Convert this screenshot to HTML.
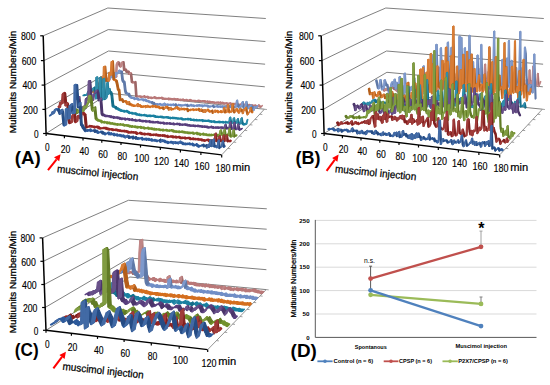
<!DOCTYPE html>
<html><head><meta charset="utf-8"><style>
html,body{margin:0;padding:0;background:#fff;width:550px;height:385px;overflow:hidden}
svg{display:block}
text{font-family:"Liberation Sans",sans-serif}
</style></head><body>
<svg width="550" height="385" viewBox="0 0 550 385">
<rect width="550" height="385" fill="#fff"/>
<line x1="46.1" y1="133.5" x2="109.2" y2="93.3" stroke="#727272" stroke-width="0.9"/>
<line x1="109.2" y1="93.3" x2="264.4" y2="109.2" stroke="#727272" stroke-width="0.9"/>
<line x1="45.4" y1="109.4" x2="108.9" y2="72.3" stroke="#727272" stroke-width="0.9"/>
<line x1="108.9" y1="72.3" x2="264.8" y2="86.8" stroke="#727272" stroke-width="0.9"/>
<line x1="44.6" y1="85.1" x2="108.5" y2="51" stroke="#727272" stroke-width="0.9"/>
<line x1="108.5" y1="51" x2="265.1" y2="64.2" stroke="#727272" stroke-width="0.9"/>
<line x1="43.9" y1="60.6" x2="108.2" y2="29.6" stroke="#727272" stroke-width="0.9"/>
<line x1="108.2" y1="29.6" x2="265.4" y2="41.5" stroke="#727272" stroke-width="0.9"/>
<line x1="43.2" y1="35.8" x2="107.8" y2="8" stroke="#727272" stroke-width="0.9"/>
<line x1="107.8" y1="8" x2="265.8" y2="18.5" stroke="#727272" stroke-width="0.9"/>
<line x1="46.1" y1="133.5" x2="43.2" y2="35.8" stroke="#000" stroke-width="1.5"/>
<line x1="43.1" y1="133.5" x2="46.1" y2="133.5" stroke="#000" stroke-width="1.2"/>
<line x1="42.4" y1="109.4" x2="45.4" y2="109.4" stroke="#000" stroke-width="1.2"/>
<line x1="41.6" y1="85.1" x2="44.6" y2="85.1" stroke="#000" stroke-width="1.2"/>
<line x1="40.9" y1="60.6" x2="43.9" y2="60.6" stroke="#000" stroke-width="1.2"/>
<line x1="40.2" y1="35.8" x2="43.2" y2="35.8" stroke="#000" stroke-width="1.2"/>
<line x1="46.1" y1="133.5" x2="221.7" y2="154.9" stroke="#000" stroke-width="1.4"/>
<line x1="46.1" y1="133.5" x2="46.1" y2="136" stroke="#000" stroke-width="1.2"/>
<line x1="64.4" y1="135.7" x2="64.4" y2="138.2" stroke="#000" stroke-width="1.2"/>
<line x1="83" y1="138" x2="83" y2="140.5" stroke="#000" stroke-width="1.2"/>
<line x1="101.8" y1="140.3" x2="101.8" y2="142.8" stroke="#000" stroke-width="1.2"/>
<line x1="121" y1="142.6" x2="121" y2="145.1" stroke="#000" stroke-width="1.2"/>
<line x1="140.5" y1="145" x2="140.5" y2="147.5" stroke="#000" stroke-width="1.2"/>
<line x1="160.3" y1="147.4" x2="160.3" y2="149.9" stroke="#000" stroke-width="1.2"/>
<line x1="180.4" y1="149.9" x2="180.4" y2="152.4" stroke="#000" stroke-width="1.2"/>
<line x1="200.9" y1="152.4" x2="200.9" y2="154.9" stroke="#000" stroke-width="1.2"/>
<line x1="221.7" y1="154.9" x2="221.7" y2="157.4" stroke="#000" stroke-width="1.2"/>
<line x1="221.7" y1="154.9" x2="264.4" y2="109.2" stroke="#888" stroke-width="0.9"/>
<line x1="227.8" y1="148.4" x2="230.3" y2="148.7" stroke="#888" stroke-width="0.8"/>
<line x1="233.7" y1="142.1" x2="236.2" y2="142.4" stroke="#888" stroke-width="0.8"/>
<line x1="239.3" y1="136.1" x2="241.8" y2="136.4" stroke="#888" stroke-width="0.8"/>
<line x1="244.7" y1="130.3" x2="247.2" y2="130.6" stroke="#888" stroke-width="0.8"/>
<line x1="249.9" y1="124.7" x2="252.4" y2="125" stroke="#888" stroke-width="0.8"/>
<line x1="254.9" y1="119.4" x2="257.4" y2="119.7" stroke="#888" stroke-width="0.8"/>
<line x1="259.8" y1="114.2" x2="262.3" y2="114.5" stroke="#888" stroke-width="0.8"/>
<line x1="264.4" y1="109.2" x2="266.9" y2="109.5" stroke="#888" stroke-width="0.8"/>
<text x="38.5" y="137.7" font-size="10" text-anchor="end" textLength="4.6" lengthAdjust="spacingAndGlyphs" fill="#000" stroke="#000" stroke-width="0.15">0</text>
<text x="37.8" y="113.6" font-size="10" text-anchor="end" textLength="14.6" lengthAdjust="spacingAndGlyphs" fill="#000" stroke="#000" stroke-width="0.15">200</text>
<text x="37" y="89.3" font-size="10" text-anchor="end" textLength="14.6" lengthAdjust="spacingAndGlyphs" fill="#000" stroke="#000" stroke-width="0.15">400</text>
<text x="36.3" y="64.8" font-size="10" text-anchor="end" textLength="14.6" lengthAdjust="spacingAndGlyphs" fill="#000" stroke="#000" stroke-width="0.15">600</text>
<text x="35.6" y="40" font-size="10" text-anchor="end" textLength="14.6" lengthAdjust="spacingAndGlyphs" fill="#000" stroke="#000" stroke-width="0.15">800</text>
<text x="47.3" y="150.8" font-size="10" text-anchor="middle" textLength="4.6" lengthAdjust="spacingAndGlyphs" fill="#000" stroke="#000" stroke-width="0.15">0</text>
<text x="65.6" y="153" font-size="10" text-anchor="middle" textLength="9.6" lengthAdjust="spacingAndGlyphs" fill="#000" stroke="#000" stroke-width="0.15">20</text>
<text x="84.2" y="155.3" font-size="10" text-anchor="middle" textLength="9.6" lengthAdjust="spacingAndGlyphs" fill="#000" stroke="#000" stroke-width="0.15">40</text>
<text x="103" y="157.6" font-size="10" text-anchor="middle" textLength="9.6" lengthAdjust="spacingAndGlyphs" fill="#000" stroke="#000" stroke-width="0.15">60</text>
<text x="122.2" y="159.9" font-size="10" text-anchor="middle" textLength="9.6" lengthAdjust="spacingAndGlyphs" fill="#000" stroke="#000" stroke-width="0.15">80</text>
<text x="141.7" y="162.3" font-size="10" text-anchor="middle" textLength="15" lengthAdjust="spacingAndGlyphs" fill="#000" stroke="#000" stroke-width="0.15">100</text>
<text x="161.5" y="164.7" font-size="10" text-anchor="middle" textLength="15" lengthAdjust="spacingAndGlyphs" fill="#000" stroke="#000" stroke-width="0.15">120</text>
<text x="181.6" y="167.2" font-size="10" text-anchor="middle" textLength="15" lengthAdjust="spacingAndGlyphs" fill="#000" stroke="#000" stroke-width="0.15">140</text>
<text x="202.1" y="169.7" font-size="10" text-anchor="middle" textLength="15" lengthAdjust="spacingAndGlyphs" fill="#000" stroke="#000" stroke-width="0.15">160</text>
<text x="222.9" y="172.2" font-size="10" text-anchor="middle" textLength="15" lengthAdjust="spacingAndGlyphs" fill="#000" stroke="#000" stroke-width="0.15">180</text>
<text x="232.2" y="170.6" font-size="10.5" textLength="18" lengthAdjust="spacingAndGlyphs" fill="#000" stroke="#000" stroke-width="0.2">min</text>
<line x1="324.1" y1="133.5" x2="387.2" y2="93.3" stroke="#727272" stroke-width="0.9"/>
<line x1="387.2" y1="93.3" x2="542.4" y2="109.2" stroke="#727272" stroke-width="0.9"/>
<line x1="323.4" y1="109.4" x2="386.9" y2="72.3" stroke="#727272" stroke-width="0.9"/>
<line x1="386.9" y1="72.3" x2="542.8" y2="86.8" stroke="#727272" stroke-width="0.9"/>
<line x1="322.6" y1="85.1" x2="386.5" y2="51" stroke="#727272" stroke-width="0.9"/>
<line x1="386.5" y1="51" x2="543.1" y2="64.2" stroke="#727272" stroke-width="0.9"/>
<line x1="321.9" y1="60.6" x2="386.2" y2="29.6" stroke="#727272" stroke-width="0.9"/>
<line x1="386.2" y1="29.6" x2="543.4" y2="41.5" stroke="#727272" stroke-width="0.9"/>
<line x1="321.2" y1="35.8" x2="385.8" y2="8" stroke="#727272" stroke-width="0.9"/>
<line x1="385.8" y1="8" x2="543.8" y2="18.5" stroke="#727272" stroke-width="0.9"/>
<line x1="324.1" y1="133.5" x2="321.2" y2="35.8" stroke="#000" stroke-width="1.5"/>
<line x1="321.1" y1="133.5" x2="324.1" y2="133.5" stroke="#000" stroke-width="1.2"/>
<line x1="320.4" y1="109.4" x2="323.4" y2="109.4" stroke="#000" stroke-width="1.2"/>
<line x1="319.6" y1="85.1" x2="322.6" y2="85.1" stroke="#000" stroke-width="1.2"/>
<line x1="318.9" y1="60.6" x2="321.9" y2="60.6" stroke="#000" stroke-width="1.2"/>
<line x1="318.2" y1="35.8" x2="321.2" y2="35.8" stroke="#000" stroke-width="1.2"/>
<line x1="324.1" y1="133.5" x2="499.7" y2="154.9" stroke="#000" stroke-width="1.4"/>
<line x1="324.1" y1="133.5" x2="324.1" y2="136" stroke="#000" stroke-width="1.2"/>
<line x1="342.4" y1="135.7" x2="342.4" y2="138.2" stroke="#000" stroke-width="1.2"/>
<line x1="361" y1="138" x2="361" y2="140.5" stroke="#000" stroke-width="1.2"/>
<line x1="379.8" y1="140.3" x2="379.8" y2="142.8" stroke="#000" stroke-width="1.2"/>
<line x1="399" y1="142.6" x2="399" y2="145.1" stroke="#000" stroke-width="1.2"/>
<line x1="418.5" y1="145" x2="418.5" y2="147.5" stroke="#000" stroke-width="1.2"/>
<line x1="438.3" y1="147.4" x2="438.3" y2="149.9" stroke="#000" stroke-width="1.2"/>
<line x1="458.4" y1="149.9" x2="458.4" y2="152.4" stroke="#000" stroke-width="1.2"/>
<line x1="478.9" y1="152.4" x2="478.9" y2="154.9" stroke="#000" stroke-width="1.2"/>
<line x1="499.7" y1="154.9" x2="499.7" y2="157.4" stroke="#000" stroke-width="1.2"/>
<line x1="499.7" y1="154.9" x2="542.4" y2="109.2" stroke="#888" stroke-width="0.9"/>
<line x1="505.8" y1="148.4" x2="508.3" y2="148.7" stroke="#888" stroke-width="0.8"/>
<line x1="511.7" y1="142.1" x2="514.2" y2="142.4" stroke="#888" stroke-width="0.8"/>
<line x1="517.3" y1="136.1" x2="519.8" y2="136.4" stroke="#888" stroke-width="0.8"/>
<line x1="522.7" y1="130.3" x2="525.2" y2="130.6" stroke="#888" stroke-width="0.8"/>
<line x1="527.9" y1="124.7" x2="530.4" y2="125" stroke="#888" stroke-width="0.8"/>
<line x1="532.9" y1="119.4" x2="535.4" y2="119.7" stroke="#888" stroke-width="0.8"/>
<line x1="537.8" y1="114.2" x2="540.3" y2="114.5" stroke="#888" stroke-width="0.8"/>
<line x1="542.4" y1="109.2" x2="544.9" y2="109.5" stroke="#888" stroke-width="0.8"/>
<text x="316.5" y="137.7" font-size="10" text-anchor="end" textLength="4.6" lengthAdjust="spacingAndGlyphs" fill="#000" stroke="#000" stroke-width="0.15">0</text>
<text x="315.8" y="113.6" font-size="10" text-anchor="end" textLength="14.6" lengthAdjust="spacingAndGlyphs" fill="#000" stroke="#000" stroke-width="0.15">200</text>
<text x="315" y="89.3" font-size="10" text-anchor="end" textLength="14.6" lengthAdjust="spacingAndGlyphs" fill="#000" stroke="#000" stroke-width="0.15">400</text>
<text x="314.3" y="64.8" font-size="10" text-anchor="end" textLength="14.6" lengthAdjust="spacingAndGlyphs" fill="#000" stroke="#000" stroke-width="0.15">600</text>
<text x="313.6" y="40" font-size="10" text-anchor="end" textLength="14.6" lengthAdjust="spacingAndGlyphs" fill="#000" stroke="#000" stroke-width="0.15">800</text>
<text x="325.3" y="150.8" font-size="10" text-anchor="middle" textLength="4.6" lengthAdjust="spacingAndGlyphs" fill="#000" stroke="#000" stroke-width="0.15">0</text>
<text x="343.6" y="153" font-size="10" text-anchor="middle" textLength="9.6" lengthAdjust="spacingAndGlyphs" fill="#000" stroke="#000" stroke-width="0.15">20</text>
<text x="362.2" y="155.3" font-size="10" text-anchor="middle" textLength="9.6" lengthAdjust="spacingAndGlyphs" fill="#000" stroke="#000" stroke-width="0.15">40</text>
<text x="381" y="157.6" font-size="10" text-anchor="middle" textLength="9.6" lengthAdjust="spacingAndGlyphs" fill="#000" stroke="#000" stroke-width="0.15">60</text>
<text x="400.2" y="159.9" font-size="10" text-anchor="middle" textLength="9.6" lengthAdjust="spacingAndGlyphs" fill="#000" stroke="#000" stroke-width="0.15">80</text>
<text x="419.7" y="162.3" font-size="10" text-anchor="middle" textLength="15" lengthAdjust="spacingAndGlyphs" fill="#000" stroke="#000" stroke-width="0.15">100</text>
<text x="439.5" y="164.7" font-size="10" text-anchor="middle" textLength="15" lengthAdjust="spacingAndGlyphs" fill="#000" stroke="#000" stroke-width="0.15">120</text>
<text x="459.6" y="167.2" font-size="10" text-anchor="middle" textLength="15" lengthAdjust="spacingAndGlyphs" fill="#000" stroke="#000" stroke-width="0.15">140</text>
<text x="480.1" y="169.7" font-size="10" text-anchor="middle" textLength="15" lengthAdjust="spacingAndGlyphs" fill="#000" stroke="#000" stroke-width="0.15">160</text>
<text x="500.9" y="172.2" font-size="10" text-anchor="middle" textLength="15" lengthAdjust="spacingAndGlyphs" fill="#000" stroke="#000" stroke-width="0.15">180</text>
<text x="510.2" y="170.6" font-size="10.5" textLength="18" lengthAdjust="spacingAndGlyphs" fill="#000" stroke="#000" stroke-width="0.2">min</text>
<line x1="46" y1="330.3" x2="129.9" y2="277" stroke="#727272" stroke-width="0.9"/>
<line x1="129.9" y1="277" x2="266.2" y2="289.6" stroke="#727272" stroke-width="0.9"/>
<line x1="45.1" y1="307.5" x2="129.5" y2="258" stroke="#727272" stroke-width="0.9"/>
<line x1="129.5" y1="258" x2="266.4" y2="269.7" stroke="#727272" stroke-width="0.9"/>
<line x1="44.3" y1="284.5" x2="129.2" y2="238.9" stroke="#727272" stroke-width="0.9"/>
<line x1="129.2" y1="238.9" x2="266.5" y2="249.5" stroke="#727272" stroke-width="0.9"/>
<line x1="43.4" y1="261.3" x2="128.8" y2="219.7" stroke="#727272" stroke-width="0.9"/>
<line x1="128.8" y1="219.7" x2="266.7" y2="229.2" stroke="#727272" stroke-width="0.9"/>
<line x1="42.6" y1="237.9" x2="128.4" y2="200.3" stroke="#727272" stroke-width="0.9"/>
<line x1="128.4" y1="200.3" x2="266.8" y2="208.8" stroke="#727272" stroke-width="0.9"/>
<line x1="46" y1="330.3" x2="42.6" y2="237.9" stroke="#000" stroke-width="1.5"/>
<line x1="43" y1="330.3" x2="46" y2="330.3" stroke="#000" stroke-width="1.2"/>
<line x1="42.1" y1="307.5" x2="45.1" y2="307.5" stroke="#000" stroke-width="1.2"/>
<line x1="41.3" y1="284.5" x2="44.3" y2="284.5" stroke="#000" stroke-width="1.2"/>
<line x1="40.4" y1="261.3" x2="43.4" y2="261.3" stroke="#000" stroke-width="1.2"/>
<line x1="39.6" y1="237.9" x2="42.6" y2="237.9" stroke="#000" stroke-width="1.2"/>
<line x1="46" y1="330.3" x2="207.7" y2="349.6" stroke="#000" stroke-width="1.4"/>
<line x1="46" y1="330.3" x2="46" y2="332.8" stroke="#000" stroke-width="1.2"/>
<line x1="71.4" y1="333.3" x2="71.4" y2="335.8" stroke="#000" stroke-width="1.2"/>
<line x1="97.5" y1="336.4" x2="97.5" y2="338.9" stroke="#000" stroke-width="1.2"/>
<line x1="124.1" y1="339.6" x2="124.1" y2="342.1" stroke="#000" stroke-width="1.2"/>
<line x1="151.3" y1="342.9" x2="151.3" y2="345.4" stroke="#000" stroke-width="1.2"/>
<line x1="179.2" y1="346.2" x2="179.2" y2="348.7" stroke="#000" stroke-width="1.2"/>
<line x1="207.7" y1="349.6" x2="207.7" y2="352.1" stroke="#000" stroke-width="1.2"/>
<line x1="207.7" y1="349.6" x2="266.2" y2="289.6" stroke="#888" stroke-width="0.9"/>
<line x1="216.4" y1="340.6" x2="218.9" y2="340.9" stroke="#888" stroke-width="0.8"/>
<line x1="224.7" y1="332.2" x2="227.2" y2="332.5" stroke="#888" stroke-width="0.8"/>
<line x1="232.5" y1="324.1" x2="235" y2="324.4" stroke="#888" stroke-width="0.8"/>
<line x1="240" y1="316.5" x2="242.5" y2="316.8" stroke="#888" stroke-width="0.8"/>
<line x1="247" y1="309.3" x2="249.5" y2="309.6" stroke="#888" stroke-width="0.8"/>
<line x1="253.7" y1="302.4" x2="256.2" y2="302.7" stroke="#888" stroke-width="0.8"/>
<line x1="260.1" y1="295.9" x2="262.6" y2="296.2" stroke="#888" stroke-width="0.8"/>
<line x1="266.2" y1="289.6" x2="268.7" y2="289.9" stroke="#888" stroke-width="0.8"/>
<text x="38.4" y="334.5" font-size="10" text-anchor="end" textLength="4.6" lengthAdjust="spacingAndGlyphs" fill="#000" stroke="#000" stroke-width="0.15">0</text>
<text x="37.5" y="311.7" font-size="10" text-anchor="end" textLength="14.6" lengthAdjust="spacingAndGlyphs" fill="#000" stroke="#000" stroke-width="0.15">200</text>
<text x="36.7" y="288.7" font-size="10" text-anchor="end" textLength="14.6" lengthAdjust="spacingAndGlyphs" fill="#000" stroke="#000" stroke-width="0.15">400</text>
<text x="35.8" y="265.5" font-size="10" text-anchor="end" textLength="14.6" lengthAdjust="spacingAndGlyphs" fill="#000" stroke="#000" stroke-width="0.15">600</text>
<text x="35" y="242.1" font-size="10" text-anchor="end" textLength="14.6" lengthAdjust="spacingAndGlyphs" fill="#000" stroke="#000" stroke-width="0.15">800</text>
<text x="47.2" y="347.6" font-size="10" text-anchor="middle" textLength="4.6" lengthAdjust="spacingAndGlyphs" fill="#000" stroke="#000" stroke-width="0.15">0</text>
<text x="72.6" y="350.6" font-size="10" text-anchor="middle" textLength="9.6" lengthAdjust="spacingAndGlyphs" fill="#000" stroke="#000" stroke-width="0.15">20</text>
<text x="98.7" y="353.7" font-size="10" text-anchor="middle" textLength="9.6" lengthAdjust="spacingAndGlyphs" fill="#000" stroke="#000" stroke-width="0.15">40</text>
<text x="125.3" y="356.9" font-size="10" text-anchor="middle" textLength="9.6" lengthAdjust="spacingAndGlyphs" fill="#000" stroke="#000" stroke-width="0.15">60</text>
<text x="152.5" y="360.2" font-size="10" text-anchor="middle" textLength="9.6" lengthAdjust="spacingAndGlyphs" fill="#000" stroke="#000" stroke-width="0.15">80</text>
<text x="180.4" y="363.5" font-size="10" text-anchor="middle" textLength="15" lengthAdjust="spacingAndGlyphs" fill="#000" stroke="#000" stroke-width="0.15">100</text>
<text x="208.9" y="366.9" font-size="10" text-anchor="middle" textLength="15" lengthAdjust="spacingAndGlyphs" fill="#000" stroke="#000" stroke-width="0.15">120</text>
<text x="218.2" y="365.3" font-size="10.5" textLength="18" lengthAdjust="spacingAndGlyphs" fill="#000" stroke="#000" stroke-width="0.2">min</text>
<text x="14.8" y="164.2" font-size="18.5" font-weight="bold" textLength="26" lengthAdjust="spacingAndGlyphs" fill="#000">(A)</text>
<text x="295.6" y="164.4" font-size="18.5" font-weight="bold" textLength="25" lengthAdjust="spacingAndGlyphs" fill="#000">(B)</text>
<text x="14.8" y="355.6" font-size="18.5" font-weight="bold" textLength="23.8" lengthAdjust="spacingAndGlyphs" fill="#000">(C)</text>
<text x="290.6" y="356.9" font-size="18.5" font-weight="bold" textLength="26.2" lengthAdjust="spacingAndGlyphs" fill="#000">(D)</text>
<text x="16.3" y="82" font-size="8.9" text-anchor="middle" textLength="102.5" lengthAdjust="spacingAndGlyphs" transform="rotate(-90 16.3 82)" fill="#000" stroke="#000" stroke-width="0.3">Multiunits Numbers/Min</text>
<text x="291.7" y="82" font-size="8.9" text-anchor="middle" textLength="102.5" lengthAdjust="spacingAndGlyphs" transform="rotate(-90 291.7 82)" fill="#000" stroke="#000" stroke-width="0.3">Multiunits Numbers/Min</text>
<text x="16.3" y="282" font-size="8.9" text-anchor="middle" textLength="102.5" lengthAdjust="spacingAndGlyphs" transform="rotate(-90 16.3 282)" fill="#000" stroke="#000" stroke-width="0.3">Multiunits Numbers/Min</text>
<line x1="48" y1="170.2" x2="56.6" y2="159.3" stroke="#ff0000" stroke-width="2"/>
<polygon points="60.6,154.2 59.2,161.3 54,157.3" fill="#ff0000"/>
<text x="56.8" y="172.3" font-size="10.5" textLength="81.5" lengthAdjust="spacingAndGlyphs" transform="rotate(5.6 56.8 172.3)" fill="#000" stroke="#000" stroke-width="0.25">muscimol injection</text>
<line x1="326.6" y1="170.8" x2="334.7" y2="159.8" stroke="#ff0000" stroke-width="2"/>
<polygon points="338.6,154.6 337.4,161.8 332.1,157.9" fill="#ff0000"/>
<text x="334.8" y="172.3" font-size="10.5" textLength="81.5" lengthAdjust="spacingAndGlyphs" transform="rotate(5.6 334.8 172.3)" fill="#000" stroke="#000" stroke-width="0.25">muscimol injection</text>
<line x1="53.4" y1="368.4" x2="62" y2="356.9" stroke="#ff0000" stroke-width="2"/>
<polygon points="65.9,351.7 64.6,358.9 59.4,354.9" fill="#ff0000"/>
<text x="62.2" y="369.7" font-size="10.5" textLength="81.5" lengthAdjust="spacingAndGlyphs" transform="rotate(6.2 62.2 369.7)" fill="#000" stroke="#000" stroke-width="0.25">muscimol injection</text>
<path d="M111.3,75.7 112.1,75.9 113.5,75.1 112.7,74.9ZM112.9,74 113.7,74.5 115.1,73.6 114.3,73.2ZM116.9,62.7 117.7,62.7 119.1,61.9 118.2,61.9ZM119.4,66.4 120.3,67.1 121.6,66.3 120.8,65.6ZM121,62.8 121.9,62.6 123.2,61.8 122.4,62ZM121.9,62.6 122.7,62.3 124,61.6 123.2,61.8ZM123.6,70.6 124.5,69.5 125.8,68.7 125,69.7ZM124.5,69.5 125.3,70.3 126.6,69.5 125.8,68.7ZM126.2,72.6 127,71.7 128.3,70.9 127.5,71.7ZM127,71.7 127.8,72.2 129.2,71.4 128.3,70.9ZM129.5,73.3 130.4,74.3 131.7,73.5 130.8,72.5ZM131.3,82.5 132.1,82.4 133.5,81.6 132.6,81.6ZM132.1,82.4 133,83.2 134.3,82.4 133.5,81.6ZM133,83.2 133.8,82.5 135.1,81.7 134.3,82.4ZM133.8,82.5 134.7,82.3 136,81.5 135.1,81.7ZM135.7,96.7 136.5,97.2 137.8,96.3 137,95.8ZM136.5,97.2 137.3,97 138.6,96.1 137.8,96.3ZM137.3,97 138.2,96.9 139.5,96 138.6,96.1ZM138.2,96.9 139,96.9 140.3,96 139.5,96ZM139,96.9 139.8,96.9 141.1,96 140.3,96ZM139.8,96.9 140.7,97.4 142,96.5 141.1,96ZM140.7,97.4 141.5,97.4 142.8,96.5 142,96.5ZM141.5,97.4 142.4,97.1 143.7,96.2 142.8,96.5ZM142.4,97.1 143.2,96.4 144.5,95.5 143.7,96.2ZM143.2,96.4 144.1,97.3 145.3,96.4 144.5,95.5ZM144.1,97.3 144.9,97.5 146.2,96.6 145.3,96.4ZM144.9,97.5 145.7,97.4 147,96.4 146.2,96.6ZM145.7,97.4 146.6,97.1 147.9,96.2 147,96.4ZM146.6,97.1 147.4,97.7 148.7,96.7 147.9,96.2ZM147.4,97.7 148.3,98.6 149.6,97.7 148.7,96.7ZM148.3,98.6 149.1,98 150.4,97.1 149.6,97.7ZM149.1,98 150,98.1 151.2,97.2 150.4,97.1ZM150,98.1 150.8,98.3 152.1,97.4 151.2,97.2ZM150.8,98.3 151.7,98.5 152.9,97.6 152.1,97.4ZM151.7,98.5 152.5,98.4 153.8,97.5 152.9,97.6ZM152.5,98.4 153.4,97.3 154.6,96.4 153.8,97.5ZM153.4,97.3 154.2,98 155.5,97.1 154.6,96.4ZM154.2,98 155.1,98.2 156.3,97.3 155.5,97.1ZM155.1,98.2 155.9,98.8 157.2,97.8 156.3,97.3ZM155.9,98.8 156.8,98.5 158,97.6 157.2,97.8ZM156.8,98.5 157.6,98.3 158.9,97.4 158,97.6ZM157.6,98.3 158.5,98.6 159.7,97.7 158.9,97.4ZM158.5,98.6 159.3,98.7 160.6,97.7 159.7,97.7ZM159.3,98.7 160.2,98.1 161.4,97.2 160.6,97.7ZM160.2,98.1 161,98.3 162.3,97.3 161.4,97.2ZM161,98.3 161.9,98.6 163.1,97.7 162.3,97.3ZM161.9,98.6 162.8,99.4 164,98.5 163.1,97.7ZM162.8,99.4 163.6,98.9 164.8,98 164,98.5ZM163.6,98.9 164.5,99.4 165.7,98.4 164.8,98ZM164.5,99.4 165.3,99.3 166.6,98.4 165.7,98.4ZM165.3,99.3 166.2,99.2 167.4,98.3 166.6,98.4ZM166.2,99.2 167,99.1 168.3,98.2 167.4,98.3ZM167,99.1 167.9,98.9 169.1,98 168.3,98.2ZM167.9,98.9 168.8,100.1 170,99.2 169.1,98ZM168.8,100.1 169.6,99.1 170.8,98.2 170,99.2ZM169.6,99.1 170.5,99.6 171.7,98.7 170.8,98.2ZM170.5,99.6 171.4,99.5 172.6,98.6 171.7,98.7ZM171.4,99.5 172.2,99.9 173.4,99 172.6,98.6ZM172.2,99.9 173.1,99.1 174.3,98.2 173.4,99ZM173.1,99.1 173.9,99.7 175.1,98.8 174.3,98.2ZM173.9,99.7 174.8,99.5 176,98.6 175.1,98.8ZM174.8,99.5 175.7,100.1 176.9,99.2 176,98.6ZM175.7,100.1 176.5,99.6 177.7,98.6 176.9,99.2ZM176.5,99.6 177.4,99.9 178.6,99 177.7,98.6ZM177.4,99.9 178.3,100.3 179.5,99.4 178.6,99ZM178.3,100.3 179.1,100.2 180.3,99.2 179.5,99.4ZM179.1,100.2 180,100.4 181.2,99.4 180.3,99.2ZM180,100.4 180.9,100.5 182.1,99.6 181.2,99.4ZM180.9,100.5 181.7,99.8 182.9,98.9 182.1,99.6ZM181.7,99.8 182.6,100.3 183.8,99.3 182.9,98.9ZM182.6,100.3 183.5,100.6 184.7,99.6 183.8,99.3ZM183.5,100.6 184.4,101 185.5,100.1 184.7,99.6ZM184.4,101 185.2,100.2 186.4,99.3 185.5,100.1ZM185.2,100.2 186.1,100.7 187.3,99.7 186.4,99.3ZM186.1,100.7 187,100.8 188.1,99.9 187.3,99.7ZM187,100.8 187.9,101 189,100.1 188.1,99.9ZM187.9,101 188.7,100.3 189.9,99.4 189,100.1ZM188.7,100.3 189.6,100.5 190.8,99.6 189.9,99.4ZM189.6,100.5 190.5,101.1 191.6,100.1 190.8,99.6ZM190.5,101.1 191.4,101.2 192.5,100.3 191.6,100.1ZM191.4,101.2 192.2,101.2 193.4,100.3 192.5,100.3ZM192.2,101.2 193.1,101.2 194.3,100.3 193.4,100.3ZM193.1,101.2 194,101.2 195.1,100.3 194.3,100.3ZM194,101.2 194.9,101.8 196,100.8 195.1,100.3ZM194.9,101.8 195.8,101.6 196.9,100.7 196,100.8ZM195.8,101.6 196.6,101.4 197.8,100.5 196.9,100.7ZM196.6,101.4 197.5,101.1 198.6,100.2 197.8,100.5ZM197.5,101.1 198.4,101.4 199.5,100.4 198.6,100.2ZM198.4,101.4 199.3,101.6 200.4,100.6 199.5,100.4ZM199.3,101.6 200.2,102 201.3,101 200.4,100.6ZM200.2,102 201,101.6 202.2,100.7 201.3,101ZM201,101.6 201.9,101.5 203,100.6 202.2,100.7ZM201.9,101.5 202.8,101.6 203.9,100.6 203,100.6ZM202.8,101.6 203.7,101.5 204.8,100.6 203.9,100.6ZM203.7,101.5 204.6,102.1 205.7,101.2 204.8,100.6ZM204.6,102.1 205.5,102.3 206.6,101.3 205.7,101.2ZM205.5,102.3 206.4,101.8 207.5,100.8 206.6,101.3ZM206.4,101.8 207.2,102.4 208.3,101.4 207.5,100.8ZM207.2,102.4 208.1,102.1 209.2,101.1 208.3,101.4ZM208.1,102.1 209,102.3 210.1,101.4 209.2,101.1ZM209,102.3 209.9,102.9 211,102 210.1,101.4ZM209.9,102.9 210.8,102.5 211.9,101.6 211,102ZM210.8,102.5 211.7,102.7 212.8,101.7 211.9,101.6ZM211.7,102.7 212.6,102.8 213.7,101.8 212.8,101.7ZM212.6,102.8 213.5,102.9 214.6,102 213.7,101.8ZM213.5,102.9 214.4,103.3 215.5,102.3 214.6,102ZM214.4,103.3 215.3,103.1 216.3,102.2 215.5,102.3ZM215.3,103.1 216.2,103.2 217.2,102.2 216.3,102.2ZM216.2,103.2 217.1,102.8 218.1,101.8 217.2,102.2ZM217.1,102.8 218,103.3 219,102.3 218.1,101.8ZM218,103.3 218.8,103.2 219.9,102.2 219,102.3ZM218.8,103.2 219.7,102.8 220.8,101.8 219.9,102.2ZM219.7,102.8 220.6,104.1 221.7,103.1 220.8,101.8ZM220.6,104.1 221.5,103.1 222.6,102.2 221.7,103.1ZM221.5,103.1 222.4,103.5 223.5,102.5 222.6,102.2ZM222.4,103.5 223.3,103.8 224.4,102.8 223.5,102.5ZM223.3,103.8 224.2,104.2 225.3,103.2 224.4,102.8ZM224.2,104.2 225.1,103.5 226.2,102.5 225.3,103.2ZM225.1,103.5 226,103.8 227.1,102.8 226.2,102.5ZM226,103.8 226.9,104.1 228,103.1 227.1,102.8ZM226.9,104.1 227.8,104.4 228.9,103.5 228,103.1ZM227.8,104.4 228.8,103.8 229.8,102.8 228.9,103.5ZM228.8,103.8 229.7,103.7 230.7,102.7 229.8,102.8ZM229.7,103.7 230.6,104.6 231.6,103.6 230.7,102.7ZM230.6,104.6 231.5,104.4 232.5,103.4 231.6,103.6ZM231.5,104.4 232.4,104.3 233.4,103.4 232.5,103.4ZM232.4,104.3 233.3,104.2 234.3,103.3 233.4,103.4ZM233.3,104.2 234.2,104.7 235.2,103.8 234.3,103.3ZM234.2,104.7 235.1,104 236.1,103 235.2,103.8ZM235.1,104 236,104.8 237,103.8 236.1,103ZM236,104.8 236.9,105 237.9,104 237,103.8ZM236.9,105 237.8,105.2 238.8,104.2 237.9,104ZM237.8,105.2 238.7,105.4 239.7,104.4 238.8,104.2ZM238.7,105.4 239.6,104.8 240.7,103.9 239.7,104.4ZM239.6,104.8 240.6,105.1 241.6,104.2 240.7,103.9ZM240.6,105.1 241.5,105.5 242.5,104.5 241.6,104.2ZM241.5,105.5 242.4,105.7 243.4,104.7 242.5,104.5ZM242.4,105.7 243.3,105.1 244.3,104.1 243.4,104.7ZM243.3,105.1 244.2,105.1 245.2,104.1 244.3,104.1ZM244.2,105.1 245.1,105.4 246.1,104.4 245.2,104.1ZM245.1,105.4 246,105.6 247,104.6 246.1,104.4ZM246,105.6 247,105.9 247.9,105 247,104.6ZM247,105.9 247.9,105.5 248.9,104.5 247.9,105ZM247.9,105.5 248.8,105.5 249.8,104.5 248.9,104.5ZM248.8,105.5 249.7,105.9 250.7,104.9 249.8,104.5ZM249.7,105.9 250.6,106.1 251.6,105.2 250.7,104.9ZM250.6,106.1 251.6,105.6 252.5,104.6 251.6,105.2ZM251.6,105.6 252.5,106.5 253.4,105.5 252.5,104.6ZM252.5,106.5 253.4,106.2 254.4,105.2 253.4,105.5ZM253.4,106.2 254.3,105.7 255.3,104.7 254.4,105.2ZM254.3,105.7 255.2,106.4 256.2,105.5 255.3,104.7ZM255.2,106.4 256.2,106.6 257.1,105.6 256.2,105.5ZM256.2,106.6 257.1,107.4 258,106.4 257.1,105.6ZM258,105.7 258.9,106.9 259.9,105.9 259,104.7ZM258.9,106.9 259.9,107.1 260.8,106.1 259.9,105.9ZM259.9,107.1 260.8,107.4 261.7,106.4 260.8,106.1ZM260.8,107.4 261.7,106.3 262.7,105.3 261.7,106.4Z" fill="#b97878" stroke="#b97878" stroke-width="1.3" stroke-linejoin="bevel"/>
<path d="M104.8,79.7 105.7,81.7 107.1,80.9 106.2,78.9ZM107.2,78.8 108.1,81.7 109.5,80.8 108.6,77.9ZM110.4,73.9 111.3,75.7 112.7,74.9 111.8,73.1ZM113.7,74.5 114.6,75.9 116,75.1 115.1,73.6ZM114.6,75.9 115.4,77.4 116.8,76.6 116,75.1ZM117.7,62.7 118.6,64.5 119.9,63.7 119.1,61.9ZM118.6,64.5 119.4,66.4 120.8,65.6 119.9,63.7ZM122.7,62.3 123.6,70.6 125,69.7 124,61.6ZM125.3,70.3 126.2,72.6 127.5,71.7 126.6,69.5ZM127.8,72.2 128.7,74.5 130,73.7 129.2,71.4ZM130.4,74.3 131.3,82.5 132.6,81.6 131.7,73.5ZM134.7,82.3 135.7,96.7 137,95.8 136,81.5Z" fill="#9d6666" stroke="#9d6666" stroke-width="1.3" stroke-linejoin="bevel"/>
<path d="M105.7,81.7 106.4,80.3 107.8,79.4 107.1,80.9ZM106.4,80.3 107.2,78.8 108.6,77.9 107.8,79.4ZM108.1,81.7 108.9,79.9 110.3,79.1 109.5,80.8ZM108.9,79.9 109.7,75.7 111,74.9 110.3,79.1ZM109.7,75.7 110.4,73.9 111.8,73.1 111,74.9ZM112.1,75.9 112.9,74 114.3,73.2 113.5,75.1ZM115.4,77.4 116.1,64.5 117.4,63.7 116.8,76.6ZM116.1,64.5 116.9,62.7 118.2,61.9 117.4,63.7ZM120.3,67.1 121,62.8 122.4,62 121.6,66.3ZM128.7,74.5 129.5,73.3 130.8,72.5 130,73.7ZM257.1,107.4 258,105.7 259,104.7 258,106.4Z" fill="#c08686" stroke="#c08686" stroke-width="1.3" stroke-linejoin="bevel"/>
<path d="M97.7,83.6 98.5,84.1 99.9,83.3 99.1,82.7ZM98.5,84.1 99.3,84.1 100.8,83.2 99.9,83.3ZM99.3,84.1 100.2,84.7 101.6,83.9 100.8,83.2ZM100.2,84.7 101,83.8 102.4,83 101.6,83.9ZM103.4,79.7 104.2,79.7 105.7,78.9 104.8,78.9ZM104.2,79.7 105.1,80.6 106.5,79.7 105.7,78.9ZM105.1,80.6 105.9,81.1 107.4,80.3 106.5,79.7ZM105.9,81.1 106.7,80.2 108.2,79.3 107.4,80.3ZM106.7,80.2 107.6,79.3 109,78.4 108.2,79.3ZM107.6,79.3 108.4,79.7 109.8,78.8 109,78.4ZM108.4,79.7 109.2,79.3 110.7,78.4 109.8,78.8ZM110,77 110.9,76.7 112.3,75.9 111.5,76.2ZM110.9,76.7 111.7,77.1 113.1,76.3 112.3,75.9ZM111.7,77.1 112.6,78 114,77.2 113.1,76.3ZM112.6,78 113.4,77.3 114.8,76.4 114,77.2ZM113.4,77.3 114.3,77.6 115.7,76.8 114.8,76.4ZM115,73.2 115.9,74.2 117.3,73.4 116.4,72.4ZM115.9,74.2 116.7,74.1 118.1,73.3 117.3,73.4ZM116.7,74.1 117.6,73.7 119,72.9 118.1,73.3ZM118.4,70.9 119.2,71.9 120.6,71.1 119.8,70.1ZM119.2,71.9 120.1,72 121.5,71.2 120.6,71.1ZM120.1,72 120.9,71.8 122.3,71 121.5,71.2ZM122.8,82.2 123.6,82.4 125,81.5 124.2,81.3ZM125.5,93.7 126.3,93.7 127.7,92.8 126.8,92.8ZM126.3,93.7 127.2,94.7 128.5,93.8 127.7,92.8ZM127.2,94.7 128,94.1 129.4,93.2 128.5,93.8ZM128.9,96.5 129.8,97.4 131.1,96.5 130.3,95.6ZM129.8,97.4 130.6,98.1 132,97.1 131.1,96.5ZM130.6,98.1 131.5,98.4 132.8,97.5 132,97.1ZM131.5,98.4 132.3,98.3 133.7,97.4 132.8,97.5ZM132.3,98.3 133.2,98.2 134.5,97.3 133.7,97.4ZM133.2,98.2 134,99.3 135.4,98.4 134.5,97.3ZM134,99.3 134.9,99.5 136.2,98.6 135.4,98.4ZM134.9,99.5 135.7,98.9 137.1,97.9 136.2,98.6ZM135.7,98.9 136.6,99.2 137.9,98.3 137.1,97.9ZM136.6,99.2 137.5,99.8 138.8,98.9 137.9,98.3ZM137.5,99.8 138.3,100.2 139.7,99.3 138.8,98.9ZM138.3,100.2 139.2,100.1 140.5,99.2 139.7,99.3ZM139.2,100.1 140,99.9 141.4,99 140.5,99.2ZM140,99.9 140.9,99.8 142.2,98.9 141.4,99ZM140.9,99.8 141.8,99.8 143.1,98.9 142.2,98.9ZM141.8,99.8 142.6,100.1 143.9,99.1 143.1,98.9ZM142.6,100.1 143.5,101 144.8,100 143.9,99.1ZM143.5,101 144.3,99.9 145.6,99 144.8,100ZM144.3,99.9 145.2,100.7 146.5,99.8 145.6,99ZM145.2,100.7 146.1,101.4 147.4,100.4 146.5,99.8ZM146.1,101.4 146.9,101.7 148.2,100.7 147.4,100.4ZM146.9,101.7 147.8,101.5 149.1,100.6 148.2,100.7ZM147.8,101.5 148.7,102.4 150,101.5 149.1,100.6ZM148.7,102.4 149.5,102.7 150.8,101.7 150,101.5ZM149.5,102.7 150.4,102.8 151.7,101.8 150.8,101.7ZM150.4,102.8 151.3,102.5 152.5,101.5 151.7,101.8ZM152.1,104 153,103.3 154.3,102.3 153.4,103.1ZM153.9,104.9 154.7,104.7 156,103.8 155.2,104ZM154.7,104.7 155.6,104.6 156.9,103.6 156,103.8ZM155.6,104.6 156.5,104.5 157.7,103.6 156.9,103.6ZM156.5,104.5 157.3,105.5 158.6,104.6 157.7,103.6ZM157.3,105.5 158.2,104.6 159.5,103.6 158.6,104.6ZM158.2,104.6 159.1,104.5 160.3,103.5 159.5,103.6ZM159.1,104.5 160,105.2 161.2,104.3 160.3,103.5ZM160,105.2 160.8,105.2 162.1,104.2 161.2,104.3ZM160.8,105.2 161.7,105.2 163,104.2 162.1,104.2ZM161.7,105.2 162.6,106 163.8,105 163,104.2ZM163.4,104.1 164.3,105 165.6,104 164.7,103.1ZM164.3,105 165.2,105.8 166.4,104.8 165.6,104ZM165.2,105.8 166.1,105 167.3,104 166.4,104.8ZM166.1,105 166.9,105.1 168.2,104.1 167.3,104ZM166.9,105.1 167.8,105.4 169.1,104.4 168.2,104.1ZM167.8,105.4 168.7,105.3 169.9,104.3 169.1,104.4ZM168.7,105.3 169.6,104.9 170.8,104 169.9,104.3ZM169.6,104.9 170.5,105.6 171.7,104.6 170.8,104ZM170.5,105.6 171.3,105.8 172.6,104.9 171.7,104.6ZM171.3,105.8 172.2,104.7 173.4,103.7 172.6,104.9ZM172.2,104.7 173.1,105.3 174.3,104.3 173.4,103.7ZM173.1,105.3 174,105.7 175.2,104.7 174.3,104.3ZM174,105.7 174.9,104.8 176.1,103.8 175.2,104.7ZM175.7,106.5 176.6,106.1 177.8,105.1 177,105.6ZM176.6,106.1 177.5,105.3 178.7,104.3 177.8,105.1ZM177.5,105.3 178.4,105.5 179.6,104.6 178.7,104.3ZM178.4,105.5 179.3,105.5 180.5,104.6 179.6,104.6ZM179.3,105.5 180.2,105.9 181.4,105 180.5,104.6ZM180.2,105.9 181,106 182.2,105 181.4,105ZM181,106 181.9,106 183.1,105 182.2,105ZM181.9,106 182.8,105.9 184,105 183.1,105ZM182.8,105.9 183.7,105.5 184.9,104.5 184,105ZM183.7,105.5 184.6,105.4 185.8,104.4 184.9,104.5ZM184.6,105.4 185.5,105.6 186.7,104.6 185.8,104.4ZM185.5,105.6 186.4,105.3 187.6,104.3 186.7,104.6ZM187.3,106.7 188.2,106 189.3,105 188.5,105.7ZM188.2,106 189.1,106.4 190.2,105.5 189.3,105ZM189.1,106.4 189.9,105.2 191.1,104.2 190.2,105.5ZM189.9,105.2 190.8,106.1 192,105.2 191.1,104.2ZM190.8,106.1 191.7,105.8 192.9,104.8 192,105.2ZM191.7,105.8 192.6,106 193.8,105 192.9,104.8ZM192.6,106 193.5,106.4 194.7,105.5 193.8,105ZM193.5,106.4 194.4,106.5 195.6,105.6 194.7,105.5ZM194.4,106.5 195.3,105.9 196.5,105 195.6,105.6ZM195.3,105.9 196.2,105.9 197.4,104.9 196.5,105ZM196.2,105.9 197.1,106.4 198.3,105.5 197.4,104.9ZM197.1,106.4 198,105.5 199.2,104.5 198.3,105.5ZM198,105.5 198.9,106.2 200.1,105.3 199.2,104.5ZM198.9,106.2 199.8,105.9 201,104.9 200.1,105.3ZM199.8,105.9 200.7,106.2 201.9,105.2 201,104.9ZM200.7,106.2 201.6,105.9 202.8,105 201.9,105.2ZM201.6,105.9 202.5,107.1 203.7,106.1 202.8,105ZM202.5,107.1 203.4,105.8 204.6,104.8 203.7,106.1ZM203.4,105.8 204.3,106.1 205.5,105.1 204.6,104.8ZM204.3,106.1 205.2,106.1 206.4,105.1 205.5,105.1ZM205.2,106.1 206.1,105.9 207.3,105 206.4,105.1ZM206.1,105.9 207,106.2 208.2,105.3 207.3,105ZM207,106.2 207.9,107.2 209.1,106.2 208.2,105.3ZM207.9,107.2 208.9,106.8 210,105.9 209.1,106.2ZM208.9,106.8 209.8,107.2 210.9,106.2 210,105.9ZM209.8,107.2 210.7,106.9 211.8,105.9 210.9,106.2ZM210.7,106.9 211.6,106.5 212.7,105.5 211.8,105.9ZM211.6,106.5 212.5,106.1 213.6,105.1 212.7,105.5ZM213.4,107.5 214.3,107.4 215.4,106.4 214.5,106.5ZM214.3,107.4 215.2,106.9 216.3,105.9 215.4,106.4ZM215.2,106.9 216.1,106.7 217.2,105.7 216.3,105.9ZM216.1,106.7 217.1,106.9 218.1,105.9 217.2,105.7ZM217.1,106.9 218,107.3 219.1,106.3 218.1,105.9ZM218,107.3 218.9,106.9 220,105.9 219.1,106.3ZM218.9,106.9 219.8,107 220.9,106 220,105.9ZM219.8,107 220.7,107.5 221.8,106.5 220.9,106ZM220.7,107.5 221.6,106.7 222.7,105.7 221.8,106.5ZM221.6,106.7 222.5,107.9 223.6,106.9 222.7,105.7ZM222.5,107.9 223.5,107.3 224.5,106.3 223.6,106.9ZM223.5,107.3 224.4,107.4 225.5,106.4 224.5,106.3ZM224.4,107.4 225.3,107.2 226.4,106.2 225.5,106.4ZM225.3,107.2 226.2,107 227.3,106 226.4,106.2ZM226.2,107 227.1,107.7 228.2,106.7 227.3,106ZM227.1,107.7 228.1,107.6 229.1,106.6 228.2,106.7ZM228.1,107.6 229,107.3 230,106.3 229.1,106.6ZM229,107.3 229.9,106.8 231,105.8 230,106.3ZM229.9,106.8 230.8,107.7 231.9,106.7 231,105.8ZM230.8,107.7 231.8,107.1 232.8,106.1 231.9,106.7ZM231.8,107.1 232.7,107.2 233.7,106.2 232.8,106.1ZM232.7,107.2 233.6,107.7 234.7,106.7 233.7,106.2ZM233.6,107.7 234.5,107 235.6,106 234.7,106.7ZM234.5,107 235.5,107.6 236.5,106.6 235.6,106ZM237.3,107 238.3,106 239.3,105 238.4,106ZM240.1,106.5 241.1,106.7 242.1,105.7 241.1,105.5ZM248.5,106.9 249.5,108 250.5,107 249.5,105.9ZM251.3,107.6 252.3,107.6 253.3,106.6 252.3,106.6ZM254.2,107.6 255.1,107.5 256.1,106.5 255.1,106.6ZM255.1,107.5 256.1,108 257,107 256.1,106.5Z" fill="#708ec6" stroke="#708ec6" stroke-width="1.3" stroke-linejoin="bevel"/>
<path d="M101,83.8 101.9,86.1 103.3,85.2 102.4,83ZM102.5,78.4 103.4,79.7 104.8,78.9 104,77.6ZM120.9,71.8 121.9,80.4 123.3,79.5 122.3,71ZM121.9,80.4 122.8,82.2 124.2,81.3 123.3,79.5ZM123.6,82.4 124.6,91 126,90.1 125,81.5ZM124.6,91 125.5,93.7 126.8,92.8 126,90.1ZM128,94.1 128.9,96.5 130.3,95.6 129.4,93.2ZM151.3,102.5 152.1,104 153.4,103.1 152.5,101.5ZM153,103.3 153.9,104.9 155.2,104 154.3,102.3ZM174.9,104.8 175.7,106.5 177,105.6 176.1,103.8ZM186.4,105.3 187.3,106.7 188.5,105.7 187.6,104.3ZM212.5,106.1 213.4,107.5 214.5,106.5 213.6,105.1ZM236.5,100.9 237.3,107 238.4,106 237.5,100ZM238.3,106 239.2,108.4 240.2,107.4 239.3,105ZM242,102.4 242.9,106.8 243.9,105.8 243.1,101.4ZM242.9,106.8 243.8,109.8 244.8,108.8 243.9,105.8ZM245.8,102.3 246.7,107.1 247.7,106.1 246.8,101.3ZM246.7,107.1 247.6,109 248.6,108 247.7,106.1ZM250.4,105.8 251.3,107.6 252.3,106.6 251.4,104.8ZM252.3,107.6 253.2,110.7 254.2,109.7 253.3,106.6Z" fill="#5f79a8" stroke="#5f79a8" stroke-width="1.3" stroke-linejoin="bevel"/>
<path d="M101.9,86.1 102.5,78.4 104,77.6 103.3,85.2ZM109.2,79.3 110,77 111.5,76.2 110.7,78.4ZM114.3,77.6 115,73.2 116.4,72.4 115.7,76.8ZM117.6,73.7 118.4,70.9 119.8,70.1 119,72.9ZM162.6,106 163.4,104.1 164.7,103.1 163.8,105ZM235.5,107.6 236.5,100.9 237.5,100 236.5,106.6ZM239.2,108.4 240.1,106.5 241.1,105.5 240.2,107.4ZM241.1,106.7 242,102.4 243.1,101.4 242.1,105.7ZM243.8,109.8 244.8,107.1 245.8,106.1 244.8,108.8ZM244.8,107.1 245.8,102.3 246.8,101.3 245.8,106.1ZM247.6,109 248.5,106.9 249.5,105.9 248.6,108ZM249.5,108 250.4,105.8 251.4,104.8 250.5,107ZM253.2,110.7 254.2,107.6 255.1,106.6 254.2,109.7ZM256.1,108 257,106.2 258,105.2 257,107Z" fill="#7e99cc" stroke="#7e99cc" stroke-width="1.3" stroke-linejoin="bevel"/>
<path d="M90.4,92.1 91.2,91 92.7,90.1 91.8,91.2ZM91.2,91 92,90.5 93.5,89.6 92.7,90.1ZM92.9,92.3 93.7,92.6 95.2,91.7 94.4,91.4ZM94.5,88.2 95.3,89.2 96.8,88.3 96,87.3ZM95.3,89.2 96.2,88.6 97.7,87.7 96.8,88.3ZM96.2,88.6 97,88 98.5,87.1 97.7,87.7ZM97,88 97.9,89 99.4,88.1 98.5,87.1ZM97.9,89 98.7,88.6 100.2,87.7 99.4,88.1ZM100.2,77.8 101.1,78.9 102.5,78 101.7,76.9ZM102.1,87.4 102.9,86.8 104.4,85.9 103.5,86.5ZM103.4,67 104.3,67.1 105.7,66.3 104.9,66.2ZM105.4,81 106.2,79.8 107.7,79 106.8,80.1ZM107.1,81.6 107.9,81.1 109.4,80.3 108.5,80.7ZM108.7,73.2 109.5,74 111,73.1 110.1,72.4ZM109.5,74 110.4,75.2 111.8,74.4 111,73.1ZM111,62.1 111.9,61.7 113.3,60.9 112.5,61.3ZM113.1,79.9 113.9,80 115.3,79.1 114.5,79ZM113.9,80 114.8,80.5 116.2,79.7 115.3,79.1ZM114.8,80.5 115.7,81.4 117.1,80.5 116.2,79.7ZM117.5,90 118.4,90.5 119.8,89.6 118.9,89.1ZM119.4,100.5 120.2,100.6 121.7,99.7 120.8,99.5ZM120.2,100.6 121.1,99.6 122.5,98.7 121.7,99.7ZM122.9,102.4 123.7,101.6 125.1,100.7 124.3,101.4ZM123.7,101.6 124.6,101.5 126,100.6 125.1,100.7ZM124.6,101.5 125.4,102.1 126.8,101.2 126,100.6ZM125.4,102.1 126.3,103.3 127.7,102.3 126.8,101.2ZM126.3,103.3 127.2,104.5 128.6,103.6 127.7,102.3ZM128.9,105 129.8,104.6 131.2,103.7 130.3,104ZM129.8,104.6 130.7,105.3 132.1,104.3 131.2,103.7ZM130.7,105.3 131.6,105.9 132.9,104.9 132.1,104.3ZM131.6,105.9 132.4,105.8 133.8,104.8 132.9,104.9ZM132.4,105.8 133.3,106.4 134.7,105.4 133.8,104.8ZM133.3,106.4 134.2,106.3 135.5,105.4 134.7,105.4ZM134.2,106.3 135,106.2 136.4,105.2 135.5,105.4ZM135,106.2 135.9,106 137.3,105.1 136.4,105.2ZM138.5,105.5 139.4,106.3 140.7,105.3 139.9,104.5ZM139.4,106.3 140.3,106.7 141.6,105.7 140.7,105.3ZM140.3,106.7 141.2,107.5 142.5,106.5 141.6,105.7ZM141.2,107.5 142,106.7 143.4,105.7 142.5,106.5ZM142,106.7 142.9,107.5 144.2,106.5 143.4,105.7ZM142.9,107.5 143.8,106.7 145.1,105.7 144.2,106.5ZM143.8,106.7 144.7,106.7 146,105.7 145.1,105.7ZM144.7,106.7 145.5,107.8 146.9,106.8 146,105.7ZM146.4,106.3 147.3,107.2 148.6,106.3 147.7,105.3ZM147.3,107.2 148.2,107.2 149.5,106.2 148.6,106.3ZM148.2,107.2 149.1,107 150.4,106.1 149.5,106.2ZM149.1,107 149.9,107.6 151.3,106.6 150.4,106.1ZM149.9,107.6 150.8,106.7 152.1,105.7 151.3,106.6ZM150.8,106.7 151.7,106.3 153,105.3 152.1,105.7ZM151.7,106.3 152.6,107.3 153.9,106.4 153,105.3ZM152.6,107.3 153.5,106.9 154.8,105.9 153.9,106.4ZM153.5,106.9 154.3,106.3 155.7,105.3 154.8,105.9ZM154.3,106.3 155.2,107.2 156.5,106.2 155.7,105.3ZM155.2,107.2 156.1,107.8 157.4,106.9 156.5,106.2ZM156.1,107.8 157,106.9 158.3,105.9 157.4,106.9ZM157,106.9 157.9,107.7 159.2,106.7 158.3,105.9ZM157.9,107.7 158.8,108 160.1,107 159.2,106.7ZM158.8,108 159.7,108.9 161,107.9 160.1,107ZM159.7,108.9 160.6,107.9 161.9,106.9 161,107.9ZM160.6,107.9 161.5,108.6 162.7,107.7 161.9,106.9ZM161.5,108.6 162.3,108 163.6,107 162.7,107.7ZM163.2,109.6 164.1,109.1 165.4,108.1 164.5,108.7ZM165,107.3 165.9,107.2 167.2,106.2 166.3,106.4ZM165.9,107.2 166.8,108.2 168.1,107.2 167.2,106.2ZM166.8,108.2 167.7,108.4 169,107.4 168.1,107.2ZM169.5,108.4 170.4,109.2 171.7,108.2 170.8,107.4ZM170.4,109.2 171.3,110.3 172.6,109.3 171.7,108.2ZM171.3,110.3 172.2,109.6 173.4,108.6 172.6,109.3ZM172.2,109.6 173.1,109.7 174.3,108.7 173.4,108.6ZM173.1,109.7 174,108.6 175.2,107.6 174.3,108.7ZM174,108.6 174.9,109 176.1,108 175.2,107.6ZM175.8,107.5 176.7,108.2 177.9,107.2 177,106.6ZM176.7,108.2 177.6,109.3 178.8,108.3 177.9,107.2ZM177.6,109.3 178.5,109 179.7,108 178.8,108.3ZM178.5,109 179.4,110.3 180.6,109.3 179.7,108ZM180.3,108.9 181.2,109.8 182.4,108.8 181.5,107.9ZM181.2,109.8 182.1,109.5 183.3,108.5 182.4,108.8ZM182.1,109.5 183,109.4 184.2,108.4 183.3,108.5ZM183,109.4 183.9,109.7 185.1,108.7 184.2,108.4ZM183.9,109.7 184.8,110.1 186.1,109.1 185.1,108.7ZM184.8,110.1 185.7,109.3 187,108.3 186.1,109.1ZM185.7,109.3 186.7,109.4 187.9,108.4 187,108.3ZM187.6,111.7 188.5,110.5 189.7,109.5 188.8,110.7ZM188.5,110.5 189.4,110.2 190.6,109.2 189.7,109.5ZM189.4,110.2 190.3,110.6 191.5,109.6 190.6,109.2ZM190.3,110.6 191.2,110.1 192.4,109.1 191.5,109.6ZM191.2,110.1 192.1,109.7 193.3,108.7 192.4,109.1ZM192.1,109.7 193,110.3 194.2,109.3 193.3,108.7ZM193,110.3 194,110.6 195.1,109.5 194.2,109.3ZM194,110.6 194.9,109.8 196.1,108.8 195.1,109.5ZM194.9,109.8 195.8,110.3 197,109.3 196.1,108.8ZM195.8,110.3 196.7,110.4 197.9,109.4 197,109.3ZM196.7,110.4 197.6,109.2 198.8,108.2 197.9,109.4ZM197.6,109.2 198.5,110 199.7,109 198.8,108.2ZM201.3,111.4 202.2,110.8 203.4,109.8 202.5,110.4ZM205.9,111 206.8,109.9 208,108.9 207.1,110ZM206.8,109.9 207.8,111 208.9,110 208,108.9ZM207.8,111 208.7,111.5 209.8,110.5 208.9,110ZM208.7,111.5 209.6,112.3 210.7,111.3 209.8,110.5ZM209.6,112.3 210.5,111.9 211.7,110.9 210.7,111.3ZM210.5,111.9 211.5,111.1 212.6,110.1 211.7,110.9ZM212.4,113.5 213.3,112.7 214.4,111.6 213.5,112.4ZM214.2,111.1 215.2,112.4 216.3,111.4 215.4,110.1ZM215.2,112.4 216.1,111.3 217.2,110.3 216.3,111.4ZM216.1,111.3 217,111.8 218.2,110.7 217.2,110.3ZM217,111.8 218,112.9 219.1,111.9 218.2,110.7ZM218,112.9 218.9,112.4 220,111.4 219.1,111.9ZM218.9,112.4 219.8,111.4 221,110.4 220,111.4ZM219.8,111.4 220.8,112.7 221.9,111.7 221,110.4ZM220.8,112.7 221.7,112.6 222.8,111.5 221.9,111.7ZM221.7,112.6 222.6,112.2 223.7,111.2 222.8,111.5ZM224.5,112.8 225.5,112.8 226.5,111.8 225.6,111.7ZM225.5,112.8 226.4,112.5 227.5,111.5 226.5,111.8ZM228.3,111.7 229.2,112.9 230.3,111.9 229.4,110.7ZM229.2,112.9 230.2,112 231.2,110.9 230.3,111.9ZM230.2,112 231.1,112.2 232.2,111.2 231.2,110.9ZM233.9,113 234.9,111.7 236,110.7 235,112ZM235.9,109.3 236.8,110.6 237.9,109.6 236.9,108.3ZM236.8,110.6 237.7,111.9 238.8,110.8 237.9,109.6ZM237.7,111.9 238.7,113.3 239.7,112.2 238.8,110.8ZM240.6,111.2 241.6,110.6 242.6,109.6 241.6,110.1ZM243.5,110 244.4,110.3 245.4,109.2 244.5,109ZM248.2,113.4 249.2,112.4 250.2,111.4 249.2,112.3ZM251.1,111.7 252,113 253,112 252.1,110.7Z" fill="#d46e1e" stroke="#d46e1e" stroke-width="1.3" stroke-linejoin="bevel"/>
<path d="M92,90.5 92.9,92.3 94.4,91.4 93.5,89.6ZM101.1,78.9 102.1,87.4 103.5,86.5 102.5,78ZM104.3,67.1 105.4,81 106.8,80.1 105.7,66.3ZM106.2,79.8 107.1,81.6 108.5,80.7 107.7,79ZM111.9,61.7 113.1,79.9 114.5,79 113.3,60.9ZM115.7,81.4 116.6,84.9 118,84 117.1,80.5ZM116.6,84.9 117.5,90 118.9,89.1 118,84ZM118.4,90.5 119.4,100.5 120.8,99.5 119.8,89.6ZM121.1,99.6 122,101 123.4,100.1 122.5,98.7ZM122,101 122.9,102.4 124.3,101.4 123.4,100.1ZM128,102.5 128.9,105 130.3,104 129.4,101.5ZM136.8,104.4 137.7,106.8 139,105.8 138.1,103.4ZM162.3,108 163.2,109.6 164.5,108.7 163.6,107ZM167.7,108.4 168.6,110.2 169.9,109.2 169,107.4ZM186.7,109.4 187.6,111.7 188.8,110.7 187.9,108.4ZM198.5,110 199.5,111.5 200.6,110.5 199.7,109ZM200.4,109.9 201.3,111.4 202.5,110.4 201.5,108.9ZM202.2,110.8 203.1,112.4 204.3,111.3 203.4,109.8ZM204.1,110.4 205,112.4 206.1,111.4 205.2,109.4ZM211.5,111.1 212.4,113.5 213.5,112.4 212.6,110.1ZM223.6,108.3 224.5,112.8 225.6,111.7 224.7,107.3ZM227.4,105.5 228.3,111.7 229.4,110.7 228.5,104.5ZM232.1,104.5 233,110.9 234.1,109.8 233.2,103.5ZM233,110.9 233.9,113 235,112 234.1,109.8ZM239.7,109.3 240.6,111.2 241.6,110.1 240.7,108.2ZM241.6,110.6 242.5,113.8 243.5,112.7 242.6,109.6ZM245.4,108.1 246.3,112 247.3,111 246.4,107.1ZM246.3,112 247.2,115.1 248.2,114 247.3,111ZM250.2,108.5 251.1,111.7 252.1,110.7 251.2,107.5Z" fill="#b45e1a" stroke="#b45e1a" stroke-width="1.3" stroke-linejoin="bevel"/>
<path d="M93.7,92.6 94.5,88.2 96,87.3 95.2,91.7ZM98.7,88.6 99.4,80.7 100.9,79.8 100.2,87.7ZM99.4,80.7 100.2,77.8 101.7,76.9 100.9,79.8ZM102.9,86.8 103.4,67 104.9,66.2 104.4,85.9ZM107.9,81.1 108.7,73.2 110.1,72.4 109.4,80.3ZM110.4,75.2 111,62.1 112.5,61.3 111.8,74.4ZM127.2,104.5 128,102.5 129.4,101.5 128.6,103.6ZM135.9,106 136.8,104.4 138.1,103.4 137.3,105.1ZM137.7,106.8 138.5,105.5 139.9,104.5 139,105.8ZM145.5,107.8 146.4,106.3 147.7,105.3 146.9,106.8ZM164.1,109.1 165,107.3 166.3,106.4 165.4,108.1ZM168.6,110.2 169.5,108.4 170.8,107.4 169.9,109.2ZM174.9,109 175.8,107.5 177,106.6 176.1,108ZM179.4,110.3 180.3,108.9 181.5,107.9 180.6,109.3ZM199.5,111.5 200.4,109.9 201.5,108.9 200.6,110.5ZM203.1,112.4 204.1,110.4 205.2,109.4 204.3,111.3ZM205,112.4 205.9,111 207.1,110 206.1,111.4ZM213.3,112.7 214.2,111.1 215.4,110.1 214.4,111.6ZM222.6,112.2 223.6,108.3 224.7,107.3 223.7,111.2ZM226.4,112.5 227.4,105.5 228.5,104.5 227.5,111.5ZM231.1,112.2 232.1,104.5 233.2,103.5 232.2,111.2ZM234.9,111.7 235.9,109.3 236.9,108.3 236,110.7ZM238.7,113.3 239.7,109.3 240.7,108.2 239.7,112.2ZM242.5,113.8 243.5,110 244.5,109 243.5,112.7ZM244.4,110.3 245.4,108.1 246.4,107.1 245.4,109.2ZM247.2,115.1 248.2,113.4 249.2,112.3 248.2,114ZM249.2,112.4 250.2,108.5 251.2,107.5 250.2,111.4Z" fill="#d87c34" stroke="#d87c34" stroke-width="1.3" stroke-linejoin="bevel"/>
<path d="M82.7,95.6 83.5,95.7 85.1,94.8 84.2,94.7ZM83.5,95.7 84.4,95.7 85.9,94.8 85.1,94.8ZM84.4,95.7 85.2,95.3 86.8,94.3 85.9,94.8ZM85.2,95.3 86.1,95.3 87.6,94.4 86.8,94.3ZM89.4,92 90.3,92.3 91.8,91.3 91,91.1ZM92,89 92.8,88.8 94.3,87.9 93.5,88.1ZM92.8,88.8 93.7,88 95.2,87.1 94.3,87.9ZM97.3,98.5 98.2,98.5 99.7,97.6 98.8,97.5ZM98.2,98.5 99,98.6 100.5,97.7 99.7,97.6ZM100.8,99.4 101.7,100.3 103.2,99.4 102.3,98.5ZM104.2,99.5 105.1,99.3 106.6,98.3 105.7,98.5ZM109.4,93.1 110.2,92.8 111.7,91.9 110.8,92.2ZM112.2,106.3 113.1,107.2 114.5,106.2 113.7,105.3ZM113.1,107.2 114,107.3 115.4,106.3 114.5,106.2ZM114,107.3 114.8,107.6 116.3,106.6 115.4,106.3ZM115.7,109 116.6,108.9 118,107.9 117.2,108ZM116.6,108.9 117.5,109.5 118.9,108.5 118,107.9ZM117.5,109.5 118.4,110.2 119.8,109.2 118.9,108.5ZM118.4,110.2 119.2,110.4 120.7,109.4 119.8,109.2ZM119.2,110.4 120.1,110.8 121.6,109.8 120.7,109.4ZM120.1,110.8 121,111.4 122.5,110.4 121.6,109.8ZM121,111.4 121.9,111.4 123.3,110.4 122.5,110.4ZM121.9,111.4 122.8,111.4 124.2,110.4 123.3,110.4ZM122.8,111.4 123.7,111.9 125.1,110.8 124.2,110.4ZM123.7,111.9 124.5,112.2 126,111.2 125.1,110.8ZM124.5,112.2 125.4,111.4 126.8,110.4 126,111.2ZM125.4,111.4 126.3,111.9 127.7,110.9 126.8,110.4ZM126.3,111.9 127.2,112.2 128.6,111.2 127.7,110.9ZM127.2,112.2 128.1,112.7 129.5,111.7 128.6,111.2ZM128.1,112.7 129,113.6 130.4,112.6 129.5,111.7ZM129,113.6 129.9,113.3 131.3,112.3 130.4,112.6ZM129.9,113.3 130.7,113.3 132.1,112.3 131.3,112.3ZM130.7,113.3 131.6,113.8 133,112.8 132.1,112.3ZM131.6,113.8 132.5,114.1 133.9,113 133,112.8ZM132.5,114.1 133.4,114 134.8,113 133.9,113ZM133.4,114 134.3,113.7 135.7,112.7 134.8,113ZM134.3,113.7 135.2,114.5 136.6,113.5 135.7,112.7ZM135.2,114.5 136.1,114.8 137.5,113.7 136.6,113.5ZM136.1,114.8 137,115.2 138.4,114.2 137.5,113.7ZM137,115.2 137.9,114.8 139.2,113.8 138.4,114.2ZM137.9,114.8 138.7,115.4 140.1,114.3 139.2,113.8ZM138.7,115.4 139.6,115.5 141,114.5 140.1,114.3ZM139.6,115.5 140.5,115.7 141.9,114.7 141,114.5ZM140.5,115.7 141.4,115.9 142.8,114.8 141.9,114.7ZM141.4,115.9 142.3,115.7 143.7,114.7 142.8,114.8ZM142.3,115.7 143.2,115.3 144.6,114.2 143.7,114.7ZM143.2,115.3 144.1,115.9 145.5,114.9 144.6,114.2ZM144.1,115.9 145,115.8 146.4,114.8 145.5,114.9ZM145,115.8 145.9,116.3 147.3,115.3 146.4,114.8ZM145.9,116.3 146.8,116.1 148.2,115 147.3,115.3ZM146.8,116.1 147.7,116.6 149.1,115.6 148.2,115ZM147.7,116.6 148.6,115.9 149.9,114.9 149.1,115.6ZM148.6,115.9 149.5,116.5 150.8,115.5 149.9,114.9ZM149.5,116.5 150.4,116.3 151.7,115.3 150.8,115.5ZM150.4,116.3 151.3,116.5 152.6,115.5 151.7,115.3ZM151.3,116.5 152.2,116.2 153.5,115.2 152.6,115.5ZM152.2,116.2 153.1,116.5 154.4,115.5 153.5,115.2ZM153.1,116.5 154,116.6 155.3,115.6 154.4,115.5ZM154,116.6 154.9,117.3 156.2,116.3 155.3,115.6ZM154.9,117.3 155.8,117.3 157.1,116.2 156.2,116.3ZM155.8,117.3 156.7,117.4 158,116.3 157.1,116.2ZM156.7,117.4 157.6,117.4 158.9,116.4 158,116.3ZM157.6,117.4 158.5,117.5 159.8,116.4 158.9,116.4ZM158.5,117.5 159.4,117.1 160.8,116 159.8,116.4ZM159.4,117.1 160.3,117.4 161.7,116.4 160.8,116ZM160.3,117.4 161.2,117.5 162.6,116.4 161.7,116.4ZM161.2,117.5 162.2,117.8 163.5,116.8 162.6,116.4ZM162.2,117.8 163.1,117.9 164.4,116.9 163.5,116.8ZM163.1,117.9 164,118.1 165.3,117.1 164.4,116.9ZM164,118.1 164.9,117.5 166.2,116.5 165.3,117.1ZM164.9,117.5 165.8,117.9 167.1,116.8 166.2,116.5ZM165.8,117.9 166.7,117.8 168,116.7 167.1,116.8ZM166.7,117.8 167.6,118 168.9,117 168,116.7ZM167.6,118 168.5,118.4 169.8,117.4 168.9,117ZM168.5,118.4 169.5,118.3 170.7,117.2 169.8,117.4ZM169.5,118.3 170.4,118.9 171.7,117.9 170.7,117.2ZM170.4,118.9 171.3,118.2 172.6,117.2 171.7,117.9ZM171.3,118.2 172.2,118.5 173.5,117.4 172.6,117.2ZM172.2,118.5 173.1,118.5 174.4,117.5 173.5,117.4ZM173.1,118.5 174,118.6 175.3,117.6 174.4,117.5ZM174,118.6 174.9,118.6 176.2,117.5 175.3,117.6ZM174.9,118.6 175.9,118.9 177.1,117.8 176.2,117.5ZM175.9,118.9 176.8,118.9 178.1,117.8 177.1,117.8ZM176.8,118.9 177.7,119.2 179,118.1 178.1,117.8ZM177.7,119.2 178.6,119.1 179.9,118.1 179,118.1ZM178.6,119.1 179.6,119.1 180.8,118 179.9,118.1ZM179.6,119.1 180.5,119 181.7,117.9 180.8,118ZM180.5,119 181.4,119.4 182.6,118.4 181.7,117.9ZM181.4,119.4 182.3,119.8 183.6,118.8 182.6,118.4ZM182.3,119.8 183.2,120 184.5,119 183.6,118.8ZM183.2,120 184.2,119.6 185.4,118.6 184.5,119ZM184.2,119.6 185.1,119.9 186.3,118.8 185.4,118.6ZM185.1,119.9 186,119.6 187.3,118.5 186.3,118.8ZM186,119.6 186.9,119.3 188.2,118.3 187.3,118.5ZM186.9,119.3 187.9,120.1 189.1,119.1 188.2,118.3ZM187.9,120.1 188.8,119.6 190,118.5 189.1,119.1ZM188.8,119.6 189.7,119.7 191,118.7 190,118.5ZM189.7,119.7 190.7,120.4 191.9,119.4 191,118.7ZM190.7,120.4 191.6,120.4 192.8,119.3 191.9,119.4ZM191.6,120.4 192.5,120.1 193.7,119 192.8,119.3ZM192.5,120.1 193.5,120.6 194.7,119.6 193.7,119ZM193.5,120.6 194.4,120.8 195.6,119.7 194.7,119.6ZM194.4,120.8 195.3,120.3 196.5,119.3 195.6,119.7ZM195.3,120.3 196.3,120.8 197.5,119.8 196.5,119.3ZM196.3,120.8 197.2,120.9 198.4,119.9 197.5,119.8ZM197.2,120.9 198.1,120.6 199.3,119.6 198.4,119.9ZM198.1,120.6 199.1,120.9 200.3,119.8 199.3,119.6ZM199.1,120.9 200,120.9 201.2,119.8 200.3,119.8ZM200,120.9 200.9,120.6 202.1,119.6 201.2,119.8ZM200.9,120.6 201.9,120.8 203.1,119.7 202.1,119.6ZM201.9,120.8 202.8,121.7 204,120.7 203.1,119.7ZM202.8,121.7 203.8,121 204.9,120 204,120.7ZM203.8,121 204.7,121.4 205.9,120.3 204.9,120ZM204.7,121.4 205.6,121.4 206.8,120.3 205.9,120.3ZM205.6,121.4 206.6,121.3 207.8,120.2 206.8,120.3ZM206.6,121.3 207.5,121.1 208.7,120 207.8,120.2ZM207.5,121.1 208.5,121.5 209.6,120.4 208.7,120ZM208.5,121.5 209.4,121.8 210.6,120.8 209.6,120.4ZM209.4,121.8 210.4,121.7 211.5,120.7 210.6,120.8ZM210.4,121.7 211.3,122.4 212.5,121.3 211.5,120.7ZM211.3,122.4 212.3,121.9 213.4,120.8 212.5,121.3ZM212.3,121.9 213.2,122 214.4,120.9 213.4,120.8ZM213.2,122 214.1,122.5 215.3,121.4 214.4,120.9ZM214.1,122.5 215.1,122.6 216.2,121.6 215.3,121.4ZM215.1,122.6 216,122.7 217.2,121.6 216.2,121.6ZM216,122.7 217,122.6 218.1,121.5 217.2,121.6ZM217,122.6 218,122.3 219.1,121.2 218.1,121.5ZM218,122.3 218.9,122.6 220,121.5 219.1,121.2ZM218.9,122.6 219.9,122.8 221,121.7 220,121.5ZM219.9,122.8 220.8,122.7 221.9,121.6 221,121.7ZM220.8,122.7 221.8,122.3 222.9,121.3 221.9,121.6ZM221.8,122.3 222.7,122.9 223.8,121.8 222.9,121.3ZM222.7,122.9 223.7,123.1 224.8,122 223.8,121.8ZM223.7,123.1 224.6,122.3 225.7,121.2 224.8,122ZM224.6,122.3 225.6,123.2 226.7,122.1 225.7,121.2ZM225.6,123.2 226.5,122.9 227.7,121.8 226.7,122.1ZM226.5,122.9 227.5,122.9 228.6,121.8 227.7,121.8ZM227.5,122.9 228.5,123.1 229.6,122.1 228.6,121.8ZM230.4,123 231.3,122.9 232.4,121.9 231.5,121.9ZM231.3,122.9 232.3,123.3 233.4,122.2 232.4,121.9ZM234.2,123.1 235.2,123.9 236.3,122.8 235.3,122ZM235.2,123.9 236.2,123.1 237.2,122 236.3,122.8ZM238.1,123.9 239.1,124.5 240.1,123.4 239.2,122.8ZM239.1,124.5 240,124 241.1,122.9 240.1,123.4ZM242,124 242.9,124.6 244,123.5 243,122.9ZM242.9,124.6 243.9,125.2 245,124.1 244,123.5ZM243.9,125.2 244.9,124.4 245.9,123.3 245,124.1ZM244.9,124.4 245.9,124.6 246.9,123.5 245.9,123.3Z" fill="#1980a0" stroke="#1980a0" stroke-width="1.3" stroke-linejoin="bevel"/>
<path d="M87.7,91.9 88.6,94.2 90.2,93.2 89.3,91ZM93.7,88 94.6,93.9 96.2,92.9 95.2,87.1ZM94.6,93.9 95.6,98.9 97.1,97.9 96.2,92.9ZM96,77.7 97.3,98.5 98.8,97.5 97.6,76.9ZM99.5,77.9 100.8,99.4 102.3,98.5 101,77.1ZM103,79.2 104.2,99.5 105.7,98.5 104.5,78.4ZM106.6,83.3 107.6,94.6 109.1,93.7 108.1,82.4ZM108.4,89.4 109.4,93.1 110.8,92.2 109.9,88.5ZM110.2,92.8 111.1,95.6 112.6,94.7 111.7,91.9ZM111.1,95.6 112.2,106.3 113.7,105.3 112.6,94.7ZM114.8,107.6 115.7,109 117.2,108 116.3,106.6ZM229.5,118.1 230.4,123 231.5,121.9 230.6,117ZM233.3,118.7 234.2,123.1 235.3,122 234.4,117.6ZM237.2,119.6 238.1,123.9 239.2,122.8 238.2,118.5ZM241.1,118.7 242,124 243,122.9 242.1,117.6Z" fill="#156d88" stroke="#156d88" stroke-width="1.3" stroke-linejoin="bevel"/>
<path d="M86.1,95.3 86.9,93.7 88.5,92.8 87.6,94.4ZM86.9,93.7 87.7,91.9 89.3,91 88.5,92.8ZM88.6,94.2 89.4,92 91,91.1 90.2,93.2ZM90.3,92.3 91.1,91 92.7,90.1 91.8,91.3ZM91.1,91 92,89 93.5,88.1 92.7,90.1ZM95.6,98.9 96,77.7 97.6,76.9 97.1,97.9ZM99,98.6 99.5,77.9 101,77.1 100.5,97.7ZM101.7,100.3 102.5,98.9 104,98 103.2,99.4ZM102.5,98.9 103,79.2 104.5,78.4 104,98ZM105.1,99.3 106,97.7 107.4,96.7 106.6,98.3ZM106,97.7 106.6,83.3 108.1,82.4 107.4,96.7ZM107.6,94.6 108.4,89.4 109.9,88.5 109.1,93.7ZM228.5,123.1 229.5,118.1 230.6,117 229.6,122.1ZM232.3,123.3 233.3,118.7 234.4,117.6 233.4,122.2ZM236.2,123.1 237.2,119.6 238.2,118.5 237.2,122ZM240,124 241.1,118.7 242.1,117.6 241.1,122.9ZM245.9,124.6 246.9,120.3 247.9,119.2 246.9,123.5Z" fill="#308daa" stroke="#308daa" stroke-width="1.3" stroke-linejoin="bevel"/>
<path d="M79.3,108.9 80.1,108.2 81.7,107.2 80.9,107.9ZM80.1,108.2 81,108.2 82.6,107.2 81.7,107.2ZM83.6,109.4 84.5,109.2 86.1,108.2 85.2,108.4ZM85.2,99.7 86,98.5 87.6,97.6 86.7,98.7ZM88.3,81.4 89.2,81.7 90.7,80.8 89.9,80.5ZM90.4,99.3 91.3,99.9 92.9,98.9 92,98.3ZM91.3,99.9 92.2,100.8 93.7,99.9 92.9,98.9ZM92.9,94.7 93.8,94.2 95.4,93.2 94.5,93.8ZM93.8,94.2 94.7,93 96.2,92 95.4,93.2ZM95.5,91.2 96.4,91.1 97.9,90.1 97.1,90.2ZM98.3,100.8 99.2,100.6 100.8,99.7 99.9,99.8ZM102.2,115.7 103,115.4 104.5,114.4 103.7,114.7ZM103,115.4 103.9,116 105.4,115 104.5,114.4ZM103.9,116 104.8,116.5 106.3,115.5 105.4,115ZM104.8,116.5 105.7,116.4 107.2,115.4 106.3,115.5ZM105.7,116.4 106.6,116.7 108.1,115.7 107.2,115.4ZM106.6,116.7 107.5,116.7 109,115.6 108.1,115.7ZM107.5,116.7 108.4,116.7 109.9,115.7 109,115.6ZM108.4,116.7 109.3,117.1 110.8,116.1 109.9,115.7ZM109.3,117.1 110.1,116.9 111.6,115.9 110.8,116.1ZM110.1,116.9 111,117.7 112.5,116.7 111.6,115.9ZM111,117.7 111.9,117.6 113.4,116.5 112.5,116.7ZM111.9,117.6 112.8,117.7 114.3,116.6 113.4,116.5ZM112.8,117.7 113.7,118.4 115.2,117.4 114.3,116.6ZM113.7,118.4 114.6,117.9 116.1,116.8 115.2,117.4ZM114.6,117.9 115.5,118 117,116.9 116.1,116.8ZM115.5,118 116.4,117.9 117.9,116.8 117,116.9ZM116.4,117.9 117.3,118.5 118.8,117.5 117.9,116.8ZM117.3,118.5 118.2,118.5 119.7,117.5 118.8,117.5ZM118.2,118.5 119.1,118.6 120.5,117.6 119.7,117.5ZM119.1,118.6 120,119.4 121.4,118.4 120.5,117.6ZM120,119.4 120.9,119 122.3,117.9 121.4,118.4ZM120.9,119 121.8,119.6 123.2,118.5 122.3,117.9ZM121.8,119.6 122.7,119.2 124.1,118.1 123.2,118.5ZM122.7,119.2 123.6,119.2 125,118.1 124.1,118.1ZM123.6,119.2 124.5,119.4 125.9,118.4 125,118.1ZM124.5,119.4 125.4,120.2 126.8,119.1 125.9,118.4ZM125.4,120.2 126.3,119.3 127.7,118.2 126.8,119.1ZM126.3,119.3 127.2,119.7 128.6,118.7 127.7,118.2ZM127.2,119.7 128.1,119.7 129.5,118.6 128.6,118.7ZM128.1,119.7 129,120.3 130.4,119.2 129.5,118.6ZM129,120.3 129.9,120.3 131.3,119.2 130.4,119.2ZM129.9,120.3 130.8,119.7 132.2,118.6 131.3,119.2ZM130.8,119.7 131.7,120.5 133.1,119.4 132.2,118.6ZM131.7,120.5 132.6,120.6 134,119.6 133.1,119.4ZM132.6,120.6 133.5,120.7 134.9,119.7 134,119.6ZM133.5,120.7 134.4,120.4 135.8,119.4 134.9,119.7ZM134.4,120.4 135.3,121.3 136.7,120.2 135.8,119.4ZM135.3,121.3 136.2,121 137.6,120 136.7,120.2ZM136.2,121 137.1,121.3 138.6,120.3 137.6,120ZM137.1,121.3 138,120.5 139.4,119.4 138.6,120.3ZM138,120.5 138.9,121 140.4,119.9 139.4,119.4ZM138.9,121 139.9,121.3 141.3,120.3 140.4,119.9ZM139.9,121.3 140.8,121.4 142.2,120.3 141.3,120.3ZM140.8,121.4 141.7,121.6 143.1,120.5 142.2,120.3ZM141.7,121.6 142.6,121.8 144,120.7 143.1,120.5ZM142.6,121.8 143.5,121.8 144.9,120.7 144,120.7ZM143.5,121.8 144.4,121.3 145.8,120.2 144.9,120.7ZM144.4,121.3 145.3,122 146.7,120.9 145.8,120.2ZM145.3,122 146.3,122 147.6,121 146.7,120.9ZM146.3,122 147.2,122 148.6,120.9 147.6,121ZM147.2,122 148.1,121.7 149.5,120.6 148.6,120.9ZM148.1,121.7 149,122.1 150.4,121 149.5,120.6ZM149,122.1 149.9,122.6 151.3,121.5 150.4,121ZM149.9,122.6 150.8,122.4 152.2,121.3 151.3,121.5ZM150.8,122.4 151.8,122.5 153.1,121.4 152.2,121.3ZM151.8,122.5 152.7,122.9 154.1,121.9 153.1,121.4ZM152.7,122.9 153.6,122.9 155,121.8 154.1,121.9ZM153.6,122.9 154.5,122.6 155.9,121.5 155,121.8ZM154.5,122.6 155.5,122.9 156.8,121.9 155.9,121.5ZM155.5,122.9 156.4,122.4 157.7,121.3 156.8,121.9ZM156.4,122.4 157.3,122.9 158.7,121.8 157.7,121.3ZM157.3,122.9 158.2,123.2 159.6,122.1 158.7,121.8ZM158.2,123.2 159.2,123.2 160.5,122.1 159.6,122.1ZM159.2,123.2 160.1,123.5 161.4,122.4 160.5,122.1ZM160.1,123.5 161,123.5 162.3,122.4 161.4,122.4ZM161,123.5 161.9,123.2 163.3,122.1 162.3,122.4ZM161.9,123.2 162.9,123.5 164.2,122.4 163.3,122.1ZM162.9,123.5 163.8,124.1 165.1,123.1 164.2,122.4ZM163.8,124.1 164.7,124.1 166.1,123 165.1,123.1ZM164.7,124.1 165.7,123.6 167,122.5 166.1,123ZM165.7,123.6 166.6,124.2 167.9,123.1 167,122.5ZM166.6,124.2 167.5,124 168.8,122.9 167.9,123.1ZM167.5,124 168.4,123.7 169.8,122.6 168.8,122.9ZM168.4,123.7 169.4,124.2 170.7,123.1 169.8,122.6ZM169.4,124.2 170.3,124.3 171.6,123.2 170.7,123.1ZM170.3,124.3 171.3,124.4 172.6,123.3 171.6,123.2ZM171.3,124.4 172.2,124 173.5,122.9 172.6,123.3ZM172.2,124 173.1,124.6 174.4,123.5 173.5,122.9ZM173.1,124.6 174.1,124.9 175.4,123.8 174.4,123.5ZM174.1,124.9 175,124.6 176.3,123.5 175.4,123.8ZM175,124.6 175.9,124.2 177.2,123.1 176.3,123.5ZM175.9,124.2 176.9,124.7 178.2,123.6 177.2,123.1ZM176.9,124.7 177.8,124.4 179.1,123.3 178.2,123.6ZM177.8,124.4 178.8,124.6 180,123.5 179.1,123.3ZM178.8,124.6 179.7,125.4 181,124.3 180,123.5ZM179.7,125.4 180.6,125.1 181.9,124 181,124.3ZM180.6,125.1 181.6,125.2 182.9,124.1 181.9,124ZM181.6,125.2 182.5,125.3 183.8,124.2 182.9,124.1ZM182.5,125.3 183.5,125 184.7,123.9 183.8,124.2ZM183.5,125 184.4,125 185.7,123.9 184.7,123.9ZM184.4,125 185.4,125.3 186.6,124.2 185.7,123.9ZM185.4,125.3 186.3,125.3 187.6,124.2 186.6,124.2ZM186.3,125.3 187.3,125.9 188.5,124.8 187.6,124.2ZM187.3,125.9 188.2,125.6 189.5,124.5 188.5,124.8ZM188.2,125.6 189.1,126.2 190.4,125.1 189.5,124.5ZM189.1,126.2 190.1,126.1 191.4,125 190.4,125.1ZM190.1,126.1 191,126.4 192.3,125.3 191.4,125ZM191,126.4 192,125.8 193.2,124.7 192.3,125.3ZM192,125.8 193,126.4 194.2,125.3 193.2,124.7ZM193,126.4 193.9,126.1 195.1,125 194.2,125.3ZM193.9,126.1 194.9,126.8 196.1,125.7 195.1,125ZM194.9,126.8 195.8,126.4 197,125.3 196.1,125.7ZM195.8,126.4 196.8,126.3 198,125.2 197,125.3ZM196.8,126.3 197.7,126.6 198.9,125.5 198,125.2ZM197.7,126.6 198.7,126.7 199.9,125.6 198.9,125.5ZM198.7,126.7 199.6,126.8 200.9,125.7 199.9,125.6ZM199.6,126.8 200.6,126.9 201.8,125.8 200.9,125.7ZM200.6,126.9 201.5,127.1 202.8,126 201.8,125.8ZM201.5,127.1 202.5,127.4 203.7,126.2 202.8,126ZM202.5,127.4 203.5,126.9 204.7,125.8 203.7,126.2ZM203.5,126.9 204.4,127.3 205.6,126.2 204.7,125.8ZM204.4,127.3 205.4,127.3 206.6,126.2 205.6,126.2ZM205.4,127.3 206.4,127.4 207.6,126.2 206.6,126.2ZM206.4,127.4 207.3,127.9 208.5,126.8 207.6,126.2ZM207.3,127.9 208.3,128 209.5,126.9 208.5,126.8ZM208.3,128 209.2,128.1 210.4,127 209.5,126.9ZM209.2,128.1 210.2,127.2 211.4,126.1 210.4,127ZM210.2,127.2 211.2,127.9 212.4,126.8 211.4,126.1ZM211.2,127.9 212.1,127.7 213.3,126.6 212.4,126.8ZM212.1,127.7 213.1,128.5 214.3,127.4 213.3,126.6ZM213.1,128.5 214.1,128.1 215.2,127 214.3,127.4ZM214.1,128.1 215,128 216.2,126.9 215.2,127ZM215,128 216,128.3 217.2,127.1 216.2,126.9ZM216,128.3 217,127.8 218.2,126.7 217.2,127.1ZM217,127.8 218,128.3 219.1,127.2 218.2,126.7ZM218,128.3 218.9,128.3 220.1,127.2 219.1,127.2ZM218.9,128.3 219.9,128 221.1,126.9 220.1,127.2ZM219.9,128 220.9,127.9 222,126.8 221.1,126.9ZM220.9,127.9 221.9,128.3 223,127.2 222,126.8ZM221.9,128.3 222.8,128.6 224,127.5 223,127.2ZM222.8,128.6 223.8,128.6 224.9,127.5 224,127.5ZM225.8,129 226.7,128.6 227.9,127.4 226.9,127.8ZM226.7,128.6 227.7,129 228.8,127.9 227.9,127.4ZM227.7,129 228.7,128.5 229.8,127.4 228.8,127.9ZM230.7,129.2 231.6,129.5 232.7,128.4 231.8,128.1ZM231.6,129.5 232.6,129 233.7,127.9 232.7,128.4ZM234.6,129.5 235.6,129.5 236.7,128.3 235.7,128.3ZM235.6,129.5 236.6,129.6 237.7,128.4 236.7,128.3ZM238.5,129.4 239.5,130.5 240.6,129.4 239.6,128.2ZM239.5,130.5 240.5,129.7 241.6,128.6 240.6,129.4ZM240.5,129.7 241.5,129.4 242.6,128.3 241.6,128.6Z" fill="#583e7d" stroke="#583e7d" stroke-width="1.3" stroke-linejoin="bevel"/>
<path d="M74.7,97 75.6,99.3 77.2,98.3 76.3,96.1ZM76.4,97.6 77.3,99.4 78.9,98.4 78,96.7ZM78.2,97.4 79.3,108.9 80.9,107.9 79.8,96.5ZM81,108.2 81.9,109.7 83.5,108.7 82.6,107.2ZM82.7,107.1 83.6,109.4 85.2,108.4 84.3,106.1ZM86,98.5 86.9,100.1 88.5,99.1 87.6,97.6ZM89.2,81.7 90.4,99.3 92,98.3 90.7,80.8ZM96.4,91.1 97.3,93.6 98.9,92.7 97.9,90.1ZM97.3,93.6 98.3,100.8 99.9,99.8 98.9,92.7ZM100.1,99.1 101.2,114.2 102.8,113.2 101.6,98.1ZM101.2,114.2 102.2,115.7 103.7,114.7 102.8,113.2ZM224.8,125.2 225.8,129 226.9,127.8 225.9,124.1ZM229.7,122.9 230.7,129.2 231.8,128.1 230.8,121.8ZM233.7,123.2 234.6,129.5 235.7,128.3 234.8,122.1ZM237.6,124.9 238.5,129.4 239.6,128.2 238.7,123.8Z" fill="#4b356a" stroke="#4b356a" stroke-width="1.3" stroke-linejoin="bevel"/>
<path d="M75.6,99.3 76.4,97.6 78,96.7 77.2,98.3ZM77.3,99.4 78.2,97.4 79.8,96.5 78.9,98.4ZM81.9,109.7 82.7,107.1 84.3,106.1 83.5,108.7ZM84.5,109.2 85.2,99.7 86.7,98.7 86.1,108.2ZM86.9,100.1 87.7,97.6 89.3,96.6 88.5,99.1ZM87.7,97.6 88.3,81.4 89.9,80.5 89.3,96.6ZM92.2,100.8 92.9,94.7 94.5,93.8 93.7,99.9ZM94.7,93 95.5,91.2 97.1,90.2 96.2,92ZM99.2,100.6 100.1,99.1 101.6,98.1 100.8,99.7ZM223.8,128.6 224.8,125.2 225.9,124.1 224.9,127.5ZM228.7,128.5 229.7,122.9 230.8,121.8 229.8,127.4ZM232.6,129 233.7,123.2 234.8,122.1 233.7,127.9ZM236.6,129.6 237.6,124.9 238.7,123.8 237.7,128.4Z" fill="#69518a" stroke="#69518a" stroke-width="1.3" stroke-linejoin="bevel"/>
<path d="M67.5,108 68.4,109.2 70.1,108.2 69.2,107ZM70.2,108.5 71,107.2 72.7,106.2 71.8,107.5ZM71,107.2 71.9,108.2 73.6,107.2 72.7,106.2ZM71.9,108.2 72.8,107.1 74.4,106.1 73.6,107.2ZM73.7,110.1 74.6,109.9 76.2,108.9 75.4,109.1ZM74.6,109.9 75.5,110.3 77.1,109.2 76.2,108.9ZM76.4,113.4 77.3,112.5 78.9,111.4 78.1,112.4ZM78.1,110.5 79,110.4 80.6,109.4 79.8,109.5ZM79,110.4 79.9,109.2 81.5,108.2 80.6,109.4ZM80.8,112.8 81.7,113.3 83.4,112.2 82.5,111.8ZM84.3,108.7 85.2,108.1 86.8,107.1 85.9,107.7ZM86.9,104.1 87.7,103 89.4,102 88.5,103.1ZM88.5,96.3 89.4,97 91,96 90.1,95.3ZM93.2,108.7 94.1,107.9 95.7,106.8 94.8,107.7ZM95.2,118.8 96.2,120.2 97.7,119.1 96.8,117.8ZM96.2,120.2 97.1,120.5 98.6,119.4 97.7,119.1ZM97.1,120.5 98,121.2 99.5,120.1 98.6,119.4ZM98,121.2 98.9,121.2 100.4,120.1 99.5,120.1ZM98.9,121.2 99.8,121.5 101.3,120.4 100.4,120.1ZM99.8,121.5 100.7,121.9 102.2,120.8 101.3,120.4ZM100.7,121.9 101.6,123 103.2,122 102.2,120.8ZM101.6,123 102.5,122.5 104,121.4 103.2,122ZM102.5,122.5 103.4,122.6 104.9,121.5 104,121.4ZM103.4,122.6 104.3,123.1 105.8,122 104.9,121.5ZM104.3,123.1 105.2,122.8 106.7,121.8 105.8,122ZM105.2,122.8 106.1,122.9 107.6,121.8 106.7,121.8ZM106.1,122.9 107,123.9 108.6,122.8 107.6,121.8ZM107,123.9 107.9,123.1 109.5,122 108.6,122.8ZM107.9,123.1 108.8,123.7 110.4,122.6 109.5,122ZM108.8,123.7 109.7,124 111.3,122.9 110.4,122.6ZM109.7,124 110.6,123.8 112.2,122.7 111.3,122.9ZM110.6,123.8 111.6,124.2 113.1,123.1 112.2,122.7ZM111.6,124.2 112.5,124.2 114,123.1 113.1,123.1ZM112.5,124.2 113.4,124.5 114.9,123.4 114,123.1ZM113.4,124.5 114.3,124.6 115.8,123.5 114.9,123.4ZM114.3,124.6 115.2,124.9 116.7,123.8 115.8,123.5ZM115.2,124.9 116.1,124.8 117.6,123.7 116.7,123.8ZM116.1,124.8 117,125.1 118.5,124 117.6,123.7ZM117,125.1 118,125.3 119.5,124.2 118.5,124ZM118,125.3 118.9,124.7 120.4,123.6 119.5,124.2ZM118.9,124.7 119.8,125.2 121.3,124.1 120.4,123.6ZM119.8,125.2 120.7,125.2 122.2,124.1 121.3,124.1ZM120.7,125.2 121.6,124.9 123.1,123.8 122.2,124.1ZM121.6,124.9 122.5,125.4 124,124.3 123.1,123.8ZM122.5,125.4 123.4,125.7 124.9,124.6 124,124.3ZM123.4,125.7 124.4,126.2 125.9,125.1 124.9,124.6ZM124.4,126.2 125.3,125.7 126.8,124.6 125.9,125.1ZM125.3,125.7 126.2,126 127.7,124.9 126.8,124.6ZM126.2,126 127.1,125.9 128.6,124.8 127.7,124.9ZM127.1,125.9 128,126.4 129.5,125.3 128.6,124.8ZM128,126.4 129,126.6 130.4,125.5 129.5,125.3ZM129,126.6 129.9,127.3 131.4,126.2 130.4,125.5ZM129.9,127.3 130.8,126.6 132.3,125.5 131.4,126.2ZM130.8,126.6 131.7,127.4 133.2,126.3 132.3,125.5ZM131.7,127.4 132.7,127.2 134.1,126.1 133.2,126.3ZM132.7,127.2 133.6,127 135.1,125.9 134.1,126.1ZM133.6,127 134.5,127.3 136,126.2 135.1,125.9ZM134.5,127.3 135.5,127.5 136.9,126.4 136,126.2ZM135.5,127.5 136.4,127.4 137.8,126.3 136.9,126.4ZM136.4,127.4 137.3,128.2 138.8,127.1 137.8,126.3ZM137.3,128.2 138.2,127.8 139.7,126.7 138.8,127.1ZM138.2,127.8 139.2,127.6 140.6,126.5 139.7,126.7ZM139.2,127.6 140.1,127.7 141.5,126.6 140.6,126.5ZM140.1,127.7 141,128.6 142.5,127.5 141.5,126.6ZM141,128.6 142,128 143.4,126.9 142.5,127.5ZM142,128 142.9,128.2 144.3,127.1 143.4,126.9ZM142.9,128.2 143.8,128.8 145.3,127.7 144.3,127.1ZM143.8,128.8 144.8,129 146.2,127.9 145.3,127.7ZM144.8,129 145.7,128.7 147.1,127.6 146.2,127.9ZM145.7,128.7 146.6,128.4 148,127.2 147.1,127.6ZM146.6,128.4 147.6,128.7 149,127.6 148,127.2ZM147.6,128.7 148.5,129.3 149.9,128.2 149,127.6ZM148.5,129.3 149.4,129.1 150.9,127.9 149.9,128.2ZM149.4,129.1 150.4,128.9 151.8,127.8 150.9,127.9ZM150.4,128.9 151.3,129.3 152.7,128.2 151.8,127.8ZM151.3,129.3 152.3,129.5 153.7,128.4 152.7,128.2ZM152.3,129.5 153.2,129.4 154.6,128.2 153.7,128.4ZM153.2,129.4 154.2,130.3 155.5,129.1 154.6,128.2ZM154.2,130.3 155.1,129.6 156.5,128.5 155.5,129.1ZM155.1,129.6 156,130.2 157.4,129.1 156.5,128.5ZM156,130.2 157,129.9 158.4,128.8 157.4,129.1ZM157,129.9 157.9,129.9 159.3,128.8 158.4,128.8ZM157.9,129.9 158.9,130.2 160.2,129 159.3,128.8ZM158.9,130.2 159.8,130.5 161.2,129.3 160.2,129ZM159.8,130.5 160.8,130.5 162.1,129.3 161.2,129.3ZM160.8,130.5 161.7,130.2 163.1,129.1 162.1,129.3ZM161.7,130.2 162.7,131 164,129.8 163.1,129.1ZM162.7,131 163.6,130.9 165,129.8 164,129.8ZM163.6,130.9 164.6,130.7 165.9,129.5 165,129.8ZM164.6,130.7 165.5,130.6 166.9,129.5 165.9,129.5ZM165.5,130.6 166.5,131 167.8,129.8 166.9,129.5ZM166.5,131 167.4,131.2 168.8,130.1 167.8,129.8ZM167.4,131.2 168.4,131 169.7,129.8 168.8,130.1ZM168.4,131 169.3,131.4 170.7,130.3 169.7,129.8ZM169.3,131.4 170.3,130.7 171.6,129.6 170.7,130.3ZM170.3,130.7 171.2,131.1 172.6,129.9 171.6,129.6ZM171.2,131.1 172.2,131 173.5,129.9 172.6,129.9ZM172.2,131 173.1,132 174.5,130.8 173.5,129.9ZM173.1,132 174.1,131.9 175.4,130.8 174.5,130.8ZM174.1,131.9 175.1,132 176.4,130.8 175.4,130.8ZM175.1,132 176,132.4 177.3,131.2 176.4,130.8ZM176,132.4 177,132.3 178.3,131.1 177.3,131.2ZM177,132.3 177.9,131.9 179.2,130.8 178.3,131.1ZM177.9,131.9 178.9,132.6 180.2,131.5 179.2,130.8ZM178.9,132.6 179.9,132.5 181.2,131.4 180.2,131.5ZM179.9,132.5 180.8,132.1 182.1,130.9 181.2,131.4ZM180.8,132.1 181.8,132.5 183.1,131.4 182.1,130.9ZM181.8,132.5 182.7,132.6 184,131.4 183.1,131.4ZM182.7,132.6 183.7,132.8 185,131.7 184,131.4ZM183.7,132.8 184.7,133.1 186,132 185,131.7ZM184.7,133.1 185.6,133.2 186.9,132 186,132ZM185.6,133.2 186.6,133.1 187.9,131.9 186.9,132ZM186.6,133.1 187.6,133.5 188.9,132.3 187.9,131.9ZM187.6,133.5 188.5,133.4 189.8,132.2 188.9,132.3ZM188.5,133.4 189.5,133.6 190.8,132.5 189.8,132.2ZM189.5,133.6 190.5,133.6 191.8,132.5 190.8,132.5ZM190.5,133.6 191.4,133.2 192.7,132 191.8,132.5ZM191.4,133.2 192.4,133.6 193.7,132.4 192.7,132ZM192.4,133.6 193.4,134.3 194.7,133.2 193.7,132.4ZM193.4,134.3 194.4,134.1 195.6,132.9 194.7,133.2ZM194.4,134.1 195.3,133.5 196.6,132.4 195.6,132.9ZM195.3,133.5 196.3,133.7 197.6,132.5 196.6,132.4ZM196.3,133.7 197.3,134.7 198.5,133.5 197.6,132.5ZM197.3,134.7 198.3,134.3 199.5,133.1 198.5,133.5ZM198.3,134.3 199.2,134.5 200.5,133.4 199.5,133.1ZM199.2,134.5 200.2,135.4 201.5,134.3 200.5,133.4ZM200.2,135.4 201.2,134.7 202.4,133.5 201.5,134.3ZM201.2,134.7 202.2,134.2 203.4,133.1 202.4,133.5ZM202.2,134.2 203.2,135.2 204.4,134 203.4,133.1ZM203.2,135.2 204.1,135.2 205.4,134 204.4,134ZM204.1,135.2 205.1,134.9 206.3,133.7 205.4,134ZM205.1,134.9 206.1,135.4 207.3,134.3 206.3,133.7ZM206.1,135.4 207.1,135.5 208.3,134.3 207.3,134.3ZM207.1,135.5 208.1,135.3 209.3,134.1 208.3,134.3ZM208.1,135.3 209.1,135.9 210.3,134.7 209.3,134.1ZM209.1,135.9 210,135.3 211.3,134.1 210.3,134.7ZM210,135.3 211,135.9 212.2,134.8 211.3,134.1ZM211,135.9 212,135.5 213.2,134.4 212.2,134.8ZM212,135.5 213,135.3 214.2,134.2 213.2,134.4ZM213,135.3 214,135.1 215.2,134 214.2,134.2ZM214,135.1 215,135.9 216.2,134.8 215.2,134ZM215,135.9 216,135.7 217.2,134.5 216.2,134.8ZM216,135.7 217,135.7 218.2,134.5 217.2,134.5ZM217,135.7 218,136.4 219.1,135.2 218.2,134.5ZM218,136.4 218.9,135.9 220.1,134.7 219.1,135.2ZM220.9,134.1 221.9,135.4 223.1,134.2 222.1,133ZM221.9,135.4 222.9,136 224.1,134.8 223.1,134.2ZM224.9,136.2 225.9,136.2 227.1,135 226.1,135ZM225.9,136.2 226.9,134.9 228.1,133.7 227.1,135ZM226.9,134.9 227.9,135.8 229.1,134.6 228.1,133.7ZM229.9,136.4 230.9,137.2 232.1,136 231.1,135.2ZM230.9,137.2 231.9,136.6 233.1,135.4 232.1,136ZM233.9,137.2 235,136.1 236.1,134.9 235.1,136ZM235,136.1 236,136.2 237.1,135 236.1,134.9Z" fill="#72912d" stroke="#72912d" stroke-width="1.3" stroke-linejoin="bevel"/>
<path d="M68.4,109.2 69.4,111.2 71,110.1 70.1,108.2ZM72.8,107.1 73.7,110.1 75.4,109.1 74.4,106.1ZM75.5,110.3 76.4,113.4 78.1,112.4 77.1,109.2ZM79.9,109.2 80.8,112.8 82.5,111.8 81.5,108.2ZM83.4,106.9 84.3,108.7 85.9,107.7 85,105.9ZM89.4,97 90.3,99 91.9,98 91,96ZM90.3,99 91.5,109.6 93.1,108.6 91.9,98ZM91.5,109.6 92.4,111.3 94,110.3 93.1,108.6ZM94.1,107.9 95.2,118.8 96.8,117.8 95.7,106.8ZM220,130.9 220.9,134.1 222.1,133 221.2,129.7ZM224,130.2 224.9,136.2 226.1,135 225.1,129ZM229,129.3 229.9,136.4 231.1,135.2 230.1,128.2ZM233,130.6 233.9,137.2 235.1,136 234.1,129.5Z" fill="#617b26" stroke="#617b26" stroke-width="1.3" stroke-linejoin="bevel"/>
<path d="M66.7,109.3 67.5,108 69.2,107 68.3,108.3ZM69.4,111.2 70.2,108.5 71.8,107.5 71,110.1ZM77.3,112.5 78.1,110.5 79.8,109.5 78.9,111.4ZM81.7,113.3 82.6,111.9 84.2,110.8 83.4,112.2ZM82.6,111.9 83.4,106.9 85,105.9 84.2,110.8ZM85.2,108.1 86,106.3 87.6,105.3 86.8,107.1ZM86,106.3 86.9,104.1 88.5,103.1 87.6,105.3ZM87.7,103 88.5,96.3 90.1,95.3 89.4,102ZM92.4,111.3 93.2,108.7 94.8,107.7 94,110.3ZM218.9,135.9 220,130.9 221.2,129.7 220.1,134.7ZM222.9,136 224,130.2 225.1,129 224.1,134.8ZM227.9,135.8 229,129.3 230.1,128.2 229.1,134.6ZM231.9,136.6 233,130.6 234.1,129.5 233.1,135.4Z" fill="#809c42" stroke="#809c42" stroke-width="1.3" stroke-linejoin="bevel"/>
<path d="M58,106.6 58.9,107.9 60.6,106.9 59.7,105.6ZM59.6,102.9 60.5,102.9 62.3,101.9 61.4,101.9ZM60.5,102.9 61.5,104 63.2,103 62.3,101.9ZM62.1,94.6 63,93.4 64.7,92.4 63.8,93.6ZM63,93.4 63.9,94.1 65.6,93.1 64.7,92.4ZM69.1,123.8 70,122.7 71.7,121.6 70.8,122.7ZM70,122.7 70.9,122.9 72.6,121.8 71.7,121.6ZM74.5,121.8 75.4,122.7 77.1,121.7 76.1,120.7ZM75.4,122.7 76.3,121.8 77.9,120.7 77.1,121.7ZM77,116.4 78,117.1 79.6,116.1 78.7,115.3ZM78,117.1 78.9,117.4 80.5,116.3 79.6,116.1ZM80.6,113.9 81.5,114.1 83.2,113 82.3,112.9ZM81.5,114.1 82.4,113.3 84,112.3 83.2,113ZM82.4,113.3 83.3,114.6 85,113.5 84,112.3ZM83.3,114.6 84.3,115.5 85.9,114.4 85,113.5ZM85.4,128 86.3,127.9 88,126.8 87.1,126.9ZM86.3,127.9 87.2,127.7 88.9,126.6 88,126.8ZM87.2,127.7 88.1,126.6 89.8,125.4 88.9,126.6ZM88.1,126.6 89.1,127.2 90.7,126 89.8,125.4ZM89.1,127.2 90,126.7 91.6,125.6 90.7,126ZM90,126.7 90.9,127.1 92.5,126 91.6,125.6ZM90.9,127.1 91.8,127.2 93.4,126.1 92.5,126ZM91.8,127.2 92.7,127.2 94.3,126.1 93.4,126.1ZM92.7,127.2 93.6,127.5 95.2,126.4 94.3,126.1ZM93.6,127.5 94.6,128.1 96.2,127 95.2,126.4ZM94.6,128.1 95.4,127.1 97.1,126 96.2,127ZM95.4,127.1 96.4,127.5 98,126.4 97.1,126ZM96.4,127.5 97.3,127.7 98.9,126.5 98,126.4ZM97.3,127.7 98.2,128.5 99.8,127.3 98.9,126.5ZM98.2,128.5 99.1,128.9 100.7,127.8 99.8,127.3ZM99.1,128.9 100.1,129 101.7,127.8 100.7,127.8ZM100.1,129 101,128.9 102.6,127.8 101.7,127.8ZM101,128.9 101.9,128.5 103.5,127.4 102.6,127.8ZM101.9,128.5 102.8,128.6 104.4,127.5 103.5,127.4ZM102.8,128.6 103.7,128.6 105.3,127.5 104.4,127.5ZM103.7,128.6 104.7,128.5 106.2,127.4 105.3,127.5ZM104.7,128.5 105.6,129.1 107.2,128 106.2,127.4ZM105.6,129.1 106.5,129.3 108.1,128.2 107.2,128ZM106.5,129.3 107.5,129.6 109,128.5 108.1,128.2ZM107.5,129.6 108.4,129.8 109.9,128.6 109,128.5ZM108.4,129.8 109.3,130.1 110.9,129 109.9,128.6ZM109.3,130.1 110.2,129.8 111.8,128.6 110.9,129ZM110.2,129.8 111.2,129.9 112.7,128.8 111.8,128.6ZM111.2,129.9 112.1,130.3 113.7,129.2 112.7,128.8ZM112.1,130.3 113,130.5 114.6,129.4 113.7,129.2ZM113,130.5 114,130.3 115.5,129.2 114.6,129.4ZM114,130.3 114.9,130.2 116.4,129 115.5,129.2ZM114.9,130.2 115.8,130.7 117.4,129.5 116.4,129ZM115.8,130.7 116.8,130.7 118.3,129.6 117.4,129.5ZM116.8,130.7 117.7,131.1 119.2,130 118.3,129.6ZM117.7,131.1 118.6,131.1 120.2,130 119.2,130ZM118.6,131.1 119.6,131.3 121.1,130.2 120.2,130ZM119.6,131.3 120.5,131.4 122,130.3 121.1,130.2ZM120.5,131.4 121.4,131.6 123,130.5 122,130.3ZM121.4,131.6 122.4,131.5 123.9,130.3 123,130.5ZM122.4,131.5 123.3,131.3 124.8,130.2 123.9,130.3ZM123.3,131.3 124.3,132.1 125.8,131 124.8,130.2ZM124.3,132.1 125.2,131.6 126.7,130.4 125.8,131ZM125.2,131.6 126.1,132.2 127.6,131.1 126.7,130.4ZM126.1,132.2 127.1,132.3 128.6,131.2 127.6,131.1ZM127.1,132.3 128,133 129.5,131.9 128.6,131.2ZM128,133 129,133.2 130.5,132.1 129.5,131.9ZM129,133.2 129.9,132.4 131.4,131.3 130.5,132.1ZM129.9,132.4 130.9,133.1 132.4,131.9 131.4,131.3ZM130.9,133.1 131.8,132.6 133.3,131.5 132.4,131.9ZM131.8,132.6 132.7,133 134.2,131.9 133.3,131.5ZM132.7,133 133.7,133.1 135.2,131.9 134.2,131.9ZM133.7,133.1 134.6,132.9 136.1,131.7 135.2,131.9ZM134.6,132.9 135.6,133.4 137.1,132.3 136.1,131.7ZM135.6,133.4 136.5,134.5 138,133.4 137.1,132.3ZM136.5,134.5 137.5,134.2 139,133 138,133.4ZM137.5,134.2 138.4,133.5 139.9,132.4 139,133ZM138.4,133.5 139.4,133.3 140.8,132.2 139.9,132.4ZM139.4,133.3 140.3,134.1 141.8,132.9 140.8,132.2ZM140.3,134.1 141.3,134.3 142.8,133.2 141.8,132.9ZM141.3,134.3 142.2,134.7 143.7,133.5 142.8,133.2ZM142.2,134.7 143.2,134.2 144.7,133 143.7,133.5ZM143.2,134.2 144.2,135 145.6,133.8 144.7,133ZM144.2,135 145.1,134.9 146.6,133.7 145.6,133.8ZM145.1,134.9 146.1,134.6 147.5,133.4 146.6,133.7ZM146.1,134.6 147,134.7 148.5,133.5 147.5,133.4ZM147,134.7 148,134.9 149.4,133.7 148.5,133.5ZM148,134.9 148.9,134.6 150.4,133.4 149.4,133.7ZM148.9,134.6 149.9,135.4 151.3,134.2 150.4,133.4ZM149.9,135.4 150.9,135.5 152.3,134.3 151.3,134.2ZM150.9,135.5 151.8,135.4 153.2,134.2 152.3,134.3ZM151.8,135.4 152.8,135.3 154.2,134.1 153.2,134.2ZM152.8,135.3 153.7,135.5 155.2,134.4 154.2,134.1ZM153.7,135.5 154.7,134.9 156.1,133.7 155.2,134.4ZM154.7,134.9 155.7,135.8 157.1,134.6 156.1,133.7ZM155.7,135.8 156.6,135.5 158,134.4 157.1,134.6ZM156.6,135.5 157.6,136 159,134.8 158,134.4ZM157.6,136 158.6,135.8 160,134.6 159,134.8ZM158.6,135.8 159.5,136.2 160.9,135 160,134.6ZM159.5,136.2 160.5,136.2 161.9,135.1 160.9,135ZM160.5,136.2 161.5,135.7 162.9,134.5 161.9,135.1ZM161.5,135.7 162.4,136.4 163.8,135.2 162.9,134.5ZM162.4,136.4 163.4,135.9 164.8,134.7 163.8,135.2ZM163.4,135.9 164.4,136.7 165.8,135.6 164.8,134.7ZM164.4,136.7 165.3,136.8 166.7,135.6 165.8,135.6ZM165.3,136.8 166.3,136.4 167.7,135.2 166.7,135.6ZM166.3,136.4 167.3,137.6 168.7,136.4 167.7,135.2ZM167.3,137.6 168.3,137.4 169.6,136.2 168.7,136.4ZM168.3,137.4 169.2,137 170.6,135.8 169.6,136.2ZM169.2,137 170.2,137 171.6,135.8 170.6,135.8ZM170.2,137 171.2,137.1 172.6,135.9 171.6,135.8ZM171.2,137.1 172.2,137.4 173.5,136.2 172.6,135.9ZM172.2,137.4 173.1,137.9 174.5,136.7 173.5,136.2ZM173.1,137.9 174.1,137.3 175.5,136.1 174.5,136.7ZM174.1,137.3 175.1,137.5 176.5,136.3 175.5,136.1ZM175.1,137.5 176.1,138.1 177.4,136.9 176.5,136.3ZM176.1,138.1 177.1,137.8 178.4,136.6 177.4,136.9ZM177.1,137.8 178,137.4 179.4,136.2 178.4,136.6ZM178,137.4 179,138 180.4,136.8 179.4,136.2ZM179,138 180,138.5 181.3,137.3 180.4,136.8ZM180,138.5 181,138.4 182.3,137.2 181.3,137.3ZM181,138.4 182,138.5 183.3,137.3 182.3,137.2ZM182,138.5 183,138.3 184.3,137.1 183.3,137.3ZM183,138.3 183.9,138.3 185.3,137.1 184.3,137.1ZM183.9,138.3 184.9,138.9 186.3,137.7 185.3,137.1ZM184.9,138.9 185.9,139 187.2,137.8 186.3,137.7ZM185.9,139 186.9,138.5 188.2,137.3 187.2,137.8ZM186.9,138.5 187.9,138.7 189.2,137.5 188.2,137.3ZM187.9,138.7 188.9,138.6 190.2,137.4 189.2,137.5ZM188.9,138.6 189.9,139.6 191.2,138.4 190.2,137.4ZM189.9,139.6 190.9,139.6 192.2,138.4 191.2,138.4ZM190.9,139.6 191.9,139.1 193.2,137.8 192.2,138.4ZM191.9,139.1 192.9,139.8 194.2,138.6 193.2,137.8ZM192.9,139.8 193.9,139.5 195.1,138.3 194.2,138.6ZM193.9,139.5 194.8,139.7 196.1,138.5 195.1,138.3ZM194.8,139.7 195.8,140 197.1,138.8 196.1,138.5ZM195.8,140 196.8,139.4 198.1,138.2 197.1,138.8ZM196.8,139.4 197.8,140 199.1,138.8 198.1,138.2ZM197.8,140 198.8,140.2 200.1,139 199.1,138.8ZM198.8,140.2 199.8,140.2 201.1,139 200.1,139ZM199.8,140.2 200.8,140.2 202.1,139 201.1,139ZM200.8,140.2 201.8,140.9 203.1,139.7 202.1,139ZM201.8,140.9 202.8,140.8 204.1,139.6 203.1,139.7ZM202.8,140.8 203.8,141 205.1,139.8 204.1,139.6ZM203.8,141 204.8,141.4 206.1,140.1 205.1,139.8ZM204.8,141.4 205.9,140.5 207.1,139.3 206.1,140.1ZM205.9,140.5 206.9,140.5 208.1,139.2 207.1,139.3ZM206.9,140.5 207.9,140.6 209.1,139.4 208.1,139.2ZM207.9,140.6 208.9,141.7 210.1,140.5 209.1,139.4ZM208.9,141.7 209.9,141.1 211.1,139.9 210.1,140.5ZM209.9,141.1 210.9,141 212.1,139.8 211.1,139.9ZM210.9,141 211.9,141.4 213.1,140.2 212.1,139.8ZM211.9,141.4 212.9,141 214.1,139.8 213.1,140.2ZM212.9,141 213.9,141.6 215.1,140.4 214.1,139.8ZM215.9,141.6 217,141.5 218.2,140.3 217.2,140.3ZM217,141.5 218,141.8 219.2,140.5 218.2,140.3ZM220,141.7 221,141.1 222.2,139.8 221.2,140.5ZM221,141.1 222,141.6 223.2,140.3 222.2,139.8ZM224.1,141.7 225.1,140.9 226.3,139.7 225.3,140.5ZM227.1,141.8 228.2,141.7 229.3,140.5 228.3,140.6ZM228.2,141.7 229.2,141.4 230.4,140.1 229.3,140.5ZM229.2,141.4 230.2,141.9 231.4,140.7 230.4,140.1Z" fill="#962624" stroke="#962624" stroke-width="1.3" stroke-linejoin="bevel"/>
<path d="M63.9,94.1 65.1,105.9 66.8,104.9 65.6,93.1ZM65.9,103.6 66.9,105.2 68.6,104.2 67.6,102.6ZM66.9,105.2 68.2,121.3 69.9,120.2 68.6,104.2ZM68.2,121.3 69.1,123.8 70.8,122.7 69.9,120.2ZM73.3,113 74.5,121.8 76.1,120.7 75,111.9ZM78.9,117.4 79.8,118.8 81.5,117.8 80.5,116.3ZM84.3,115.5 85.4,128 87.1,126.9 85.9,114.4ZM215,134.1 215.9,141.6 217.2,140.3 216.2,132.9ZM219,136.7 220,141.7 221.2,140.5 220.2,135.5ZM223.1,136 224.1,141.7 225.3,140.5 224.3,134.8ZM226.2,136 227.1,141.8 228.3,140.6 227.3,134.8Z" fill="#80201f" stroke="#80201f" stroke-width="1.3" stroke-linejoin="bevel"/>
<path d="M58.9,107.9 59.6,102.9 61.4,101.9 60.6,106.9ZM61.5,104 62.1,94.6 63.8,93.6 63.2,103ZM65.1,105.9 65.9,103.6 67.6,102.6 66.8,104.9ZM70.9,122.9 71.6,116 73.3,114.9 72.6,121.8ZM71.6,116 72.5,114.6 74.2,113.5 73.3,114.9ZM72.5,114.6 73.3,113 75,111.9 74.2,113.5ZM76.3,121.8 77,116.4 78.7,115.3 77.9,120.7ZM79.8,118.8 80.6,113.9 82.3,112.9 81.5,117.8ZM213.9,141.6 215,134.1 216.2,132.9 215.1,140.4ZM218,141.8 219,136.7 220.2,135.5 219.2,140.5ZM222,141.6 223.1,136 224.3,134.8 223.2,140.3ZM225.1,140.9 226.2,136 227.3,134.8 226.3,139.7Z" fill="#a03c3a" stroke="#a03c3a" stroke-width="1.3" stroke-linejoin="bevel"/>
<path d="M49.3,116.3 50.1,115 51.9,114 51.1,115.2ZM50.1,115 51,114.7 52.8,113.6 51.9,114ZM54.5,109.7 55.4,109.8 57.2,108.8 56.3,108.7ZM55.4,109.8 56.3,109.9 58.1,108.8 57.2,108.8ZM56.3,109.9 57.2,109.7 59,108.6 58.1,108.8ZM59.2,114.4 60.1,113.9 61.8,112.8 60.9,113.3ZM63.1,125 64,126.1 65.8,124.9 64.8,123.9ZM64,126.1 64.9,125.5 66.7,124.4 65.8,124.9ZM67.5,118.5 68.4,119 70.2,117.9 69.2,117.4ZM69,106.1 70,106.7 71.7,105.6 70.8,105.1ZM74.1,85.2 75,85.6 76.7,84.6 75.8,84.3ZM75,85.6 75.9,85.7 77.6,84.7 76.7,84.6ZM77.4,107.6 78.3,106.3 80,105.3 79.1,106.6ZM80.6,125.1 81.5,126.2 83.2,125.1 82.2,124ZM82.5,128.4 83.4,129.4 85.1,128.3 84.2,127.3ZM84.4,131 85.3,131.7 87,130.6 86.1,129.8ZM85.3,131.7 86.2,130.6 87.9,129.5 87,130.6ZM86.2,130.6 87.2,131.4 88.9,130.2 87.9,129.5ZM87.2,131.4 88.1,131.2 89.8,130 88.9,130.2ZM88.1,131.2 89,129.9 90.7,128.8 89.8,130ZM89,129.9 90,131.3 91.6,130.1 90.7,128.8ZM90,131.3 90.9,131.5 92.6,130.4 91.6,130.1ZM90.9,131.5 91.8,131.1 93.5,129.9 92.6,130.4ZM91.8,131.1 92.8,131.1 94.4,130 93.5,129.9ZM92.8,131.1 93.7,130.9 95.4,129.8 94.4,130ZM94.7,132.5 95.6,131.2 97.2,130.1 96.3,131.3ZM95.6,131.2 96.5,132.5 98.2,131.4 97.2,130.1ZM96.5,132.5 97.5,133.3 99.1,132.1 98.2,131.4ZM97.5,133.3 98.4,133.3 100.1,132.2 99.1,132.1ZM98.4,133.3 99.4,132.2 101,131.1 100.1,132.2ZM99.4,132.2 100.3,132.6 101.9,131.4 101,131.1ZM100.3,132.6 101.2,132.4 102.9,131.3 101.9,131.4ZM102.2,133.9 103.1,133.7 104.8,132.5 103.8,132.7ZM103.1,133.7 104.1,134.4 105.7,133.2 104.8,132.5ZM104.1,134.4 105.1,135 106.7,133.8 105.7,133.2ZM105.1,135 106,133.9 107.6,132.8 106.7,133.8ZM106,133.9 106.9,133.1 108.5,132 107.6,132.8ZM106.9,133.1 107.9,133.6 109.5,132.4 108.5,132ZM107.9,133.6 108.8,134.9 110.4,133.7 109.5,132.4ZM108.8,134.9 109.8,133.8 111.4,132.6 110.4,133.7ZM109.8,133.8 110.7,135 112.3,133.9 111.4,132.6ZM110.7,135 111.7,134.6 113.3,133.5 112.3,133.9ZM111.7,134.6 112.6,134.5 114.2,133.3 113.3,133.5ZM112.6,134.5 113.6,135.4 115.2,134.2 114.2,133.3ZM113.6,135.4 114.5,135.8 116.1,134.6 115.2,134.2ZM114.5,135.8 115.5,135 117.1,133.8 116.1,134.6ZM115.5,135 116.4,135.7 118,134.5 117.1,133.8ZM116.4,135.7 117.4,136.1 119,134.9 118,134.5ZM117.4,136.1 118.4,135.5 119.9,134.3 119,134.9ZM118.4,135.5 119.3,136.2 120.9,135 119.9,134.3ZM119.3,136.2 120.3,135.9 121.8,134.8 120.9,135ZM120.3,135.9 121.2,136.9 122.8,135.7 121.8,134.8ZM121.2,136.9 122.2,136 123.7,134.8 122.8,135.7ZM122.2,136 123.2,137.2 124.7,136 123.7,134.8ZM123.2,137.2 124.1,137 125.7,135.8 124.7,136ZM124.1,137 125.1,138.1 126.6,136.9 125.7,135.8ZM126,136.4 127,137.2 128.5,136 127.6,135.2ZM127,137.2 128,137.1 129.5,135.9 128.5,136ZM128.9,138.6 129.9,137.6 131.4,136.4 130.5,137.4ZM129.9,137.6 130.9,138.1 132.4,136.9 131.4,136.4ZM130.9,138.1 131.8,137.2 133.4,136 132.4,136.9ZM132.8,139.1 133.8,138.1 135.3,136.9 134.3,137.9ZM133.8,138.1 134.7,137.8 136.3,136.6 135.3,136.9ZM135.7,139.3 136.7,138.7 138.2,137.5 137.2,138.1ZM136.7,138.7 137.7,139.6 139.2,138.3 138.2,137.5ZM137.7,139.6 138.6,139 140.1,137.8 139.2,138.3ZM138.6,139 139.6,139 141.1,137.8 140.1,137.8ZM139.6,139 140.6,138.5 142.1,137.3 141.1,137.8ZM140.6,138.5 141.5,139.4 143,138.2 142.1,137.3ZM141.5,139.4 142.5,140.1 144,138.9 143,138.2ZM142.5,140.1 143.5,139.4 145,138.2 144,138.9ZM143.5,139.4 144.5,139.9 146,138.7 145,138.2ZM144.5,139.9 145.4,139.4 146.9,138.1 146,138.7ZM145.4,139.4 146.4,140.5 147.9,139.3 146.9,138.1ZM146.4,140.5 147.4,139.4 148.9,138.2 147.9,139.3ZM147.4,139.4 148.4,140.3 149.9,139 148.9,138.2ZM148.4,140.3 149.4,140.3 150.8,139.1 149.9,139ZM149.4,140.3 150.3,140 151.8,138.7 150.8,139.1ZM150.3,140 151.3,141 152.8,139.8 151.8,138.7ZM151.3,141 152.3,141.1 153.8,139.9 152.8,139.8ZM152.3,141.1 153.3,140.6 154.8,139.4 153.8,139.9ZM153.3,140.6 154.3,141.1 155.7,139.9 154.8,139.4ZM154.3,141.1 155.3,141.1 156.7,139.9 155.7,139.9ZM155.3,141.1 156.3,141.5 157.7,140.3 156.7,139.9ZM156.3,141.5 157.2,141.6 158.7,140.3 157.7,140.3ZM157.2,141.6 158.2,140.9 159.7,139.7 158.7,140.3ZM158.2,140.9 159.2,140.4 160.7,139.1 159.7,139.7ZM161.2,140.9 162.2,141.5 163.6,140.2 162.6,139.6ZM162.2,141.5 163.2,141.3 164.6,140.1 163.6,140.2ZM163.2,141.3 164.2,142 165.6,140.8 164.6,140.1ZM164.2,142 165.2,142.7 166.6,141.5 165.6,140.8ZM165.2,142.7 166.2,142.5 167.6,141.3 166.6,141.5ZM166.2,142.5 167.2,143.1 168.6,141.8 167.6,141.3ZM167.2,143.1 168.2,143.6 169.6,142.4 168.6,141.8ZM168.2,143.6 169.2,142.8 170.6,141.5 169.6,142.4ZM169.2,142.8 170.1,142.7 171.6,141.4 170.6,141.5ZM170.1,142.7 171.1,143.1 172.5,141.9 171.6,141.4ZM171.1,143.1 172.1,142.9 173.5,141.7 172.5,141.9ZM172.1,142.9 173.2,144.1 174.5,142.9 173.5,141.7ZM174.1,142.6 175.2,143.5 176.5,142.2 175.5,141.4ZM175.2,143.5 176.2,143.5 177.5,142.2 176.5,142.2ZM176.2,143.5 177.2,143.2 178.5,141.9 177.5,142.2ZM177.2,143.2 178.2,144.1 179.5,142.8 178.5,141.9ZM179.2,142.2 180.2,143.2 181.5,141.9 180.5,141ZM180.2,143.2 181.2,143.3 182.5,142.1 181.5,141.9ZM181.2,143.3 182.2,144.1 183.5,142.8 182.5,142.1ZM182.2,144.1 183.2,144.7 184.6,143.5 183.5,142.8ZM183.2,144.7 184.2,144.1 185.6,142.9 184.6,143.5ZM184.2,144.1 185.2,145 186.6,143.7 185.6,142.9ZM185.2,145 186.2,144.5 187.6,143.2 186.6,143.7ZM186.2,144.5 187.2,144.6 188.6,143.4 187.6,143.2ZM187.2,144.6 188.2,144.1 189.6,142.8 188.6,143.4ZM188.2,144.1 189.3,144.7 190.6,143.5 189.6,142.8ZM189.3,144.7 190.3,145 191.6,143.8 190.6,143.5ZM190.3,145 191.3,144.3 192.6,143.1 191.6,143.8ZM191.3,144.3 192.3,145.4 193.6,144.1 192.6,143.1ZM192.3,145.4 193.3,145.8 194.6,144.5 193.6,144.1ZM193.3,145.8 194.3,145.9 195.7,144.6 194.6,144.5ZM194.3,145.9 195.4,144.8 196.7,143.5 195.7,144.6ZM195.4,144.8 196.4,145.8 197.7,144.5 196.7,143.5ZM196.4,145.8 197.4,146.3 198.7,145 197.7,144.5ZM197.4,146.3 198.4,147.3 199.7,146 198.7,145ZM198.4,147.3 199.4,146.8 200.7,145.5 199.7,146ZM199.4,146.8 200.5,146.1 201.8,144.8 200.7,145.5ZM200.5,146.1 201.5,146 202.8,144.7 201.8,144.8ZM201.5,146 202.5,145.4 203.8,144.2 202.8,144.7ZM203.5,147 204.6,146.4 205.8,145.1 204.8,145.8ZM204.6,146.4 205.6,145.9 206.9,144.6 205.8,145.1ZM210.7,146.4 211.8,146.6 213,145.3 212,145.2ZM213.8,146.8 214.9,147.1 216.1,145.8 215.1,145.5ZM214.9,147.1 215.9,147 217.1,145.7 216.1,145.8ZM215.9,147 216.9,147.9 218.2,146.6 217.1,145.7ZM219,148.7 220.1,147.7 221.3,146.4 220.2,147.4ZM220.1,147.7 221.1,147.1 222.3,145.8 221.3,146.4ZM223.2,147.2 224.2,147.2 225.4,145.9 224.4,145.9Z" fill="#2d5a9b" stroke="#2d5a9b" stroke-width="1.3" stroke-linejoin="bevel"/>
<path d="M51.9,112.4 52.8,113.9 54.6,112.8 53.6,111.3ZM57.2,109.7 58.2,111.6 60,110.5 59,108.6ZM58.2,111.6 59.2,114.4 60.9,113.3 60,110.5ZM60.9,110.3 61.9,113.4 63.6,112.3 62.6,109.2ZM61.9,113.4 63.1,125 64.8,123.9 63.6,112.3ZM65.4,109.4 66.4,111.8 68.2,110.7 67.2,108.3ZM66.4,111.8 67.5,118.5 69.2,117.4 68.2,110.7ZM70.8,104.6 72,113.6 73.7,112.5 72.6,103.6ZM72.8,111.4 73.8,113.6 75.5,112.5 74.6,110.3ZM75.9,85.7 77.4,107.6 79.1,106.6 77.6,84.7ZM79.1,103.3 80.6,125.1 82.2,124 80.8,102.2ZM81.5,126.2 82.5,128.4 84.2,127.3 83.2,125.1ZM83.4,129.4 84.4,131 86.1,129.8 85.1,128.3ZM93.7,130.9 94.7,132.5 96.3,131.3 95.4,129.8ZM101.2,132.4 102.2,133.9 103.8,132.7 102.9,131.3ZM128,137.1 128.9,138.6 130.5,137.4 129.5,135.9ZM131.8,137.2 132.8,139.1 134.3,137.9 133.4,136ZM134.7,137.8 135.7,139.3 137.2,138.1 136.3,136.6ZM159.2,140.4 160.2,142.6 161.7,141.3 160.7,139.1ZM202.5,145.4 203.5,147 204.8,145.8 203.8,144.2ZM205.6,145.9 206.6,148.2 207.9,147 206.9,144.6ZM207.6,145.4 208.7,147.6 209.9,146.3 208.9,144.1ZM209.7,141 210.7,146.4 212,145.2 211,139.7ZM212.8,140.3 213.8,146.8 215.1,145.5 214.1,139ZM218,141.1 219,148.7 220.2,147.4 219.3,139.8ZM222.2,142 223.2,147.2 224.4,145.9 223.4,140.8Z" fill="#264c84" stroke="#264c84" stroke-width="1.3" stroke-linejoin="bevel"/>
<path d="M51,114.7 51.9,112.4 53.6,111.3 52.8,113.6ZM52.8,113.9 53.7,112.1 55.4,111 54.6,112.8ZM53.7,112.1 54.5,109.7 56.3,108.7 55.4,111ZM60.1,113.9 60.9,110.3 62.6,109.2 61.8,112.8ZM64.9,125.5 65.4,109.4 67.2,108.3 66.7,124.4ZM68.4,119 69,106.1 70.8,105.1 70.2,117.9ZM70,106.7 70.8,104.6 72.6,103.6 71.7,105.6ZM72,113.6 72.8,111.4 74.6,110.3 73.7,112.5ZM73.8,113.6 74.1,85.2 75.8,84.3 75.5,112.5ZM78.3,106.3 79.1,103.3 80.8,102.2 80,105.3ZM125.1,138.1 126,136.4 127.6,135.2 126.6,136.9ZM160.2,142.6 161.2,140.9 162.6,139.6 161.7,141.3ZM173.2,144.1 174.1,142.6 175.5,141.4 174.5,142.9ZM178.2,144.1 179.2,142.2 180.5,141 179.5,142.8ZM206.6,148.2 207.6,145.4 208.9,144.1 207.9,147ZM208.7,147.6 209.7,141 211,139.7 209.9,146.3ZM211.8,146.6 212.8,140.3 214.1,139 213,145.3ZM216.9,147.9 218,141.1 219.3,139.8 218.2,146.6ZM221.1,147.1 222.2,142 223.4,140.8 222.3,145.8Z" fill="#426aa5" stroke="#426aa5" stroke-width="1.3" stroke-linejoin="bevel"/>
<path d="M384.7,89.3 385.6,90.4 386.7,89.7 385.9,88.6ZM385.6,90.4 386.4,90.5 387.5,89.8 386.7,89.7ZM390.4,86.4 391.3,87.4 392.4,86.8 391.5,85.7ZM391.3,87.4 392.1,87.9 393.2,87.2 392.4,86.8ZM392.1,87.9 392.9,88.2 394,87.5 393.2,87.2ZM393.8,89.5 394.6,88.4 395.7,87.7 394.9,88.8ZM398.7,89.7 399.6,89.8 400.6,89.1 399.8,89ZM399.6,89.8 400.4,89.8 401.5,89.1 400.6,89.1ZM401.2,87 402,86.9 403.1,86.2 402.2,86.3ZM403.7,86.3 404.5,87 405.6,86.4 404.7,85.6ZM405.4,89.2 406.2,88.3 407.2,87.6 406.4,88.5ZM406.2,88.3 407,87.6 408.1,86.9 407.2,87.6ZM408.7,88.9 409.5,87.9 410.6,87.2 409.7,88.2ZM411.2,88.9 412,88.5 413.1,87.8 412.2,88.2ZM412,88.5 412.9,88.5 413.9,87.8 413.1,87.8ZM412.9,88.5 413.7,87.6 414.7,86.9 413.9,87.8ZM413.7,87.6 414.5,87.7 415.6,87 414.7,86.9ZM414.5,87.7 415.4,86.9 416.4,86.2 415.6,87ZM415.4,86.9 416.2,88.2 417.3,87.5 416.4,86.2ZM417.1,89.5 417.9,89.6 418.9,88.9 418.1,88.8ZM417.9,89.6 418.7,90 419.8,89.2 418.9,88.9ZM421.3,88 422.1,87.7 423.1,87 422.3,87.3ZM422.1,87.7 422.9,87.2 424,86.5 423.1,87ZM422.9,87.2 423.8,86.7 424.8,86 424,86.5ZM423.8,86.7 424.6,87.7 425.7,87 424.8,86ZM425.5,89.5 426.3,90.5 427.4,89.8 426.5,88.7ZM426.3,90.5 427.2,89.4 428.2,88.7 427.4,89.8ZM428.9,86.1 429.7,86.2 430.7,85.5 429.9,85.4ZM429.7,86.2 430.6,86.6 431.6,85.9 430.7,85.5ZM430.6,86.6 431.4,85.3 432.4,84.6 431.6,85.9ZM435.7,88.4 436.5,88.5 437.5,87.8 436.7,87.7ZM439.1,87.7 440,88.3 441,87.6 440.1,87ZM440.8,86.7 441.7,85.5 442.7,84.8 441.8,86ZM441.7,85.5 442.5,86.1 443.5,85.4 442.7,84.8ZM442.5,86.1 443.4,85.2 444.4,84.5 443.5,85.4ZM446.8,86.8 447.7,86 448.7,85.3 447.8,86.1ZM449.4,85.4 450.3,84.2 451.2,83.5 450.4,84.7ZM452,85.7 452.9,86 453.8,85.3 453,85ZM454.6,85.2 455.5,86.5 456.4,85.8 455.6,84.5ZM459.8,81.9 460.7,80.6 461.6,79.9 460.8,81.2ZM461.6,82.2 462.5,82.8 463.4,82.1 462.5,81.5ZM465.1,81.8 466,81.2 466.9,80.5 466,81.1ZM474.8,85.4 475.6,85.6 476.6,84.9 475.7,84.6ZM498.8,87.2 499.8,86.6 500.6,85.9 499.7,86.5ZM505.2,85 506.1,85.3 506.9,84.6 506,84.3ZM506.1,85.3 507,86.5 507.8,85.8 506.9,84.6ZM512.5,81.9 513.4,81.8 514.2,81.1 513.3,81.2ZM515.2,87.8 516.1,87.1 516.9,86.4 516,87.1ZM516.1,87.1 517,86.4 517.8,85.7 516.9,86.4ZM520.7,85.7 521.6,85.8 522.4,85.1 521.5,85ZM521.6,85.8 522.5,84.4 523.3,83.7 522.4,85.1ZM533.6,83.6 534.6,82.2 535.3,81.5 534.4,82.9ZM535.5,85.2 536.4,85.1 537.2,84.3 536.2,84.5Z" fill="#b97878" stroke="#b97878" stroke-width="1.3" stroke-linejoin="bevel"/>
<path d="M383.1,89 384,91.2 385.1,90.5 384.2,88.3ZM387.2,88.6 388,90.3 389.1,89.6 388.3,87.9ZM388.8,88.5 389.7,89.9 390.8,89.2 389.9,87.8ZM392.9,88.2 393.8,89.5 394.9,88.8 394,87.5ZM394.6,88.4 395.4,90.6 396.5,89.9 395.7,87.7ZM396.2,89.2 397.1,91.9 398.2,91.2 397.3,88.5ZM397.9,88.1 398.7,89.7 399.8,89 399,87.4ZM402,86.9 402.8,88.4 403.9,87.7 403.1,86.2ZM404.5,87 405.4,89.2 406.4,88.5 405.6,86.4ZM407,87.6 407.9,90.3 408.9,89.6 408.1,86.9ZM409.5,87.9 410.4,90.4 411.4,89.7 410.6,87.2ZM416.2,88.2 417.1,89.5 418.1,88.8 417.3,87.5ZM419.6,87.1 420.4,91 421.5,90.3 420.6,86.4ZM424.6,87.7 425.5,89.5 426.5,88.7 425.7,87ZM431.4,85.3 432.3,88.2 433.3,87.5 432.4,84.6ZM432.3,88.2 433.2,91.7 434.2,91 433.3,87.5ZM433.8,67.6 434.8,86.9 435.8,86.2 434.8,66.9ZM434.8,86.9 435.7,88.4 436.7,87.7 435.8,86.2ZM436.5,88.5 437.4,90.2 438.4,89.5 437.5,87.8ZM438.1,67.6 439.1,87.7 440.1,87 439.1,67ZM444.1,64.3 445.1,83 446.1,82.3 445.1,63.6ZM445.1,83 446,85.2 446.9,84.5 446.1,82.3ZM446,85.2 446.8,86.8 447.8,86.1 446.9,84.5ZM448.5,70.1 449.4,85.4 450.4,84.7 449.5,69.4ZM451.1,81.5 452,85.7 453,85 452.1,80.9ZM453.7,74.2 454.6,85.2 455.6,84.5 454.7,73.5ZM456.3,81 457.2,89.5 458.2,88.8 457.3,80.3ZM458.9,60.7 459.8,81.9 460.8,81.2 459.9,60.1ZM460.7,80.6 461.6,82.2 462.5,81.5 461.6,79.9ZM462.5,82.8 463.3,87.2 464.3,86.5 463.4,82.1ZM464.2,68.2 465.1,81.8 466,81.1 465.1,67.6ZM466,81.2 466.8,83.8 467.8,83.1 466.9,80.5ZM466.8,83.8 467.7,85.8 468.6,85.1 467.8,83.1ZM469.5,68.5 470.4,84 471.3,83.3 470.4,67.9ZM470.4,84 471.2,85.5 472.2,84.8 471.3,83.3ZM471.2,85.5 472.1,89.2 473,88.5 472.2,84.8ZM473.9,81.5 474.8,85.4 475.7,84.6 474.8,80.8ZM476.5,73.4 477.4,82.2 478.3,81.5 477.5,72.7ZM477.4,82.2 478.3,83.6 479.2,82.9 478.3,81.5ZM480.1,68.8 481,77.5 481.9,76.8 481,68.2ZM481,77.5 481.9,81.3 482.8,80.6 481.9,76.8ZM482.8,78.5 483.6,81.6 484.5,80.9 483.7,77.8ZM484.6,64.8 485.4,81.7 486.3,81 485.5,64.1ZM486.3,80.1 487.2,83 488.1,82.2 487.2,79.4ZM488.1,71.9 489,83.3 489.9,82.6 489,71.2ZM489.9,81.9 490.8,88.3 491.6,87.6 490.8,81.2ZM491.7,73.2 492.5,89.8 493.4,89 492.6,72.5ZM493.5,83.2 494.3,89 495.2,88.3 494.3,82.5ZM495.3,85.1 496.1,88.7 497,87.9 496.1,84.4ZM498,77.8 498.8,87.2 499.7,86.5 498.9,77.1ZM499.8,86.6 500.6,89.3 501.5,88.6 500.6,85.9ZM503.5,73.8 504.3,83.1 505.1,82.4 504.3,73.1ZM504.3,83.1 505.2,85 506,84.3 505.1,82.4ZM507.9,82.7 508.8,86.5 509.6,85.8 508.8,81.9ZM509.8,71 510.6,85.7 511.5,85 510.7,70.4ZM510.6,85.7 511.5,87.9 512.3,87.2 511.5,85ZM514.4,71.9 515.2,87.8 516,87.1 515.2,71.2ZM517,86.4 517.9,90.1 518.7,89.4 517.8,85.7ZM520,68.2 520.7,85.7 521.5,85 520.8,67.5ZM522.5,84.4 523.4,88.6 524.2,87.9 523.3,83.7ZM524.4,84.4 525.3,87.4 526.1,86.7 525.2,83.7ZM526.3,79.9 527.1,85.8 527.9,85.1 527.1,79.2ZM527.1,85.8 528,93 528.7,92.2 527.9,85.1ZM529.2,70.5 529.8,93 530.6,92.2 529.9,69.8ZM530.9,81.1 531.7,86.4 532.5,85.6 531.7,80.4ZM532.9,66.4 533.6,83.6 534.4,82.9 533.7,65.7ZM534.6,82.2 535.5,85.2 536.2,84.5 535.3,81.5ZM537.5,74 538.2,86.7 539,85.9 538.2,73.3Z" fill="#9d6666" stroke="#9d6666" stroke-width="1.3" stroke-linejoin="bevel"/>
<path d="M384,91.2 384.7,89.3 385.9,88.6 385.1,90.5ZM386.4,90.5 387.2,88.6 388.3,87.9 387.5,89.8ZM388,90.3 388.8,88.5 389.9,87.8 389.1,89.6ZM389.7,89.9 390.4,86.4 391.5,85.7 390.8,89.2ZM395.4,90.6 396.2,89.2 397.3,88.5 396.5,89.9ZM397.1,91.9 397.9,88.1 399,87.4 398.2,91.2ZM400.4,89.8 401.2,87 402.2,86.3 401.5,89.1ZM402.8,88.4 403.7,86.3 404.7,85.6 403.9,87.7ZM407.9,90.3 408.7,88.9 409.7,88.2 408.9,89.6ZM410.4,90.4 411.2,88.9 412.2,88.2 411.4,89.7ZM418.7,90 419.6,87.1 420.6,86.4 419.8,89.2ZM420.4,91 421.3,88 422.3,87.3 421.5,90.3ZM427.2,89.4 428,88 429,87.3 428.2,88.7ZM428,88 428.9,86.1 429.9,85.4 429,87.3ZM433.2,91.7 433.8,67.6 434.8,66.9 434.2,91ZM437.4,90.2 438.1,67.6 439.1,67 438.4,89.5ZM440,88.3 440.8,86.7 441.8,86 441,87.6ZM443.4,85.2 444.1,64.3 445.1,63.6 444.4,84.5ZM447.7,86 448.5,70.1 449.5,69.4 448.7,85.3ZM450.3,84.2 451.1,81.5 452.1,80.9 451.2,83.5ZM452.9,86 453.7,74.2 454.7,73.5 453.8,85.3ZM455.5,86.5 456.3,81 457.3,80.3 456.4,85.8ZM457.2,89.5 458.1,83.7 459,83 458.2,88.8ZM458.1,83.7 458.9,60.7 459.9,60.1 459,83ZM463.3,87.2 464.2,68.2 465.1,67.6 464.3,86.5ZM467.7,85.8 468.6,81.2 469.5,80.5 468.6,85.1ZM468.6,81.2 469.5,68.5 470.4,67.9 469.5,80.5ZM472.1,89.2 473,83.8 473.9,83.1 473,88.5ZM473,83.8 473.9,81.5 474.8,80.8 473.9,83.1ZM475.6,85.6 476.5,73.4 477.5,72.7 476.6,84.9ZM478.3,83.6 479.2,81 480.1,80.3 479.2,82.9ZM479.2,81 480.1,68.8 481,68.2 480.1,80.3ZM481.9,81.3 482.8,78.5 483.7,77.8 482.8,80.6ZM483.6,81.6 484.6,64.8 485.5,64.1 484.5,80.9ZM485.4,81.7 486.3,80.1 487.2,79.4 486.3,81ZM487.2,83 488.1,71.9 489,71.2 488.1,82.2ZM489,83.3 489.9,81.9 490.8,81.2 489.9,82.6ZM490.8,88.3 491.7,73.2 492.6,72.5 491.6,87.6ZM492.5,89.8 493.5,83.2 494.3,82.5 493.4,89ZM494.3,89 495.3,85.1 496.1,84.4 495.2,88.3ZM496.1,88.7 497.1,81.2 497.9,80.5 497,87.9ZM497.1,81.2 498,77.8 498.9,77.1 497.9,80.5ZM500.6,89.3 501.6,87.6 502.4,86.8 501.5,88.6ZM501.6,87.6 502.5,83.2 503.3,82.4 502.4,86.8ZM502.5,83.2 503.5,73.8 504.3,73.1 503.3,82.4ZM507,86.5 507.9,82.7 508.8,81.9 507.8,85.8ZM508.8,86.5 509.8,71 510.7,70.4 509.6,85.8ZM511.5,87.9 512.5,81.9 513.3,81.2 512.3,87.2ZM513.4,81.8 514.4,71.9 515.2,71.2 514.2,81.1ZM517.9,90.1 518.8,88.4 519.6,87.6 518.7,89.4ZM518.8,88.4 520,68.2 520.8,67.5 519.6,87.6ZM523.4,88.6 524.4,84.4 525.2,83.7 524.2,87.9ZM525.3,87.4 526.3,79.9 527.1,79.2 526.1,86.7ZM528,93 529.2,70.5 529.9,69.8 528.7,92.2ZM529.8,93 530.9,81.1 531.7,80.4 530.6,92.2ZM531.7,86.4 532.9,66.4 533.7,65.7 532.5,85.6ZM536.4,85.1 537.5,74 538.2,73.3 537.2,84.3ZM538.2,86.7 539.2,84.5 540,83.8 539,85.9ZM539.2,84.5 540.2,81.9 540.9,81.2 540,83.8Z" fill="#c08686" stroke="#c08686" stroke-width="1.3" stroke-linejoin="bevel"/>
<path d="M377.5,88.3 378.4,88.9 379.5,88.2 378.7,87.6ZM382.5,87.6 383.4,88.4 384.5,87.7 383.7,86.9ZM385.8,85.7 386.6,85 387.8,84.3 387,85ZM391.6,82.4 392.5,83.7 393.6,83 392.8,81.7ZM395.9,82.9 396.7,84 397.8,83.3 397,82.2ZM400.1,87.2 401,86.4 402.1,85.7 401.2,86.5ZM412.1,88.9 412.9,90 414,89.3 413.1,88.2ZM414.7,92.6 415.5,93.4 416.6,92.7 415.7,91.9ZM419.8,88.7 420.6,87.7 421.7,87 420.8,88ZM425.7,80.6 426.6,80.5 427.6,79.8 426.8,79.9ZM429.2,80.7 430.1,79.9 431.1,79.2 430.2,80ZM433.6,81.6 434.4,81.7 435.5,81 434.6,80.9ZM444.1,84.8 445,84.4 446,83.6 445.1,84.1ZM445,84.4 445.8,83.5 446.8,82.7 446,83.6ZM456.5,88.3 457.3,87.2 458.3,86.5 457.4,87.6ZM467.2,80.8 468.1,79.8 469,79 468.1,80.1ZM475.3,83.2 476.2,82.6 477.1,81.8 476.2,82.4ZM482.5,84.9 483.4,84.4 484.3,83.6 483.4,84.2ZM486.1,88.7 487,88 487.9,87.3 487,88ZM496.2,85.8 497.1,85.4 498,84.7 497.1,85.1ZM502.6,84.5 503.6,83.4 504.4,82.7 503.5,83.8ZM504.5,80.5 505.5,79.3 506.3,78.6 505.4,79.8ZM516.6,84.4 517.5,85.4 518.3,84.7 517.4,83.7ZM521.2,87.3 522.2,88.1 523,87.4 522,86.6ZM531.5,91.7 532.5,93 533.2,92.3 532.3,90.9Z" fill="#708ec6" stroke="#708ec6" stroke-width="1.3" stroke-linejoin="bevel"/>
<path d="M375.7,80.5 376.7,84.8 377.8,84.1 376.9,79.8ZM376.7,84.8 377.5,88.3 378.7,87.6 377.8,84.1ZM379.9,80.1 380.8,86 382,85.3 381,79.5ZM380.8,86 381.7,90 382.9,89.3 382,85.3ZM384.1,80.4 384.9,83.2 386.1,82.5 385.2,79.7ZM384.9,83.2 385.8,85.7 387,85 386.1,82.5ZM386.6,85 387.6,89.1 388.7,88.4 387.8,84.3ZM387.6,89.1 388.5,92.9 389.6,92.2 388.7,88.4ZM392.5,83.7 393.4,86.8 394.5,86.1 393.6,83ZM394.1,79.7 395.1,89.1 396.2,88.4 395.2,79ZM396.7,84 397.6,89.9 398.8,89.1 397.8,83.3ZM397.6,89.9 398.5,93.4 399.6,92.7 398.8,89.1ZM399.1,77.3 400.1,87.2 401.2,86.5 400.3,76.6ZM401,86.4 401.8,87.9 402.9,87.2 402.1,85.7ZM401.8,87.9 402.7,89.8 403.8,89.1 402.9,87.2ZM402.7,89.8 403.6,96.2 404.7,95.5 403.8,89.1ZM404.2,73.8 405.3,92.6 406.4,91.9 405.3,73.1ZM406,84.8 407,91.4 408.1,90.7 407.1,84.1ZM407.8,90 408.7,93.7 409.8,93 408.9,89.3ZM409.5,88.6 410.4,90.3 411.4,89.5 410.6,87.9ZM411.2,86.9 412.1,88.9 413.1,88.2 412.3,86.2ZM413.7,78.6 414.7,92.6 415.7,91.9 414.7,77.9ZM417.2,85.3 418.1,91.8 419.1,91 418.2,84.5ZM418.1,91.8 419,100.4 420.1,99.7 419.1,91ZM421.4,79.8 422.4,94 423.5,93.3 422.5,79.1ZM423,66.5 424.1,93.1 425.2,92.4 424.1,65.9ZM424.1,93.1 425,94.9 426,94.2 425.2,92.4ZM427.4,77.4 428.3,79.1 429.4,78.4 428.5,76.7ZM428.3,79.1 429.2,80.7 430.2,80 429.4,78.4ZM431.6,56 432.7,86.7 433.8,86 432.7,55.4ZM435.9,44.8 437.1,81.7 438.1,80.9 437,44.2ZM437.9,78.5 438.8,80 439.8,79.3 438.9,77.8ZM438.8,80 439.7,81.6 440.7,80.9 439.8,79.3ZM440.4,48.4 441.4,79.9 442.4,79.2 441.4,47.8ZM441.4,79.9 442.3,84.3 443.3,83.6 442.4,79.2ZM443.2,82.2 444.1,84.8 445.1,84.1 444.2,81.5ZM447.4,42.7 448.5,78 449.5,77.3 448.4,42.1ZM448.5,78 449.3,79.4 450.3,78.7 449.5,77.3ZM449.3,79.4 450.2,81.8 451.2,81.1 450.3,78.7ZM451,47.9 452,77.3 453,76.6 452,47.3ZM452,77.3 452.9,82.6 453.9,81.9 453,76.6ZM453.8,80.3 454.7,85.5 455.7,84.8 454.8,79.6ZM455.5,78.4 456.5,88.3 457.4,87.6 456.5,77.7ZM459,36.7 460,82 461,81.3 460,36.1ZM460.8,38 461.8,83 462.8,82.2 461.8,37.4ZM462.7,76.2 463.6,78 464.5,77.3 463.6,75.5ZM464.4,48.3 465.4,82.6 466.3,81.9 465.4,47.7ZM466.3,78.5 467.2,80.8 468.1,80.1 467.2,77.8ZM469,35.9 469.9,85.6 470.8,84.8 469.9,35.3ZM472.6,62.4 473.5,81.9 474.4,81.2 473.5,61.7ZM474.4,79.8 475.3,83.2 476.2,82.4 475.3,79.1ZM477.1,55.6 478,80.5 478.9,79.8 478,55ZM478.9,76.6 479.8,82 480.7,81.3 479.8,75.9ZM480.8,45 481.6,82 482.5,81.3 481.7,44.4ZM481.6,82 482.5,84.9 483.4,84.2 482.5,81.3ZM483.4,84.4 484.3,87.1 485.2,86.4 484.3,83.6ZM485.2,81.4 486.1,88.7 487,88 486.1,80.7ZM489,48.5 489.8,82.4 490.7,81.7 489.9,47.9ZM489.8,82.4 490.7,84.8 491.6,84.1 490.7,81.7ZM490.7,84.8 491.6,87.9 492.5,87.2 491.6,84.1ZM493.7,31.7 494.4,84.2 495.2,83.5 494.6,31.1ZM495.4,64.8 496.2,85.8 497.1,85.1 496.3,64.1ZM499.9,78.1 500.8,88.2 501.6,87.5 500.8,77.4ZM501.9,60 502.6,84.5 503.5,83.8 502.8,59.3ZM506.5,58.6 507.3,85.3 508.1,84.5 507.4,58ZM508.5,41.1 509.1,87.7 509.9,86.9 509.4,40.4ZM511.2,60.9 511.9,83.5 512.8,82.7 512,60.2ZM512.9,78.5 513.8,81.5 514.6,80.7 513.7,77.8ZM513.8,81.5 514.7,90 515.5,89.3 514.6,80.7ZM515.8,68.3 516.6,84.4 517.4,83.7 516.6,67.6ZM519.9,31.9 520.3,88.9 521.1,88.1 520.7,31.4ZM524.5,47.8 525.4,54.3 526.2,53.6 525.3,47.1ZM525.4,54.3 526,76.6 526.9,75.9 526.2,53.6ZM526,76.6 526.9,87.1 527.7,86.4 526.9,75.9ZM526.9,87.1 527.8,91.6 528.6,90.8 527.7,86.4ZM528.8,84.9 529.7,86.7 530.5,86 529.6,84.2ZM530.7,85.3 531.5,91.7 532.3,90.9 531.5,84.5ZM533.9,54.6 534.5,78.7 535.3,78 534.7,53.9ZM534.5,78.7 535.2,99.2 536,98.4 535.3,78Z" fill="#5f79a8" stroke="#5f79a8" stroke-width="1.3" stroke-linejoin="bevel"/>
<path d="M378.4,88.9 379.1,85 380.3,84.3 379.5,88.2ZM379.1,85 379.9,80.1 381,79.5 380.3,84.3ZM381.7,90 382.5,87.6 383.7,86.9 382.9,89.3ZM383.4,88.4 384.1,80.4 385.2,79.7 384.5,87.7ZM388.5,92.9 389.3,91.6 390.4,90.8 389.6,92.2ZM389.3,91.6 390.1,90 391.2,89.3 390.4,90.8ZM390.1,90 390.8,84 391.9,83.3 391.2,89.3ZM390.8,84 391.6,82.4 392.8,81.7 391.9,83.3ZM393.4,86.8 394.1,79.7 395.2,79 394.5,86.1ZM395.1,89.1 395.9,82.9 397,82.2 396.2,88.4ZM398.5,93.4 399.1,77.3 400.3,76.6 399.6,92.7ZM403.6,96.2 404.2,73.8 405.3,73.1 404.7,95.5ZM405.3,92.6 406,84.8 407.1,84.1 406.4,91.9ZM407,91.4 407.8,90 408.9,89.3 408.1,90.7ZM408.7,93.7 409.5,88.6 410.6,87.9 409.8,93ZM410.4,90.3 411.2,86.9 412.3,86.2 411.4,89.5ZM412.9,90 413.7,78.6 414.7,77.9 414,89.3ZM415.5,93.4 416.3,88.3 417.4,87.6 416.6,92.7ZM416.3,88.3 417.2,85.3 418.2,84.5 417.4,87.6ZM419,100.4 419.8,88.7 420.8,88 420.1,99.7ZM420.6,87.7 421.4,79.8 422.5,79.1 421.7,87ZM422.4,94 423,66.5 424.1,65.9 423.5,93.3ZM425,94.9 425.7,80.6 426.8,79.9 426,94.2ZM426.6,80.5 427.4,77.4 428.5,76.7 427.6,79.8ZM430.1,79.9 430.9,77.8 432,77.1 431.1,79.2ZM430.9,77.8 431.6,56 432.7,55.4 432,77.1ZM432.7,86.7 433.6,81.6 434.6,80.9 433.8,86ZM434.4,81.7 435.3,79.6 436.3,78.9 435.5,81ZM435.3,79.6 435.9,44.8 437,44.2 436.3,78.9ZM437.1,81.7 437.9,78.5 438.9,77.8 438.1,80.9ZM439.7,81.6 440.4,48.4 441.4,47.8 440.7,80.9ZM442.3,84.3 443.2,82.2 444.2,81.5 443.3,83.6ZM445.8,83.5 446.7,79.7 447.7,79 446.8,82.7ZM446.7,79.7 447.4,42.7 448.4,42.1 447.7,79ZM450.2,81.8 451,47.9 452,47.3 451.2,81.1ZM452.9,82.6 453.8,80.3 454.8,79.6 453.9,81.9ZM454.7,85.5 455.5,78.4 456.5,77.7 455.7,84.8ZM457.3,87.2 458.2,83.3 459.2,82.6 458.3,86.5ZM458.2,83.3 459,36.7 460,36.1 459.2,82.6ZM460,82 460.8,38 461.8,37.4 461,81.3ZM461.8,83 462.7,76.2 463.6,75.5 462.8,82.2ZM463.6,78 464.4,48.3 465.4,47.7 464.5,77.3ZM465.4,82.6 466.3,78.5 467.2,77.8 466.3,81.9ZM468.1,79.8 469,35.9 469.9,35.3 469,79ZM469.9,85.6 470.8,83.7 471.7,83 470.8,84.8ZM470.8,83.7 471.7,81.3 472.6,80.6 471.7,83ZM471.7,81.3 472.6,62.4 473.5,61.7 472.6,80.6ZM473.5,81.9 474.4,79.8 475.3,79.1 474.4,81.2ZM476.2,82.6 477.1,55.6 478,55 477.1,81.8ZM478,80.5 478.9,76.6 479.8,75.9 478.9,79.8ZM479.8,82 480.8,45 481.7,44.4 480.7,81.3ZM484.3,87.1 485.2,81.4 486.1,80.7 485.2,86.4ZM487,88 488,81.5 488.9,80.8 487.9,87.3ZM488,81.5 489,48.5 489.9,47.9 488.9,80.8ZM491.6,87.9 492.5,84.8 493.4,84 492.5,87.2ZM492.5,84.8 493.7,31.7 494.6,31.1 493.4,84ZM494.4,84.2 495.4,64.8 496.3,64.1 495.2,83.5ZM497.1,85.4 498,83.1 498.9,82.3 498,84.7ZM498,83.1 499,81.1 499.8,80.4 498.9,82.3ZM499,81.1 499.9,78.1 500.8,77.4 499.8,80.4ZM500.8,88.2 501.9,60 502.8,59.3 501.6,87.5ZM503.6,83.4 504.5,80.5 505.4,79.8 504.4,82.7ZM505.5,79.3 506.5,58.6 507.4,58 506.3,78.6ZM507.3,85.3 508.5,41.1 509.4,40.4 508.1,84.5ZM509.1,87.7 510.1,82.5 510.9,81.8 509.9,86.9ZM510.1,82.5 511.2,60.9 512,60.2 510.9,81.8ZM511.9,83.5 512.9,78.5 513.7,77.8 512.8,82.7ZM514.7,90 515.8,68.3 516.6,67.6 515.5,89.3ZM517.5,85.4 518.5,81.9 519.3,81.2 518.3,84.7ZM518.5,81.9 519.9,31.9 520.7,31.4 519.3,81.2ZM520.3,88.9 521.2,87.3 522,86.6 521.1,88.1ZM522.2,88.1 523.1,85.5 523.9,84.8 523,87.4ZM523.1,85.5 524.5,47.8 525.3,47.1 523.9,84.8ZM527.8,91.6 528.8,84.9 529.6,84.2 528.6,90.8ZM529.7,86.7 530.7,85.3 531.5,84.5 530.5,86ZM532.5,93 533.9,54.6 534.7,53.9 533.2,92.3Z" fill="#7e99cc" stroke="#7e99cc" stroke-width="1.3" stroke-linejoin="bevel"/>
<path d="M369.4,94.6 370.2,94.6 371.4,93.9 370.6,93.9ZM371,93.2 371.9,93.3 373.1,92.6 372.2,92.5ZM374.5,95.4 375.3,95.5 376.5,94.7 375.6,94.7ZM375.3,95.5 376.2,96.3 377.3,95.5 376.5,94.7ZM376.2,96.3 377,96.8 378.2,96 377.3,95.5ZM377.8,92.2 378.6,92.1 379.8,91.3 379,91.5ZM380.4,97.1 381.3,97.8 382.4,97.1 381.6,96.3ZM382.9,94.7 383.8,95.7 384.9,94.9 384.1,94ZM384.7,98.7 385.5,98.2 386.7,97.5 385.8,98ZM385.5,98.2 386.4,98.7 387.5,98 386.7,97.5ZM387.2,95.5 388,95.6 389.2,94.9 388.3,94.8ZM401,100.8 401.8,101.5 403,100.8 402.1,100ZM405.3,101.9 406.2,103 407.3,102.3 406.4,101.1ZM406.8,83.2 407.7,83 408.8,82.3 407.9,82.5ZM416.6,97.6 417.5,98.9 418.5,98.1 417.6,96.8ZM437.7,87 438.6,87.3 439.6,86.5 438.7,86.3ZM438.6,87.3 439.5,87.3 440.5,86.5 439.6,86.5ZM440.4,89.9 441.3,90.7 442.3,90 441.4,89.1ZM448.5,94 449.4,93.4 450.4,92.7 449.5,93.3ZM453.9,89.6 454.8,89.1 455.8,88.3 454.9,88.8ZM454.8,89.1 455.7,87.9 456.7,87.1 455.8,88.3ZM463.8,85.6 464.8,86 465.7,85.2 464.8,84.8ZM524.7,85.7 525.7,86.2 526.5,85.4 525.5,85ZM527.5,93 528.5,93.3 529.3,92.5 528.3,92.2Z" fill="#d46e1e" stroke="#d46e1e" stroke-width="1.3" stroke-linejoin="bevel"/>
<path d="M368.4,88.8 369.4,94.6 370.6,93.9 369.6,88.1ZM371.9,93.3 372.8,98.5 374,97.8 373.1,92.6ZM373.6,92.5 374.5,95.4 375.6,94.7 374.7,91.7ZM378.6,92.1 379.5,93.6 380.7,92.9 379.8,91.3ZM379.5,93.6 380.4,97.1 381.6,96.3 380.7,92.9ZM383.8,95.7 384.7,98.7 385.8,98 384.9,94.9ZM388,95.6 388.9,97 390.1,96.3 389.2,94.9ZM388.9,97 389.8,99.5 391,98.7 390.1,96.3ZM391.4,92.2 392.3,94.8 393.4,94.1 392.5,91.5ZM392.3,94.8 393.2,98.9 394.4,98.1 393.4,94.1ZM393.2,98.9 394.1,101.5 395.2,100.7 394.4,98.1ZM394.9,97.1 395.8,99.4 396.9,98.6 396,96.4ZM396.6,95.9 397.5,99.9 398.6,99.1 397.7,95.1ZM399.2,94.1 400,95.9 401.2,95.2 400.3,93.4ZM400,95.9 401,100.8 402.1,100 401.2,95.2ZM403.5,95.7 404.4,97.4 405.5,96.6 404.6,95ZM404.4,97.4 405.3,101.9 406.4,101.1 405.5,96.6ZM407.7,83 408.7,99.7 409.9,99 408.8,82.3ZM408.7,99.7 409.6,102 410.7,101.3 409.9,99ZM411.3,92.8 412.2,98.7 413.3,98 412.4,92ZM412.2,98.7 413.1,101.2 414.2,100.4 413.3,98ZM414.7,83.9 415.7,95 416.7,94.3 415.8,83.1ZM415.7,95 416.6,97.6 417.6,96.8 416.7,94.3ZM417.5,98.9 418.4,103.3 419.5,102.5 418.5,98.1ZM419.8,69.7 421,106.9 422.1,106.1 420.9,69ZM422.4,68.2 423.5,91.3 424.6,90.6 423.5,67.5ZM424.4,87.9 425.3,96.1 426.4,95.4 425.4,87.2ZM426,72.8 427,84.1 428.1,83.4 427.1,72.1ZM427.7,59.9 428.8,89.7 429.9,89 428.7,59.3ZM428.8,89.7 429.7,92.2 430.8,91.5 429.9,89ZM430.3,54 431.5,93.9 432.5,93.2 431.4,53.4ZM433,63.8 434.1,88.4 435.2,87.7 434.1,63.1ZM434.1,88.4 435,92 436.1,91.3 435.2,87.7ZM436.6,66.5 437.7,87 438.7,86.3 437.7,65.8ZM439.5,87.3 440.4,89.9 441.4,89.1 440.5,86.5ZM442,60.9 443,81.3 444,80.6 443,60.2ZM443,81.3 443.9,89.2 445,88.5 444,80.6ZM445.5,47.7 446.6,84.1 447.6,83.3 446.6,47ZM447.4,62 448.5,94 449.5,93.3 448.4,61.3ZM451,56 452,83 453,82.3 452,55.4ZM452.7,26.7 453.9,89.6 454.9,88.8 453.8,26.1ZM456.5,66.6 457.5,89.3 458.5,88.5 457.5,66ZM457.5,89.3 458.4,94 459.4,93.2 458.5,88.5ZM460.2,70.3 461.1,88.5 462.1,87.7 461.2,69.6ZM462.9,54.9 463.8,85.6 464.8,84.8 463.9,54.2ZM464.8,86 465.7,91.8 466.6,91 465.7,85.2ZM466.6,51.9 467.5,82.5 468.5,81.8 467.5,51.2ZM467.5,82.5 468.4,88.4 469.4,87.7 468.5,81.8ZM469.3,60.2 470.2,89.9 471.2,89.2 470.3,59.5ZM471.2,54.6 472.1,88.4 473,87.6 472.1,54ZM472.1,88.4 473,92.4 474,91.7 473,87.6ZM473.9,69.2 474.8,91 475.8,90.2 474.9,68.5ZM475.8,84.4 476.7,91.9 477.6,91.2 476.7,83.6ZM478.6,75.4 479.5,91.2 480.4,90.4 479.5,74.7ZM481.3,84.8 482.2,92.6 483.2,91.8 482.2,84ZM484.1,74.7 485,86.1 485.9,85.3 485.1,73.9ZM485,86.1 485.9,93.1 486.8,92.4 485.9,85.3ZM488.9,47.3 489.7,88.4 490.6,87.6 489.8,46.7ZM489.7,88.4 490.6,90.1 491.5,89.3 490.6,87.6ZM491.7,62.3 492.4,92.5 493.4,91.7 492.6,61.6ZM492.4,92.5 493.4,94.4 494.3,93.6 493.4,91.7ZM495.4,57.2 496.2,88.4 497.1,87.7 496.3,56.5ZM497.2,85 498.1,91.4 499,90.6 498.1,84.2ZM499.1,75.9 500,89.5 500.8,88.8 500,75.1ZM500.9,87.1 501.8,98.5 502.7,97.7 501.8,86.4ZM504.1,43.2 504.6,93 505.5,92.2 504.9,42.5ZM505.8,67.2 506.6,88 507.4,87.2 506.7,66.5ZM506.6,88 507.4,100.7 508.3,99.9 507.4,87.2ZM509.4,89.1 510.3,95.6 511.2,94.8 510.3,88.3ZM511.5,67 512.2,90.5 513.1,89.7 512.4,66.3ZM512.2,90.5 513.2,93.3 514,92.5 513.1,89.7ZM514.6,41.3 515.1,89.4 516,88.7 515.4,40.7ZM515.1,89.4 516,92.7 516.9,91.9 516,88.7ZM517,87.2 517.9,98.1 518.7,97.3 517.9,86.4ZM519.1,71.1 519.9,90.6 520.7,89.8 519.9,70.4ZM519.9,90.6 520.8,95 521.6,94.2 520.7,89.8ZM523.1,60 523.6,98 524.4,97.2 523.9,59.3ZM525.7,86.2 526.4,101 527.3,100.2 526.5,85.4ZM528.5,93.3 529.4,94.7 530.2,93.9 529.3,92.5Z" fill="#b45e1a" stroke="#b45e1a" stroke-width="1.3" stroke-linejoin="bevel"/>
<path d="M370.2,94.6 371,93.2 372.2,92.5 371.4,93.9ZM372.8,98.5 373.6,92.5 374.7,91.7 374,97.8ZM377,96.8 377.8,92.2 379,91.5 378.2,96ZM381.3,97.8 382.1,96 383.2,95.3 382.4,97.1ZM382.1,96 382.9,94.7 384.1,94 383.2,95.3ZM386.4,98.7 387.2,95.5 388.3,94.8 387.5,98ZM389.8,99.5 390.6,96.3 391.8,95.6 391,98.7ZM390.6,96.3 391.4,92.2 392.5,91.5 391.8,95.6ZM394.1,101.5 394.9,97.1 396,96.4 395.2,100.7ZM395.8,99.4 396.6,95.9 397.7,95.1 396.9,98.6ZM397.5,99.9 398.3,97.5 399.5,96.7 398.6,99.1ZM398.3,97.5 399.2,94.1 400.3,93.4 399.5,96.7ZM401.8,101.5 402.7,97.7 403.8,96.9 403,100.8ZM402.7,97.7 403.5,95.7 404.6,95 403.8,96.9ZM406.2,103 406.8,83.2 407.9,82.5 407.3,102.3ZM409.6,102 410.4,96.7 411.5,96 410.7,101.3ZM410.4,96.7 411.3,92.8 412.4,92 411.5,96ZM413.1,101.2 413.9,96.2 415,95.4 414.2,100.4ZM413.9,96.2 414.7,83.9 415.8,83.1 415,95.4ZM418.4,103.3 419.2,98.4 420.3,97.6 419.5,102.5ZM419.2,98.4 419.8,69.7 420.9,69 420.3,97.6ZM421,106.9 421.7,86.2 422.8,85.5 422.1,106.1ZM421.7,86.2 422.4,68.2 423.5,67.5 422.8,85.5ZM423.5,91.3 424.4,87.9 425.4,87.2 424.6,90.6ZM425.3,96.1 426,72.8 427.1,72.1 426.4,95.4ZM427,84.1 427.7,59.9 428.7,59.3 428.1,83.4ZM429.7,92.2 430.3,54 431.4,53.4 430.8,91.5ZM431.5,93.9 432.4,92.1 433.4,91.4 432.5,93.2ZM432.4,92.1 433,63.8 434.1,63.1 433.4,91.4ZM435,92 435.9,89 436.9,88.3 436.1,91.3ZM435.9,89 436.6,66.5 437.7,65.8 436.9,88.3ZM441.3,90.7 442,60.9 443,60.2 442.3,90ZM443.9,89.2 444.7,67 445.8,66.4 445,88.5ZM444.7,67 445.5,47.7 446.6,47 445.8,66.4ZM446.6,84.1 447.4,62 448.4,61.3 447.6,83.3ZM449.4,93.4 450.2,87.4 451.2,86.7 450.4,92.7ZM450.2,87.4 451,56 452,55.4 451.2,86.7ZM452,83 452.7,26.7 453.8,26.1 453,82.3ZM455.7,87.9 456.5,66.6 457.5,66 456.7,87.1ZM458.4,94 459.3,90.3 460.3,89.6 459.4,93.2ZM459.3,90.3 460.2,70.3 461.2,69.6 460.3,89.6ZM461.1,88.5 462,86.4 463,85.6 462.1,87.7ZM462,86.4 462.9,54.9 463.9,54.2 463,85.6ZM465.7,91.8 466.6,51.9 467.5,51.2 466.6,91ZM468.4,88.4 469.3,60.2 470.3,59.5 469.4,87.7ZM470.2,89.9 471.2,54.6 472.1,54 471.2,89.2ZM473,92.4 473.9,69.2 474.9,68.5 474,91.7ZM474.8,91 475.8,84.4 476.7,83.6 475.8,90.2ZM476.7,91.9 477.6,83.3 478.6,82.5 477.6,91.2ZM477.6,83.3 478.6,75.4 479.5,74.7 478.6,82.5ZM479.5,91.2 480.4,87.4 481.3,86.7 480.4,90.4ZM480.4,87.4 481.3,84.8 482.2,84 481.3,86.7ZM482.2,92.6 483.2,91 484.1,90.2 483.2,91.8ZM483.2,91 484.1,74.7 485.1,73.9 484.1,90.2ZM485.9,93.1 486.9,91.5 487.8,90.7 486.8,92.4ZM486.9,91.5 487.8,81.6 488.7,80.9 487.8,90.7ZM487.8,81.6 488.9,47.3 489.8,46.7 488.7,80.9ZM490.6,90.1 491.7,62.3 492.6,61.6 491.5,89.3ZM493.4,94.4 494.3,92.6 495.2,91.8 494.3,93.6ZM494.3,92.6 495.4,57.2 496.3,56.5 495.2,91.8ZM496.2,88.4 497.2,85 498.1,84.2 497.1,87.7ZM498.1,91.4 499.1,75.9 500,75.1 499,90.6ZM500,89.5 500.9,87.1 501.8,86.4 500.8,88.8ZM501.8,98.5 502.8,92 503.6,91.2 502.7,97.7ZM502.8,92 504.1,43.2 504.9,42.5 503.6,91.2ZM504.6,93 505.8,67.2 506.7,66.5 505.5,92.2ZM507.4,100.7 508.4,94.4 509.3,93.6 508.3,99.9ZM508.4,94.4 509.4,89.1 510.3,88.3 509.3,93.6ZM510.3,95.6 511.5,67 512.4,66.3 511.2,94.8ZM513.2,93.3 514.6,41.3 515.4,40.7 514,92.5ZM516,92.7 517,87.2 517.9,86.4 516.9,91.9ZM517.9,98.1 519.1,71.1 519.9,70.4 518.7,97.3ZM520.8,95 521.8,90 522.6,89.2 521.6,94.2ZM521.8,90 523.1,60 523.9,59.3 522.6,89.2ZM523.6,98 524.7,85.7 525.5,85 524.4,97.2ZM526.4,101 527.5,93 528.3,92.2 527.3,100.2ZM529.4,94.7 530.4,89.2 531.2,88.4 530.2,93.9Z" fill="#d87c34" stroke="#d87c34" stroke-width="1.3" stroke-linejoin="bevel"/>
<path d="M361,104.5 361.9,104.9 363.1,104.2 362.3,103.8ZM362.7,102.8 363.6,103.5 364.8,102.8 363.9,102ZM363.6,103.5 364.4,104.2 365.7,103.4 364.8,102.8ZM364.4,104.2 365.3,104.7 366.5,104 365.7,103.4ZM365.3,104.7 366.2,104.4 367.4,103.7 366.5,104ZM368.7,102.7 369.6,103.8 370.8,103 369.9,102ZM369.6,103.8 370.4,103.1 371.6,102.3 370.8,103ZM370.4,103.1 371.2,102.4 372.5,101.6 371.6,102.3ZM372.1,100.6 372.9,101 374.1,100.2 373.3,99.9ZM372.9,101 373.8,99.9 375,99.1 374.1,100.2ZM373.8,99.9 374.7,100.9 375.9,100.1 375,99.1ZM375.5,102.7 376.4,101.9 377.6,101.1 376.8,102ZM376.4,101.9 377.3,103.1 378.5,102.4 377.6,101.1ZM379,103.7 379.9,102.5 381.1,101.7 380.2,102.9ZM380.8,104.3 381.6,103 382.8,102.3 381.9,103.5ZM381.6,103 382.4,102.2 383.6,101.4 382.8,102.3ZM382.4,102.2 383.3,102.9 384.5,102.2 383.6,101.4ZM383.3,102.9 384.2,103 385.4,102.3 384.5,102.2ZM384.2,103 385.1,103 386.2,102.2 385.4,102.3ZM386,105.1 386.8,105.4 388,104.7 387.1,104.3ZM386.8,105.4 387.7,105.5 388.9,104.7 388,104.7ZM387.7,105.5 388.6,105 389.7,104.2 388.9,104.7ZM388.6,105 389.5,106.1 390.6,105.3 389.7,104.2ZM391.2,105.4 392.1,106.7 393.3,105.9 392.4,104.6ZM393.8,106.7 394.7,107.9 395.9,107.1 395,105.9ZM395.6,105.6 396.4,105.3 397.6,104.5 396.7,104.8ZM397.3,106.8 398.2,107.8 399.4,107 398.5,106ZM405.2,104.6 406.1,104.8 407.3,104 406.4,103.8ZM411.4,100.4 412.3,101.3 413.4,100.5 412.5,99.6ZM415.9,106.5 416.8,105.2 417.9,104.4 417,105.7ZM416.8,105.2 417.7,104.3 418.8,103.5 417.9,104.4ZM427.5,100.1 428.4,100.8 429.5,100 428.6,99.3ZM450.2,97.2 451.2,97.3 452.2,96.5 451.3,96.5ZM453,102.5 453.9,101.5 455,100.7 454,101.7ZM459.5,99 460.4,98.6 461.4,97.8 460.5,98.2ZM461.3,100.2 462.3,99.6 463.3,98.8 462.3,99.4ZM500,103.9 501,104.2 501.9,103.3 500.9,103.1ZM509.6,101.6 510.6,102.4 511.5,101.6 510.5,100.8ZM510.6,102.4 511.6,103 512.4,102.2 511.5,101.6ZM520.3,107 521.2,106.8 522.1,106 521.1,106.2ZM521.2,106.8 522.2,105.8 523.1,105 522.1,106ZM522.2,105.8 523.2,106.7 524,105.9 523.1,105Z" fill="#1980a0" stroke="#1980a0" stroke-width="1.3" stroke-linejoin="bevel"/>
<path d="M367,103.1 367.9,104.9 369.1,104.1 368.2,102.3ZM374.7,100.9 375.5,102.7 376.8,102 375.9,100.1ZM378.1,100.3 379,103.7 380.2,102.9 379.3,99.5ZM379.9,102.5 380.8,104.3 381.9,103.5 381.1,101.7ZM385.1,103 386,105.1 387.1,104.3 386.2,102.2ZM389.5,106.1 390.4,107.5 391.5,106.7 390.6,105.3ZM392.9,105.3 393.8,106.7 395,105.9 394.1,104.5ZM396.4,105.3 397.3,106.8 398.5,106 397.6,104.5ZM398.2,107.8 399.1,109.5 400.3,108.7 399.4,107ZM399.9,104.5 400.9,109.4 402,108.6 401.1,103.7ZM402.6,102.8 403.5,106.9 404.6,106.1 403.7,102ZM403.5,106.9 404.4,111.1 405.6,110.3 404.6,106.1ZM407.7,87.1 408.8,103.7 409.9,102.9 408.8,86.3ZM408.8,103.7 409.7,111.1 410.9,110.3 409.9,102.9ZM412.3,101.3 413.2,105.5 414.3,104.7 413.4,100.5ZM413.9,89.7 415,104.5 416.1,103.7 415,89ZM415,104.5 415.9,106.5 417,105.7 416.1,103.7ZM417.7,104.3 418.6,108.8 419.7,108 418.8,103.5ZM419.3,85.7 420.3,102.5 421.4,101.7 420.4,85ZM420.3,102.5 421.3,108.5 422.4,107.7 421.4,101.7ZM423,99.9 423.9,105.9 425,105.1 424.1,99.1ZM424.8,102.4 425.7,103.8 426.8,103 425.9,101.6ZM426.4,80.5 427.5,100.1 428.6,99.3 427.5,79.8ZM428.4,100.8 429.4,107.1 430.4,106.3 429.5,100ZM430.2,104.2 431.1,105.8 432.2,105 431.3,103.4ZM432,99.4 432.9,104.6 434,103.8 433.1,98.6ZM433.8,93.5 434.7,102.1 435.8,101.3 434.8,92.7ZM434.7,102.1 435.7,109.5 436.8,108.6 435.8,101.3ZM437.4,91.4 438.4,100.7 439.4,99.9 438.5,90.7ZM439.3,96.5 440.2,100.9 441.2,100.2 440.3,95.7ZM441.1,92.4 442,102.3 443.1,101.5 442.1,91.6ZM442,102.3 442.9,104.2 444,103.4 443.1,101.5ZM444.7,81.5 445.7,111.7 446.8,110.9 445.7,80.8ZM446.5,73.1 447.5,103.7 448.5,102.9 447.5,72.4ZM448.4,89.7 449.3,102.1 450.4,101.3 449.4,88.9ZM451.2,97.3 452.1,105.7 453.1,104.9 452.2,96.5ZM453.9,101.5 454.9,106.1 455.9,105.3 455,100.7ZM455.7,81.9 456.7,106.8 457.7,106 456.8,81.1ZM457.6,101.2 458.6,104.1 459.6,103.3 458.6,100.4ZM460.4,98.6 461.3,100.2 462.3,99.4 461.4,97.8ZM463.2,85.2 464.1,95.4 465.1,94.6 464.2,84.4ZM464.1,95.4 465.1,98.4 466,97.7 465.1,94.6ZM465.1,98.4 466,101.7 467,100.9 466,97.7ZM466,101.7 466.9,104.7 467.9,103.9 467,100.9ZM467.8,84.9 468.8,104.4 469.8,103.6 468.8,84.2ZM469.7,97.5 470.7,102.7 471.6,101.9 470.7,96.7ZM470.7,102.7 471.6,107.4 472.6,106.6 471.6,101.9ZM472.5,106 473.5,108.1 474.4,107.3 473.5,105.2ZM475.4,94.2 476.3,100.6 477.2,99.8 476.3,93.4ZM476.3,100.6 477.2,102.4 478.2,101.6 477.2,99.8ZM480.1,93.9 481,102.1 481.9,101.3 481,93.2ZM481,102.1 481.9,108.7 482.9,107.9 481.9,101.3ZM484.8,96.5 485.7,105.9 486.6,105.1 485.7,95.7ZM487.7,87.3 488.5,109.5 489.5,108.7 488.6,86.5ZM490.5,84.6 491.4,102.8 492.3,102 491.5,83.9ZM491.4,102.8 492.3,106.3 493.3,105.4 492.3,102ZM492.3,106.3 493.3,112.3 494.2,111.4 493.3,105.4ZM494.3,102.4 495.2,107.1 496.1,106.2 495.2,101.6ZM495.2,107.1 496.1,114.4 497,113.5 496.1,106.2ZM498.1,97.7 499,105.8 499.9,104.9 499,96.9ZM501,104.2 501.9,107.1 502.8,106.3 501.9,103.3ZM502.9,101.4 503.8,108.8 504.7,108 503.8,100.6ZM504.9,90.7 505.8,95.3 506.7,94.5 505.8,89.9ZM505.8,95.3 506.8,99.2 507.6,98.4 506.7,94.5ZM506.8,99.2 507.7,100.6 508.6,99.8 507.6,98.4ZM508.7,99.1 509.6,101.6 510.5,100.8 509.6,98.3ZM511.6,103 512.5,107 513.4,106.2 512.4,102.2ZM512.5,107 513.4,110 514.3,109.1 513.4,106.2ZM514.5,102 515.4,106.4 516.3,105.5 515.3,101.2ZM517.4,99.4 518.3,103.1 519.2,102.3 518.3,98.6ZM519.4,92.4 520.3,107 521.1,106.2 520.3,91.6ZM524.2,103.5 525.1,108.3 526,107.5 525,102.6Z" fill="#156d88" stroke="#156d88" stroke-width="1.3" stroke-linejoin="bevel"/>
<path d="M361.9,104.9 362.7,102.8 363.9,102 363.1,104.2ZM366.2,104.4 367,103.1 368.2,102.3 367.4,103.7ZM367.9,104.9 368.7,102.7 369.9,102 369.1,104.1ZM371.2,102.4 372.1,100.6 373.3,99.9 372.5,101.6ZM377.3,103.1 378.1,100.3 379.3,99.5 378.5,102.4ZM390.4,107.5 391.2,105.4 392.4,104.6 391.5,106.7ZM392.1,106.7 392.9,105.3 394.1,104.5 393.3,105.9ZM394.7,107.9 395.6,105.6 396.7,104.8 395.9,107.1ZM399.1,109.5 399.9,104.5 401.1,103.7 400.3,108.7ZM400.9,109.4 401.7,105.7 402.9,104.9 402,108.6ZM401.7,105.7 402.6,102.8 403.7,102 402.9,104.9ZM404.4,111.1 405.2,104.6 406.4,103.8 405.6,110.3ZM406.1,104.8 407,101.6 408.1,100.8 407.3,104ZM407,101.6 407.7,87.1 408.8,86.3 408.1,100.8ZM409.7,111.1 410.5,104.9 411.7,104.1 410.9,110.3ZM410.5,104.9 411.4,100.4 412.5,99.6 411.7,104.1ZM413.2,105.5 413.9,89.7 415,89 414.3,104.7ZM418.6,108.8 419.3,85.7 420.4,85 419.7,108ZM421.3,108.5 422.1,101.2 423.2,100.5 422.4,107.7ZM422.1,101.2 423,99.9 424.1,99.1 423.2,100.5ZM423.9,105.9 424.8,102.4 425.9,101.6 425,105.1ZM425.7,103.8 426.4,80.5 427.5,79.8 426.8,103ZM429.4,107.1 430.2,104.2 431.3,103.4 430.4,106.3ZM431.1,105.8 432,99.4 433.1,98.6 432.2,105ZM432.9,104.6 433.8,93.5 434.8,92.7 434,103.8ZM435.7,109.5 436.5,100.1 437.6,99.4 436.8,108.6ZM436.5,100.1 437.4,91.4 438.5,90.7 437.6,99.4ZM438.4,100.7 439.3,96.5 440.3,95.7 439.4,99.9ZM440.2,100.9 441.1,92.4 442.1,91.6 441.2,100.2ZM442.9,104.2 443.8,99 444.9,98.2 444,103.4ZM443.8,99 444.7,81.5 445.7,80.8 444.9,98.2ZM445.7,111.7 446.5,73.1 447.5,72.4 446.8,110.9ZM447.5,103.7 448.4,89.7 449.4,88.9 448.5,102.9ZM449.3,102.1 450.2,97.2 451.3,96.5 450.4,101.3ZM452.1,105.7 453,102.5 454,101.7 453.1,104.9ZM454.9,106.1 455.7,81.9 456.8,81.1 455.9,105.3ZM456.7,106.8 457.6,101.2 458.6,100.4 457.7,106ZM458.6,104.1 459.5,99 460.5,98.2 459.6,103.3ZM462.3,99.6 463.2,85.2 464.2,84.4 463.3,98.8ZM466.9,104.7 467.8,84.9 468.8,84.2 467.9,103.9ZM468.8,104.4 469.7,97.5 470.7,96.7 469.8,103.6ZM471.6,107.4 472.5,106 473.5,105.2 472.6,106.6ZM473.5,108.1 474.4,103.6 475.4,102.8 474.4,107.3ZM474.4,103.6 475.4,94.2 476.3,93.4 475.4,102.8ZM477.2,102.4 478.2,100.9 479.1,100.1 478.2,101.6ZM478.2,100.9 479.1,96.9 480.1,96.1 479.1,100.1ZM479.1,96.9 480.1,93.9 481,93.2 480.1,96.1ZM481.9,108.7 482.9,104.4 483.8,103.5 482.9,107.9ZM482.9,104.4 483.8,102.5 484.8,101.7 483.8,103.5ZM483.8,102.5 484.8,96.5 485.7,95.7 484.8,101.7ZM485.7,105.9 486.7,102.6 487.6,101.8 486.6,105.1ZM486.7,102.6 487.7,87.3 488.6,86.5 487.6,101.8ZM488.5,109.5 489.5,100.4 490.4,99.6 489.5,108.7ZM489.5,100.4 490.5,84.6 491.5,83.9 490.4,99.6ZM493.3,112.3 494.3,102.4 495.2,101.6 494.2,111.4ZM496.1,114.4 497.1,100.2 498.1,99.4 497,113.5ZM497.1,100.2 498.1,97.7 499,96.9 498.1,99.4ZM499,105.8 500,103.9 500.9,103.1 499.9,104.9ZM501.9,107.1 502.9,101.4 503.8,100.6 502.8,106.3ZM503.8,108.8 504.9,90.7 505.8,89.9 504.7,108ZM507.7,100.6 508.7,99.1 509.6,98.3 508.6,99.8ZM513.4,110 514.5,102 515.3,101.2 514.3,109.1ZM515.4,106.4 516.4,101.8 517.3,101 516.3,105.5ZM516.4,101.8 517.4,99.4 518.3,98.6 517.3,101ZM518.3,103.1 519.4,92.4 520.3,91.6 519.2,102.3ZM523.2,106.7 524.2,103.5 525,102.6 524,105.9Z" fill="#308daa" stroke="#308daa" stroke-width="1.3" stroke-linejoin="bevel"/>
<path d="M355.7,106.5 356.5,105.9 357.8,105.1 357,105.7ZM357.4,107.3 358.3,108 359.6,107.2 358.7,106.6ZM358.3,108 359.2,109 360.5,108.2 359.6,107.2ZM360,105.6 360.8,104.5 362.1,103.7 361.3,104.8ZM364.3,105.7 365.2,106.7 366.5,105.9 365.6,104.9ZM367.1,111.7 367.9,111.5 369.2,110.7 368.3,110.9ZM372.2,107 373.1,105.9 374.3,105.1 373.5,106.3ZM373.1,105.9 374,106.9 375.2,106.1 374.3,105.1ZM379.4,113 380.3,113.2 381.5,112.4 380.6,112.2ZM382,109.3 382.8,109.2 384,108.4 383.2,108.5ZM387.3,112.7 388.2,113.1 389.4,112.3 388.5,111.9ZM388.2,113.1 389.1,113.1 390.3,112.3 389.4,112.3ZM395.3,106.8 396.1,105.9 397.3,105.1 396.4,106ZM398.8,106.7 399.8,107.6 400.9,106.8 400,105.9ZM411.5,105.1 412.4,104.1 413.5,103.3 412.6,104.3ZM412.4,104.1 413.3,104.9 414.4,104.1 413.5,103.3ZM416,103.9 416.9,104.8 418,104 417.1,103.1ZM418.7,104.2 419.6,102.9 420.8,102.1 419.9,103.4ZM420.5,101.1 421.4,100.7 422.6,99.9 421.7,100.3ZM425.2,107.9 426.1,107.4 427.2,106.6 426.3,107.1ZM433.4,101.9 434.4,102.3 435.5,101.5 434.5,101.1ZM437.2,103.8 438.1,104.7 439.2,103.9 438.2,103ZM446.5,102.3 447.4,103.5 448.5,102.7 447.5,101.5ZM447.4,103.5 448.4,104.6 449.4,103.8 448.5,102.7ZM453,100.4 454,99.9 455,99.1 454.1,99.6ZM454,99.9 454.9,99.1 456,98.3 455,99.1ZM458.7,104 459.7,103.5 460.7,102.7 459.8,103.2ZM461.6,103.8 462.5,105.2 463.5,104.3 462.6,103ZM462.5,105.2 463.5,104.2 464.5,103.3 463.5,104.3ZM466.3,108 467.3,107.5 468.3,106.7 467.3,107.2ZM477.8,104.2 478.8,105.2 479.7,104.4 478.8,103.4ZM482.6,100.7 483.6,101.7 484.6,100.8 483.6,99.8ZM496.2,105.2 497.2,105.9 498.1,105.1 497.1,104.4ZM503,108.1 504,107.6 504.9,106.8 503.9,107.2ZM507,107.2 508,107.8 508.9,107 507.9,106.4ZM508,107.8 508.9,109.2 509.8,108.4 508.9,107Z" fill="#583e7d" stroke="#583e7d" stroke-width="1.3" stroke-linejoin="bevel"/>
<path d="M353,104.1 353.9,106.1 355.2,105.3 354.3,103.3ZM353.9,106.1 354.9,110.8 356.2,110 355.2,105.3ZM356.5,105.9 357.4,107.3 358.7,106.6 357.8,105.1ZM360.8,104.5 361.8,107.1 363,106.3 362.1,103.7ZM361.8,107.1 362.7,108.9 363.9,108.1 363,106.3ZM362.7,108.9 363.6,111.7 364.8,110.9 363.9,108.1ZM365.2,106.7 366.1,109.2 367.4,108.4 366.5,105.9ZM366.1,109.2 367.1,111.7 368.3,110.9 367.4,108.4ZM369.6,105.8 370.5,108.4 371.7,107.6 370.8,105ZM370.5,108.4 371.4,111.1 372.7,110.3 371.7,107.6ZM374,106.9 375,112.9 376.2,112.1 375.2,106.1ZM376.6,105.8 377.5,107.3 378.7,106.5 377.8,105ZM377.5,107.3 378.5,111.1 379.7,110.2 378.7,106.5ZM378.5,111.1 379.4,113 380.6,112.2 379.7,110.2ZM382.8,109.2 383.8,115 385,114.2 384,108.4ZM384.6,107.6 385.5,111.1 386.7,110.2 385.8,106.8ZM386.4,108.8 387.3,112.7 388.5,111.9 387.6,108ZM390,110.2 390.9,111.9 392.1,111.1 391.1,109.4ZM390.9,111.9 391.8,114.6 393,113.8 392.1,111.1ZM392.4,98 393.5,111 394.7,110.2 393.6,97.3ZM393.5,111 394.5,113.4 395.6,112.6 394.7,110.2ZM397,101.1 397.9,103.3 399.1,102.5 398.1,100.3ZM397.9,103.3 398.8,106.7 400,105.9 399.1,102.5ZM400.6,101.8 401.5,104.3 402.7,103.5 401.7,101ZM402.3,98.5 403.3,100.7 404.4,99.9 403.5,97.7ZM403.3,100.7 404.2,104.2 405.4,103.4 404.4,99.9ZM405.1,102.6 406,107 407.2,106.2 406.2,101.8ZM406,107 407,108.7 408.1,107.9 407.2,106.2ZM407.7,94.3 408.8,106.9 409.9,106.1 408.9,93.6ZM409.6,99.9 410.5,103.7 411.7,102.9 410.7,99.1ZM410.5,103.7 411.5,105.1 412.6,104.3 411.7,102.9ZM414.1,98.9 415.1,101 416.2,100.2 415.3,98.1ZM415.1,101 416,103.9 417.1,103.1 416.2,100.2ZM417.8,101.8 418.7,104.2 419.9,103.4 418.9,101ZM421.4,100.7 422.4,106.3 423.5,105.5 422.6,99.9ZM422.4,106.3 423.4,108.1 424.5,107.3 423.5,105.5ZM424.2,98.7 425.2,107.9 426.3,107.1 425.3,98ZM427,100.8 427.9,102.5 429,101.6 428.1,100ZM427.9,102.5 428.8,104.6 429.9,103.8 429,101.6ZM429.7,100.2 430.7,108.5 431.8,107.6 430.8,99.4ZM431.5,96.9 432.5,106.5 433.6,105.7 432.6,96.1ZM434.4,102.3 435.3,105.5 436.4,104.7 435.5,101.5ZM436.2,101.3 437.2,103.8 438.2,103 437.3,100.5ZM438.1,104.7 439,106.3 440.1,105.5 439.2,103.9ZM439.9,102.8 440.9,107 442,106.2 441,102ZM441.8,103.7 442.8,106.9 443.8,106.1 442.9,102.9ZM444.6,97.7 445.6,105.5 446.6,104.6 445.7,96.9ZM449.2,89.9 450.3,108.7 451.3,107.8 450.3,89.1ZM451.2,99.9 452.1,109.9 453.2,109.1 452.2,99.1ZM454.9,99.1 455.9,103 456.9,102.1 456,98.3ZM456.8,94.9 457.8,101.6 458.8,100.7 457.8,94.1ZM457.8,101.6 458.7,104 459.8,103.2 458.8,100.7ZM460.6,101.7 461.6,103.8 462.6,103 461.6,100.9ZM464.4,95.4 465.4,100.3 466.4,99.5 465.4,94.6ZM465.4,100.3 466.3,108 467.3,107.2 466.4,99.5ZM468.2,102.8 469.2,107.2 470.2,106.4 469.2,102ZM470.1,88.5 471.1,105.4 472.1,104.6 471.1,87.7ZM474,88.5 474.9,107.8 475.9,107 475,87.7ZM476.8,94.7 477.8,104.2 478.8,103.4 477.8,93.9ZM478.8,105.2 479.7,107.2 480.7,106.3 479.7,104.4ZM479.7,107.2 480.7,110.6 481.6,109.8 480.7,106.3ZM481.7,98.3 482.6,100.7 483.6,99.8 482.6,97.5ZM483.6,101.7 484.5,104.7 485.5,103.9 484.6,100.8ZM484.5,104.7 485.5,110.2 486.5,109.3 485.5,103.9ZM487.5,88.9 488.4,112.6 489.3,111.7 488.5,88.1ZM491.4,94.9 492.3,104.9 493.2,104 492.3,94ZM492.3,104.9 493.3,109.2 494.2,108.3 493.2,104ZM494.3,99.5 495.2,107.5 496.1,106.6 495.2,98.7ZM498.2,102.3 499.1,108 500,107.2 499.1,101.5ZM500.1,105.9 501.1,109.7 502,108.8 501,105.1ZM501.1,109.7 502,113.6 502.9,112.7 502,108.8ZM504,107.6 505,110.5 505.9,109.6 504.9,106.8ZM506.1,95.1 507,107.2 507.9,106.4 507,94.3ZM510,95.9 510.9,109 511.8,108.2 510.9,95.1ZM511.9,104.9 512.8,113.4 513.7,112.5 512.8,104ZM513.9,104 514.8,111.3 515.7,110.5 514.8,103.1ZM514.8,111.3 515.8,112.9 516.7,112 515.7,110.5ZM516.9,100.6 517.8,112 518.7,111.1 517.8,99.7ZM517.8,112 518.8,114.2 519.6,113.3 518.7,111.1ZM518.8,114.2 519.8,116 520.6,115.2 519.6,113.3Z" fill="#4b356a" stroke="#4b356a" stroke-width="1.3" stroke-linejoin="bevel"/>
<path d="M354.9,110.8 355.7,106.5 357,105.7 356.2,110ZM359.2,109 360,105.6 361.3,104.8 360.5,108.2ZM363.6,111.7 364.3,105.7 365.6,104.9 364.8,110.9ZM367.9,111.5 368.8,109.1 370,108.3 369.2,110.7ZM368.8,109.1 369.6,105.8 370.8,105 370,108.3ZM371.4,111.1 372.2,107 373.5,106.3 372.7,110.3ZM375,112.9 375.8,110.4 377,109.6 376.2,112.1ZM375.8,110.4 376.6,105.8 377.8,105 377,109.6ZM380.3,113.2 381.1,111.7 382.3,110.9 381.5,112.4ZM381.1,111.7 382,109.3 383.2,108.5 382.3,110.9ZM383.8,115 384.6,107.6 385.8,106.8 385,114.2ZM385.5,111.1 386.4,108.8 387.6,108 386.7,110.2ZM389.1,113.1 390,110.2 391.1,109.4 390.3,112.3ZM391.8,114.6 392.4,98 393.6,97.3 393,113.8ZM394.5,113.4 395.3,106.8 396.4,106 395.6,112.6ZM396.1,105.9 397,101.1 398.1,100.3 397.3,105.1ZM399.8,107.6 400.6,101.8 401.7,101 400.9,106.8ZM401.5,104.3 402.3,98.5 403.5,97.7 402.7,103.5ZM404.2,104.2 405.1,102.6 406.2,101.8 405.4,103.4ZM407,108.7 407.7,94.3 408.9,93.6 408.1,107.9ZM408.8,106.9 409.6,99.9 410.7,99.1 409.9,106.1ZM413.3,104.9 414.1,98.9 415.3,98.1 414.4,104.1ZM416.9,104.8 417.8,101.8 418.9,101 418,104ZM419.6,102.9 420.5,101.1 421.7,100.3 420.8,102.1ZM423.4,108.1 424.2,98.7 425.3,98 424.5,107.3ZM426.1,107.4 427,100.8 428.1,100 427.2,106.6ZM428.8,104.6 429.7,100.2 430.8,99.4 429.9,103.8ZM430.7,108.5 431.5,96.9 432.6,96.1 431.8,107.6ZM432.5,106.5 433.4,101.9 434.5,101.1 433.6,105.7ZM435.3,105.5 436.2,101.3 437.3,100.5 436.4,104.7ZM439,106.3 439.9,102.8 441,102 440.1,105.5ZM440.9,107 441.8,103.7 442.9,102.9 442,106.2ZM442.8,106.9 443.7,105.4 444.8,104.6 443.8,106.1ZM443.7,105.4 444.6,97.7 445.7,96.9 444.8,104.6ZM445.6,105.5 446.5,102.3 447.5,101.5 446.6,104.6ZM448.4,104.6 449.2,89.9 450.3,89.1 449.4,103.8ZM450.3,108.7 451.2,99.9 452.2,99.1 451.3,107.8ZM452.1,109.9 453,100.4 454.1,99.6 453.2,109.1ZM455.9,103 456.8,94.9 457.8,94.1 456.9,102.1ZM459.7,103.5 460.6,101.7 461.6,100.9 460.7,102.7ZM463.5,104.2 464.4,95.4 465.4,94.6 464.5,103.3ZM467.3,107.5 468.2,102.8 469.2,102 468.3,106.7ZM469.2,107.2 470.1,88.5 471.1,87.7 470.2,106.4ZM471.1,105.4 472,103.7 473,102.8 472.1,104.6ZM472,103.7 473,102 474,101.2 473,102.8ZM473,102 474,88.5 475,87.7 474,101.2ZM474.9,107.8 475.9,105.9 476.9,105 475.9,107ZM475.9,105.9 476.8,94.7 477.8,93.9 476.9,105ZM480.7,110.6 481.7,98.3 482.6,97.5 481.6,109.8ZM485.5,110.2 486.5,108.4 487.4,107.5 486.5,109.3ZM486.5,108.4 487.5,88.9 488.5,88.1 487.4,107.5ZM488.4,112.6 489.4,110.3 490.3,109.4 489.3,111.7ZM489.4,110.3 490.4,105.8 491.3,104.9 490.3,109.4ZM490.4,105.8 491.4,94.9 492.3,94 491.3,104.9ZM493.3,109.2 494.3,99.5 495.2,98.7 494.2,108.3ZM495.2,107.5 496.2,105.2 497.1,104.4 496.1,106.6ZM497.2,105.9 498.2,102.3 499.1,101.5 498.1,105.1ZM499.1,108 500.1,105.9 501,105.1 500,107.2ZM502,113.6 503,108.1 503.9,107.2 502.9,112.7ZM505,110.5 506.1,95.1 507,94.3 505.9,109.6ZM508.9,109.2 510,95.9 510.9,95.1 509.8,108.4ZM510.9,109 511.9,104.9 512.8,104 511.8,108.2ZM512.8,113.4 513.9,104 514.8,103.1 513.7,112.5ZM515.8,112.9 516.9,100.6 517.8,99.7 516.7,112Z" fill="#69518a" stroke="#69518a" stroke-width="1.3" stroke-linejoin="bevel"/>
<path d="M345.9,117.8 346.8,118.1 348.1,117.3 347.3,117ZM346.8,118.1 347.7,117.7 349,116.9 348.1,117.3ZM347.7,117.7 348.6,118.3 349.9,117.5 349,116.9ZM349.4,116.4 350.3,116.9 351.6,116.1 350.7,115.6ZM350.3,116.9 351.2,117.1 352.5,116.3 351.6,116.1ZM351.2,117.1 352,116.6 353.4,115.7 352.5,116.3ZM353,118.2 353.9,118.8 355.2,118 354.3,117.4ZM353.9,118.8 354.7,117.5 356,116.7 355.2,118ZM354.7,117.5 355.6,117.6 356.9,116.8 356,116.7ZM355.6,117.6 356.5,118.6 357.8,117.8 356.9,116.8ZM356.5,118.6 357.4,117.5 358.7,116.7 357.8,117.8ZM357.4,117.5 358.2,116.8 359.5,115.9 358.7,116.7ZM359.1,118.6 360,118 361.3,117.1 360.4,117.7ZM360,118 360.9,117.9 362.2,117.1 361.3,117.1ZM360.9,117.9 361.8,117.8 363.1,117 362.2,117.1ZM361.8,117.8 362.7,117.4 363.9,116.5 363.1,117ZM362.7,117.4 363.6,117.8 364.8,117 363.9,116.5ZM363.6,117.8 364.4,117.1 365.7,116.3 364.8,117ZM364.4,117.1 365.3,118 366.6,117.1 365.7,116.3ZM367.9,113.2 368.8,112.9 370.1,112 369.2,112.3ZM379.5,108.4 380.4,109.2 381.6,108.4 380.7,107.6ZM380.4,109.2 381.3,107.9 382.5,107.1 381.6,108.4ZM393.1,105.9 394,105.1 395.2,104.3 394.3,105.1ZM395.8,103.2 396.7,104.4 397.9,103.6 397,102.4ZM402.3,110.3 403.2,110.8 404.4,110 403.5,109.5ZM409.7,107.5 410.6,107.8 411.8,106.9 410.8,106.7ZM421.8,108.3 422.7,109.4 423.9,108.5 422.9,107.5ZM422.7,109.4 423.7,110.6 424.8,109.8 423.9,108.5ZM432.1,108.6 433.1,109 434.2,108.1 433.2,107.8ZM442.6,113.9 443.5,113.5 444.6,112.6 443.7,113ZM454.1,109.4 455,110.3 456.1,109.5 455.1,108.6ZM464.7,111.6 465.7,111.7 466.7,110.8 465.7,110.7ZM471.5,117.5 472.5,116.5 473.5,115.6 472.5,116.6ZM478.4,109.4 479.4,110.1 480.4,109.2 479.4,108.6ZM482.3,113.8 483.3,114.5 484.3,113.6 483.3,112.9ZM491.2,116.8 492.2,115.4 493.2,114.5 492.2,115.9ZM508,137.9 509,137 509.9,136.1 508.9,137ZM513.1,133.4 514.1,134 515,133 514,132.5Z" fill="#72912d" stroke="#72912d" stroke-width="1.3" stroke-linejoin="bevel"/>
<path d="M345,116 345.9,117.8 347.3,117 346.3,115.2ZM352,116.6 353,118.2 354.3,117.4 353.4,115.7ZM358.2,116.8 359.1,118.6 360.4,117.7 359.5,115.9ZM367,111 367.9,113.2 369.2,112.3 368.3,110.2ZM370.5,108.3 371.4,110.6 372.7,109.8 371.8,107.5ZM373.1,103.2 374.2,114.3 375.5,113.5 374.3,102.4ZM374.2,114.3 375.1,116.1 376.4,115.2 375.5,113.5ZM375.8,105.4 376.8,110.8 378.1,109.9 377.1,104.6ZM378.4,97.8 379.5,108.4 380.7,107.6 379.6,97ZM382.1,102.2 383.1,108.2 384.3,107.4 383.3,101.4ZM383.1,108.2 384.1,111.3 385.3,110.4 384.3,107.4ZM384.9,105.2 385.9,115.3 387.2,114.5 386.1,104.4ZM386.5,94.4 387.6,108 388.9,107.1 387.7,93.6ZM388.5,103.8 389.4,107.9 390.7,107 389.7,103ZM390,88.4 391.3,111.9 392.6,111.1 391.3,87.6ZM394.7,94.4 395.8,103.2 397,102.4 395.9,93.6ZM396.7,104.4 397.7,111.3 398.9,110.5 397.9,103.6ZM398.3,85 399.6,113 400.8,112.1 399.5,84.3ZM400.9,79.1 402.3,110.3 403.5,109.5 402.1,78.3ZM404.1,107.1 405.1,111.6 406.3,110.7 405.3,106.3ZM405.1,111.6 406.1,117.1 407.3,116.2 406.3,110.7ZM406.6,86.4 407.8,106 409,105.2 407.8,85.7ZM407.8,106 408.8,112.7 410,111.9 409,105.2ZM410.6,107.8 411.5,109.9 412.7,109.1 411.8,106.9ZM412.9,63.5 414.3,109.9 415.5,109 414,62.8ZM415.2,104.8 416.2,110.5 417.4,109.6 416.4,103.9ZM416.2,110.5 417.2,114.2 418.3,113.3 417.4,109.6ZM417.7,76 419,115.2 420.2,114.4 418.9,75.2ZM419.9,104.5 420.9,110.2 422,109.3 421,103.7ZM424.3,75 425.6,111.1 426.7,110.2 425.4,74.3ZM425.6,111.1 426.5,113.8 427.6,112.9 426.7,110.2ZM427.4,110.8 428.4,117.2 429.6,116.4 428.6,109.9ZM429.3,111.6 430.3,117.5 431.4,116.6 430.4,110.7ZM433.6,51.2 435.1,121.1 436.2,120.2 434.7,50.5ZM436.9,106.9 437.8,113.8 438.9,113 438,106.1ZM438.8,109.7 439.7,114.1 440.8,113.3 439.9,108.9ZM440.5,80.8 441.7,119.5 442.8,118.6 441.6,80ZM445.3,78 446.4,111.8 447.5,110.9 446.4,77.2ZM446.4,111.8 447.4,120.7 448.5,119.8 447.5,110.9ZM448.3,105.3 449.3,111.9 450.4,111 449.4,104.5ZM449.3,111.9 450.2,115 451.3,114.1 450.4,111ZM452.1,84.5 453.1,111.7 454.2,110.8 453.1,83.7ZM455,110.3 456,112.3 457.1,111.4 456.1,109.5ZM456.9,94.7 457.9,117 459,116.1 458,93.9ZM458.9,112.2 459.9,118.2 460.9,117.3 460,111.4ZM461.8,97.8 462.8,113.7 463.8,112.8 462.8,97ZM462.8,113.7 463.8,120.8 464.8,119.9 463.8,112.8ZM465.7,111.7 466.7,118 467.7,117.1 466.7,110.8ZM468.6,84.4 469.6,111.8 470.6,110.9 469.6,83.6ZM469.6,111.8 470.6,115.8 471.6,114.9 470.6,110.9ZM470.6,115.8 471.5,117.5 472.5,116.6 471.6,114.9ZM472.5,116.5 473.5,118.2 474.5,117.4 473.5,115.6ZM474.5,96.5 475.4,108.2 476.5,107.3 475.5,95.6ZM475.4,108.2 476.4,122.4 477.4,121.5 476.5,107.3ZM481.4,93.4 482.3,113.8 483.3,112.9 482.4,92.5ZM484.3,110.6 485.3,114.1 486.3,113.2 485.3,109.7ZM486.4,83.2 487.2,115.4 488.2,114.5 487.4,82.4ZM487.2,115.4 488.2,122.5 489.2,121.6 488.2,114.5ZM489.2,113.1 490.2,115 491.2,114.1 490.2,112.2ZM490.2,115 491.2,116.8 492.2,115.9 491.2,114.1ZM492.2,115.4 493.2,122.8 494.1,121.9 493.2,114.5ZM494.3,94.2 495.2,118.8 496.1,117.9 495.3,93.4ZM497.6,39 498.2,116.3 499.1,115.4 498.6,38.3ZM499.3,102.3 500.1,127.5 501,126.6 500.2,101.4ZM500.1,127.5 501.1,132.4 502,131.4 501,126.6ZM502.1,129.1 503,136.6 504,135.6 503,128.2ZM505.1,131 506,135.4 507,134.4 506,130.1ZM507.1,126.4 508,137.9 508.9,137 508,125.5ZM509,137 510,139.1 510.9,138.1 509.9,136.1ZM511.1,132.1 512.1,136.9 513,135.9 512,131.2Z" fill="#617b26" stroke="#617b26" stroke-width="1.3" stroke-linejoin="bevel"/>
<path d="M348.6,118.3 349.4,116.4 350.7,115.6 349.9,117.5ZM365.3,118 366.2,116.1 367.5,115.2 366.6,117.1ZM366.2,116.1 367,111 368.3,110.2 367.5,115.2ZM368.8,112.9 369.6,110.4 370.9,109.6 370.1,112ZM369.6,110.4 370.5,108.3 371.8,107.5 370.9,109.6ZM371.4,110.6 372.2,106.1 373.5,105.2 372.7,109.8ZM372.2,106.1 373.1,103.2 374.3,102.4 373.5,105.2ZM375.1,116.1 375.8,105.4 377.1,104.6 376.4,115.2ZM376.8,110.8 377.6,102.8 378.8,102 378.1,109.9ZM377.6,102.8 378.4,97.8 379.6,97 378.8,102ZM381.3,107.9 382.1,102.2 383.3,101.4 382.5,107.1ZM384.1,111.3 384.9,105.2 386.1,104.4 385.3,110.4ZM385.9,115.3 386.5,94.4 387.7,93.6 387.2,114.5ZM387.6,108 388.5,103.8 389.7,103 388.9,107.1ZM389.4,107.9 390,88.4 391.3,87.6 390.7,107ZM391.3,111.9 392.2,108 393.4,107.2 392.6,111.1ZM392.2,108 393.1,105.9 394.3,105.1 393.4,107.2ZM394,105.1 394.7,94.4 395.9,93.6 395.2,104.3ZM397.7,111.3 398.3,85 399.5,84.3 398.9,110.5ZM399.6,113 400.4,108.9 401.6,108.1 400.8,112.1ZM400.4,108.9 400.9,79.1 402.1,78.3 401.6,108.1ZM403.2,110.8 404.1,107.1 405.3,106.3 404.4,110ZM406.1,117.1 406.6,86.4 407.8,85.7 407.3,116.2ZM408.8,112.7 409.7,107.5 410.8,106.7 410,111.9ZM411.5,109.9 412.4,108.5 413.6,107.7 412.7,109.1ZM412.4,108.5 412.9,63.5 414,62.8 413.6,107.7ZM414.3,109.9 415.2,104.8 416.4,103.9 415.5,109ZM417.2,114.2 417.7,76 418.9,75.2 418.3,113.3ZM419,115.2 419.9,104.5 421,103.7 420.2,114.4ZM420.9,110.2 421.8,108.3 422.9,107.5 422,109.3ZM423.7,110.6 424.3,75 425.4,74.3 424.8,109.8ZM426.5,113.8 427.4,110.8 428.6,109.9 427.6,112.9ZM428.4,117.2 429.3,111.6 430.4,110.7 429.6,116.4ZM430.3,117.5 431.2,111.1 432.3,110.2 431.4,116.6ZM431.2,111.1 432.1,108.6 433.2,107.8 432.3,110.2ZM433.1,109 433.6,51.2 434.7,50.5 434.2,108.1ZM435.1,121.1 435.9,113.2 437.1,112.3 436.2,120.2ZM435.9,113.2 436.9,106.9 438,106.1 437.1,112.3ZM437.8,113.8 438.8,109.7 439.9,108.9 438.9,113ZM439.7,114.1 440.5,80.8 441.6,80 440.8,113.3ZM441.7,119.5 442.6,113.9 443.7,113 442.8,118.6ZM443.5,113.5 444.5,110.3 445.6,109.5 444.6,112.6ZM444.5,110.3 445.3,78 446.4,77.2 445.6,109.5ZM447.4,120.7 448.3,105.3 449.4,104.5 448.5,119.8ZM450.2,115 451.2,107.8 452.3,106.9 451.3,114.1ZM451.2,107.8 452.1,84.5 453.1,83.7 452.3,106.9ZM453.1,111.7 454.1,109.4 455.1,108.6 454.2,110.8ZM456,112.3 456.9,94.7 458,93.9 457.1,111.4ZM457.9,117 458.9,112.2 460,111.4 459,116.1ZM459.9,118.2 460.8,109.7 461.9,108.9 460.9,117.3ZM460.8,109.7 461.8,97.8 462.8,97 461.9,108.9ZM463.8,120.8 464.7,111.6 465.7,110.7 464.8,119.9ZM466.7,118 467.6,115.7 468.7,114.8 467.7,117.1ZM467.6,115.7 468.6,84.4 469.6,83.6 468.7,114.8ZM473.5,118.2 474.5,96.5 475.5,95.6 474.5,117.4ZM476.4,122.4 477.4,116.5 478.4,115.6 477.4,121.5ZM477.4,116.5 478.4,109.4 479.4,108.6 478.4,115.6ZM479.4,110.1 480.4,108.1 481.4,107.3 480.4,109.2ZM480.4,108.1 481.4,93.4 482.4,92.5 481.4,107.3ZM483.3,114.5 484.3,110.6 485.3,109.7 484.3,113.6ZM485.3,114.1 486.4,83.2 487.4,82.4 486.3,113.2ZM488.2,122.5 489.2,113.1 490.2,112.2 489.2,121.6ZM493.2,122.8 494.3,94.2 495.3,93.4 494.1,121.9ZM495.2,118.8 496.2,116.4 497.1,115.5 496.1,117.9ZM496.2,116.4 497.6,39 498.6,38.3 497.1,115.5ZM498.2,116.3 499.3,102.3 500.2,101.4 499.1,115.4ZM501.1,132.4 502.1,129.1 503,128.2 502,131.4ZM503,136.6 504.1,134.3 505,133.4 504,135.6ZM504.1,134.3 505.1,131 506,130.1 505,133.4ZM506,135.4 507.1,126.4 508,125.5 507,134.4ZM510,139.1 511.1,132.1 512,131.2 510.9,138.1ZM512.1,136.9 513.1,133.4 514,132.5 513,135.9Z" fill="#809c42" stroke="#809c42" stroke-width="1.3" stroke-linejoin="bevel"/>
<path d="M337.5,124.8 338.4,125.7 339.8,124.8 338.9,124ZM338.4,125.7 339.3,124.9 340.7,124.1 339.8,124.8ZM340.1,122.5 341.1,123.8 342.4,123 341.5,121.7ZM341.1,123.8 342,124.3 343.3,123.4 342.4,123ZM342,124.3 342.8,123.8 344.2,123 343.3,123.4ZM342.8,123.8 343.7,123.7 345.1,122.8 344.2,123ZM343.7,123.7 344.6,123 346,122.1 345.1,122.8ZM344.6,123 345.5,123.8 346.9,122.9 346,122.1ZM345.5,123.8 346.4,122.6 347.7,121.7 346.9,122.9ZM347.3,124.3 348.2,123.8 349.5,122.9 348.7,123.4ZM348.2,123.8 349.1,124.2 350.4,123.3 349.5,122.9ZM349.1,124.2 350,123.6 351.3,122.7 350.4,123.3ZM351.8,125.1 352.7,124.9 354,124.1 353.2,124.2ZM352.7,124.9 353.6,124.1 354.9,123.2 354,124.1ZM354.4,122.3 355.4,123.1 356.7,122.2 355.8,121.5ZM355.4,123.1 356.3,124.1 357.6,123.2 356.7,122.2ZM356.3,124.1 357.2,123.2 358.5,122.3 357.6,123.2ZM357.2,123.2 358.1,124.6 359.4,123.7 358.5,122.3ZM358.1,124.6 359,124.3 360.3,123.4 359.4,123.7ZM359,124.3 359.9,123.8 361.2,123 360.3,123.4ZM359.9,123.8 360.8,122.6 362.1,121.7 361.2,123ZM360.8,122.6 361.7,123.3 363,122.4 362.1,121.7ZM361.7,123.3 362.6,122.9 363.9,122 363,122.4ZM362.6,122.9 363.5,121.7 364.8,120.8 363.9,122ZM368.1,124.1 369,124.3 370.3,123.4 369.4,123.2ZM371.6,116.5 372.5,116.4 373.8,115.5 372.9,115.6ZM378,118.8 379,119.9 380.3,119.1 379.3,117.9ZM388.2,118 389.1,117.5 390.4,116.6 389.4,117.2ZM389.1,117.5 390,116.7 391.3,115.8 390.4,116.6ZM390,116.7 391,116.8 392.2,115.9 391.3,115.8ZM397.5,118.7 398.5,119.4 399.7,118.5 398.8,117.8ZM404.2,122.3 405.1,122.9 406.3,122 405.4,121.4ZM405.1,122.9 406,121.6 407.2,120.7 406.3,122ZM413.6,122.3 414.6,122.3 415.7,121.4 414.8,121.4ZM414.6,122.3 415.5,121.6 416.7,120.7 415.7,121.4ZM424.1,123 425,121.9 426.2,121.1 425.3,122.1ZM428,127.2 428.9,126.9 430.1,126 429.1,126.3ZM435.7,127.2 436.6,126.9 437.8,126 436.8,126.3ZM440.5,129.3 441.5,129.1 442.6,128.2 441.6,128.4ZM441.5,129.1 442.5,129.9 443.6,129 442.6,128.2ZM447.4,134.1 448.3,135.5 449.4,134.5 448.5,133.2ZM449.3,132.6 450.3,133.1 451.4,132.2 450.4,131.7ZM451.3,136.7 452.3,136.6 453.3,135.6 452.4,135.8ZM455.2,135.8 456.2,135.8 457.2,134.8 456.3,134.8ZM459.1,133.5 460.1,133.9 461.2,133 460.2,132.6ZM460.1,133.9 461.1,135 462.2,134 461.2,133ZM464.1,137 465,136.2 466.1,135.3 465.1,136ZM465,136.2 466,135.9 467.1,134.9 466.1,135.3ZM467,119.9 468,119.9 469.1,119 468.1,119ZM473,130.9 474,132 475,131.1 474,130ZM474,132 475,131.1 476,130.2 475,131.1ZM482,111.7 483.1,111.6 484.1,110.7 483.1,110.8ZM486,130 487,131.2 488,130.2 487,129.1ZM497.1,139.3 498.1,139.1 499.1,138.1 498.1,138.3ZM498.1,139.1 499.1,140.4 500.1,139.4 499.1,138.1ZM501.2,142.1 502.2,141.6 503.1,140.6 502.1,141.1ZM502.2,141.6 503.2,140.3 504.2,139.3 503.1,140.6ZM504.2,142.4 505.2,143 506.2,142 505.2,141.4Z" fill="#962624" stroke="#962624" stroke-width="1.3" stroke-linejoin="bevel"/>
<path d="M336.6,122.5 337.5,124.8 338.9,124 338,121.7ZM346.4,122.6 347.3,124.3 348.7,123.4 347.7,121.7ZM350.8,121.6 351.8,125.1 353.2,124.2 352.2,120.8ZM363.5,121.7 364.4,123.3 365.7,122.4 364.8,120.8ZM365.3,121.5 366.2,123.7 367.5,122.9 366.6,120.6ZM367.1,120.6 368.1,124.1 369.4,123.2 368.4,119.7ZM372.5,116.4 373.5,122.2 374.8,121.3 373.8,115.5ZM373.5,122.2 374.5,127.2 375.8,126.3 374.8,121.3ZM375.2,112.6 376.2,119.7 377.5,118.8 376.4,111.7ZM377,114.7 378,118.8 379.3,117.9 378.3,113.9ZM379.8,117.1 380.8,120.9 382.1,120 381.1,116.3ZM380.8,120.9 381.8,123.2 383.1,122.4 382.1,120ZM382.6,115.6 383.6,119.8 384.9,118.9 383.9,114.7ZM384.4,112.8 385.4,117.5 386.7,116.6 385.7,112ZM385.4,117.5 386.4,122.3 387.7,121.4 386.7,116.6ZM387.2,114.7 388.2,118 389.4,117.2 388.5,113.9ZM391,116.8 392,120.6 393.2,119.7 392.2,115.9ZM393.8,117 394.7,119.7 396,118.8 395,116.2ZM395.7,118.1 396.6,121.1 397.9,120.2 396.9,117.2ZM399.4,116.5 400.3,118.6 401.6,117.7 400.6,115.6ZM401.2,116 402.2,119.6 403.5,118.8 402.5,115.1ZM403.1,116.4 404.2,122.3 405.4,121.4 404.4,115.6ZM406,121.6 407,124.6 408.2,123.7 407.2,120.7ZM408.8,119.9 409.8,122.5 411,121.6 410,119ZM410.7,115 411.7,124.3 412.9,123.4 411.9,114.2ZM412.6,119.7 413.6,122.3 414.8,121.4 413.8,118.8ZM416.4,120.1 417.4,125.2 418.6,124.3 417.6,119.2ZM418.2,108.2 419.3,124.1 420.5,123.2 419.4,107.4ZM420.2,117.8 421.2,122.2 422.4,121.3 421.4,116.9ZM422.1,117 423.2,126.6 424.3,125.7 423.3,116.1ZM426.9,118.3 428,127.2 429.1,126.3 428.1,117.4ZM430.7,112.7 431.8,120.5 432.9,119.7 431.9,111.8ZM432.6,105.3 433.7,123.4 434.9,122.5 433.8,104.5ZM433.7,123.4 434.7,125.4 435.8,124.5 434.9,122.5ZM434.7,125.4 435.7,127.2 436.8,126.3 435.8,124.5ZM437.6,118.5 438.6,129.6 439.7,128.7 438.7,117.6ZM439.6,127.8 440.5,129.3 441.6,128.4 440.7,126.9ZM444.4,117.9 445.4,131.7 446.5,130.8 445.5,117ZM446.3,112.2 447.4,134.1 448.5,133.2 447.4,111.3ZM450.3,133.1 451.3,136.7 452.4,135.8 451.4,132.2ZM453.2,119.9 454.2,131.9 455.3,130.9 454.3,119ZM454.2,131.9 455.2,135.8 456.3,134.8 455.3,130.9ZM458.1,121.4 459.1,133.5 460.2,132.6 459.2,120.5ZM462.1,129.9 463.1,133.3 464.1,132.4 463.1,128.9ZM463.1,133.3 464.1,137 465.1,136 464.1,132.4ZM468,119.9 469,130.8 470,129.8 469.1,119ZM469,130.8 470,135 471,134.1 470,129.8ZM471,131.1 472,135.9 473,135 472,130.1ZM476,117.2 477,133.9 478,132.9 477,116.3ZM479,128 480,130.6 481,129.6 480,127.1ZM483.1,111.6 484,131.1 485,130.2 484.1,110.7ZM485,127.2 486,130 487,129.1 486,126.2ZM489.1,114.8 490.1,130.9 491,129.9 490.1,113.9ZM491.2,103.3 492.1,132.3 493.1,131.4 492.2,102.4ZM493.1,128.3 494.1,132.5 495.1,131.5 494.1,127.3ZM494.1,132.5 495.1,134.6 496.1,133.6 495.1,131.5ZM495.1,134.6 496.1,142.3 497.1,141.4 496.1,133.6ZM499.1,140.4 500.1,144.6 501.1,143.6 500.1,139.4ZM503.2,140.3 504.2,142.4 505.2,141.4 504.2,139.3ZM506.3,138.8 507.3,142.5 508.2,141.5 507.2,137.9Z" fill="#80201f" stroke="#80201f" stroke-width="1.3" stroke-linejoin="bevel"/>
<path d="M339.3,124.9 340.1,122.5 341.5,121.7 340.7,124.1ZM350,123.6 350.8,121.6 352.2,120.8 351.3,122.7ZM353.6,124.1 354.4,122.3 355.8,121.5 354.9,123.2ZM364.4,123.3 365.3,121.5 366.6,120.6 365.7,122.4ZM366.2,123.7 367.1,120.6 368.4,119.7 367.5,122.9ZM369,124.3 369.8,119.3 371.1,118.5 370.3,123.4ZM369.8,119.3 370.7,117.9 372,117 371.1,118.5ZM370.7,117.9 371.6,116.5 372.9,115.6 372,117ZM374.5,127.2 375.2,112.6 376.4,111.7 375.8,126.3ZM376.2,119.7 377,114.7 378.3,113.9 377.5,118.8ZM379,119.9 379.8,117.1 381.1,116.3 380.3,119.1ZM381.8,123.2 382.6,115.6 383.9,114.7 383.1,122.4ZM383.6,119.8 384.4,112.8 385.7,112 384.9,118.9ZM386.4,122.3 387.2,114.7 388.5,113.9 387.7,121.4ZM392,120.6 392.9,118.7 394.1,117.8 393.2,119.7ZM392.9,118.7 393.8,117 395,116.2 394.1,117.8ZM394.7,119.7 395.7,118.1 396.9,117.2 396,118.8ZM396.6,121.1 397.5,118.7 398.8,117.8 397.9,120.2ZM398.5,119.4 399.4,116.5 400.6,115.6 399.7,118.5ZM400.3,118.6 401.2,116 402.5,115.1 401.6,117.7ZM402.2,119.6 403.1,116.4 404.4,115.6 403.5,118.8ZM407,124.6 407.9,122.1 409.1,121.2 408.2,123.7ZM407.9,122.1 408.8,119.9 410,119 409.1,121.2ZM409.8,122.5 410.7,115 411.9,114.2 411,121.6ZM411.7,124.3 412.6,119.7 413.8,118.8 412.9,123.4ZM415.5,121.6 416.4,120.1 417.6,119.2 416.7,120.7ZM417.4,125.2 418.2,108.2 419.4,107.4 418.6,124.3ZM419.3,124.1 420.2,117.8 421.4,116.9 420.5,123.2ZM421.2,122.2 422.1,117 423.3,116.1 422.4,121.3ZM423.2,126.6 424.1,123 425.3,122.1 424.3,125.7ZM425,121.9 426,119.9 427.1,119 426.2,121.1ZM426,119.9 426.9,118.3 428.1,117.4 427.1,119ZM428.9,126.9 429.9,125 431,124.1 430.1,126ZM429.9,125 430.7,112.7 431.9,111.8 431,124.1ZM431.8,120.5 432.6,105.3 433.8,104.5 432.9,119.7ZM436.6,126.9 437.6,118.5 438.7,117.6 437.8,126ZM438.6,129.6 439.6,127.8 440.7,126.9 439.7,128.7ZM442.5,129.9 443.4,128.2 444.5,127.2 443.6,129ZM443.4,128.2 444.4,117.9 445.5,117 444.5,127.2ZM445.4,131.7 446.3,112.2 447.4,111.3 446.5,130.8ZM448.3,135.5 449.3,132.6 450.4,131.7 449.4,134.5ZM452.3,136.6 453.2,119.9 454.3,119 453.3,135.6ZM456.2,135.8 457.1,132.1 458.2,131.2 457.2,134.8ZM457.1,132.1 458.1,121.4 459.2,120.5 458.2,131.2ZM461.1,135 462.1,129.9 463.1,128.9 462.2,134ZM466,135.9 467,119.9 468.1,119 467.1,134.9ZM470,135 471,131.1 472,130.1 471,134.1ZM472,135.9 473,130.9 474,130 473,135ZM475,131.1 476,117.2 477,116.3 476,130.2ZM477,133.9 478,132.1 479,131.1 478,132.9ZM478,132.1 479,128 480,127.1 479,131.1ZM480,130.6 481,129 482,128.1 481,129.6ZM481,129 482,111.7 483.1,110.8 482,128.1ZM484,131.1 485,127.2 486,126.2 485,130.2ZM487,131.2 488.1,127.5 489,126.5 488,130.2ZM488.1,127.5 489.1,114.8 490.1,113.9 489,126.5ZM490.1,130.9 491.2,103.3 492.2,102.4 491,129.9ZM492.1,132.3 493.1,128.3 494.1,127.3 493.1,131.4ZM496.1,142.3 497.1,139.3 498.1,138.3 497.1,141.4ZM500.1,144.6 501.2,142.1 502.1,141.1 501.1,143.6ZM505.2,143 506.3,138.8 507.2,137.9 506.2,142ZM507.3,142.5 508.3,140.6 509.3,139.6 508.2,141.5Z" fill="#a03c3a" stroke="#a03c3a" stroke-width="1.3" stroke-linejoin="bevel"/>
<path d="M327.8,129.1 328.7,129.7 330.2,128.8 329.3,128.2ZM328.7,129.7 329.6,129.8 331.1,128.9 330.2,128.8ZM329.6,129.8 330.5,129.3 332,128.4 331.1,128.9ZM330.5,129.3 331.4,128.9 332.8,128 332,128.4ZM331.4,128.9 332.3,129.4 333.8,128.5 332.8,128ZM332.3,129.4 333.3,130 334.7,129.1 333.8,128.5ZM333.3,130 334.2,131 335.6,130.1 334.7,129.1ZM334.2,131 335.1,130.6 336.5,129.7 335.6,130.1ZM335.1,130.6 336,130.5 337.4,129.6 336.5,129.7ZM338.7,129.9 339.6,130.8 341,129.9 340.1,129ZM339.6,130.8 340.5,130.1 341.9,129.2 341,129.9ZM341.5,132.1 342.3,130.8 343.7,129.9 342.9,131.2ZM342.3,130.8 343.2,130.3 344.6,129.4 343.7,129.9ZM343.2,130.3 344.2,130.8 345.6,129.9 344.6,129.4ZM344.2,130.8 345.1,130.1 346.4,129.2 345.6,129.9ZM345.1,130.1 346,130.6 347.4,129.7 346.4,129.2ZM346,130.6 346.9,130.9 348.3,129.9 347.4,129.7ZM346.9,130.9 347.9,132.3 349.2,131.3 348.3,129.9ZM347.9,132.3 348.8,131.6 350.1,130.7 349.2,131.3ZM348.8,131.6 349.7,131.9 351.1,131 350.1,130.7ZM349.7,131.9 350.6,131.6 352,130.7 351.1,131ZM352.4,131.9 353.3,131 354.7,130.1 353.8,130.9ZM353.3,131 354.3,131.2 355.6,130.3 354.7,130.1ZM354.3,131.2 355.2,131.1 356.5,130.2 355.6,130.3ZM355.2,131.1 356.1,131.3 357.5,130.4 356.5,130.2ZM358.9,133.7 359.8,133.7 361.2,132.8 360.3,132.8ZM360.7,131.3 361.7,132.5 363,131.6 362.1,130.4ZM361.7,132.5 362.6,133.7 364,132.8 363,131.6ZM362.6,133.7 363.6,133.9 364.9,132.9 364,132.8ZM363.6,133.9 364.5,132.5 365.8,131.6 364.9,132.9ZM366.3,131.3 367.2,132.2 368.6,131.2 367.6,130.4ZM367.2,132.2 368.2,131.9 369.5,131 368.6,131.2ZM368.2,131.9 369.1,131.7 370.4,130.8 369.5,131ZM369.1,131.7 370,132.1 371.4,131.2 370.4,130.8ZM370,132.1 371,131.7 372.3,130.8 371.4,131.2ZM371.9,133.8 372.9,133.2 374.2,132.3 373.2,132.8ZM372.9,133.2 373.8,134.5 375.1,133.6 374.2,132.3ZM375.7,133.4 376.6,133 377.9,132.1 377,132.4ZM377.6,134.9 378.5,134.4 379.8,133.5 378.9,133.9ZM378.5,134.4 379.4,134.4 380.7,133.5 379.8,133.5ZM379.4,134.4 380.4,135.3 381.7,134.3 380.7,133.5ZM380.4,135.3 381.3,135.7 382.6,134.7 381.7,134.3ZM383.2,135.1 384.1,134 385.4,133.1 384.5,134.2ZM384.1,134 385.1,134.5 386.4,133.5 385.4,133.1ZM385.1,134.5 386.1,135.4 387.3,134.4 386.4,133.5ZM386.1,135.4 387,135.3 388.3,134.4 387.3,134.4ZM387.9,133.5 388.9,134.8 390.2,133.8 389.2,132.6ZM389.9,136.4 390.8,136.2 392.1,135.3 391.1,135.5ZM390.8,136.2 391.8,136 393,135 392.1,135.3ZM391.8,136 392.7,136.6 394,135.7 393,135ZM396.5,136.7 397.5,136.4 398.7,135.4 397.8,135.7ZM399.4,137.8 400.4,136.8 401.6,135.9 400.7,136.8ZM400.4,136.8 401.3,137.3 402.6,136.3 401.6,135.9ZM403.2,135.5 404.2,134.6 405.4,133.6 404.5,134.6ZM404.2,134.6 405.1,134.5 406.4,133.5 405.4,133.6ZM406.1,136.9 407.1,136 408.3,135.1 407.4,136ZM412.9,135.7 413.8,136.5 415.1,135.6 414.1,134.7ZM418.7,137.5 419.7,136.9 420.9,136 419.9,136.5ZM421.6,138.5 422.6,137.4 423.8,136.4 422.8,137.5ZM423.6,139.1 424.6,139.1 425.8,138.2 424.8,138.1ZM424.6,139.1 425.6,140 426.7,139 425.8,138.2ZM425.6,140 426.5,138.7 427.7,137.7 426.7,139ZM426.5,138.7 427.5,139.6 428.7,138.6 427.7,137.7ZM429.5,140.2 430.5,139 431.6,138 430.7,139.2ZM430.5,139 431.4,138.5 432.6,137.6 431.6,138ZM431.4,138.5 432.4,139.6 433.6,138.6 432.6,137.6ZM432.4,139.6 433.4,139 434.6,138 433.6,138.6ZM434.4,141.7 435.4,141.4 436.5,140.4 435.6,140.7ZM435.4,141.4 436.4,142 437.5,141 436.5,140.4ZM436.4,142 437.4,143 438.5,142 437.5,141ZM443.3,141.8 444.3,140.8 445.4,139.9 444.4,140.8ZM444.3,140.8 445.3,140.9 446.4,139.9 445.4,139.9ZM445.3,140.9 446.3,141.2 447.4,140.2 446.4,139.9ZM447.3,143.1 448.3,142.8 449.4,141.8 448.4,142.1ZM448.3,142.8 449.3,142.5 450.4,141.5 449.4,141.8ZM454.3,142.9 455.3,142.9 456.4,141.9 455.4,141.9ZM455.3,142.9 456.3,143.1 457.4,142.1 456.4,141.9ZM458.3,143 459.3,143.1 460.4,142.1 459.4,142ZM466.4,146.2 467.4,146 468.5,145 467.5,145.2ZM467.4,146 468.4,145 469.5,144 468.5,145ZM469.4,143 470.4,143.5 471.5,142.4 470.5,142ZM476.5,145.6 477.6,145 478.6,144 477.6,144.5ZM478.6,143.2 479.6,144.2 480.7,143.2 479.6,142.2ZM481.7,142.8 482.7,143.8 483.7,142.8 482.7,141.8ZM482.7,143.8 483.7,142.4 484.8,141.4 483.7,142.8ZM488.9,146.5 489.9,146.1 490.9,145.1 489.9,145.5ZM491.9,149.3 493,147.8 494,146.8 492.9,148.3ZM493,147.8 494,148.4 495,147.4 494,146.8ZM495,151.3 496.1,150.1 497.1,149.1 496,150.2ZM496.1,150.1 497.1,148.7 498.1,147.6 497.1,149.1ZM497.1,148.7 498.2,149.2 499.2,148.1 498.1,147.6ZM499.2,151.3 500.2,149.8 501.2,148.7 500.2,150.3ZM500.2,149.8 501.3,150 502.3,149 501.2,148.7ZM501.3,150 502.3,150.9 503.3,149.9 502.3,149Z" fill="#2d5a9b" stroke="#2d5a9b" stroke-width="1.3" stroke-linejoin="bevel"/>
<path d="M336.9,129.2 337.8,131.9 339.2,131 338.3,128.3ZM340.5,130.1 341.5,132.1 342.9,131.2 341.9,129.2ZM351.4,128.8 352.4,131.9 353.8,130.9 352.8,127.9ZM356.1,131.3 357.1,134 358.4,133 357.5,130.4ZM358,132.1 358.9,133.7 360.3,132.8 359.3,131.2ZM364.5,132.5 365.4,134.7 366.8,133.8 365.8,131.6ZM371,131.7 371.9,133.8 373.2,132.8 372.3,130.8ZM374.7,131.2 375.7,133.4 377,132.4 376,130.3ZM376.6,133 377.6,134.9 378.9,133.9 377.9,132.1ZM382.2,132.8 383.2,135.1 384.5,134.2 383.5,131.9ZM388.9,134.8 389.9,136.4 391.1,135.5 390.2,133.8ZM393.6,133.3 394.6,135.3 395.9,134.3 394.9,132.3ZM395.5,132.9 396.5,136.7 397.8,135.7 396.8,131.9ZM398.4,132.2 399.4,137.8 400.7,136.8 399.6,131.3ZM402.2,131.5 403.2,135.5 404.5,134.6 403.4,130.5ZM405.1,134.5 406.1,136.9 407.4,136 406.4,133.5ZM407.1,136 408.1,138.4 409.3,137.5 408.3,135.1ZM409,135.6 410,138.9 411.2,137.9 410.2,134.7ZM410.9,134.3 411.9,139.7 413.2,138.7 412.1,133.4ZM413.8,136.5 414.8,138.4 416,137.4 415.1,135.6ZM415.7,133.8 416.8,137.8 418,136.9 417,132.8ZM417.7,133.8 418.7,137.5 419.9,136.5 418.9,132.9ZM419.7,136.9 420.7,140.6 421.9,139.7 420.9,136ZM422.6,137.4 423.6,139.1 424.8,138.1 423.8,136.4ZM428.5,134.7 429.5,140.2 430.7,139.2 429.6,133.8ZM433.4,139 434.4,141.7 435.6,140.7 434.6,138ZM439.2,120.9 440.4,144.6 441.5,143.7 440.4,120ZM442.3,139.4 443.3,141.8 444.4,140.8 443.4,138.4ZM446.3,141.2 447.3,143.1 448.4,142.1 447.4,140.2ZM450.3,140.4 451.3,142.4 452.4,141.4 451.4,139.4ZM451.3,142.4 452.3,144.8 453.4,143.9 452.4,141.4ZM453.3,141 454.3,142.9 455.4,141.9 454.4,140ZM457.3,140.7 458.3,143 459.4,142 458.4,139.8ZM461.3,135.9 462.3,144.9 463.4,143.9 462.4,134.9ZM462.3,144.9 463.4,146.9 464.4,145.9 463.4,143.9ZM465.4,140.8 466.4,146.2 467.5,145.2 466.4,139.8ZM471.5,139 472.5,144.3 473.5,143.3 472.5,138ZM473.5,142.1 474.5,145.4 475.6,144.4 474.5,141.1ZM475.5,142.4 476.5,145.6 477.6,144.5 476.6,141.4ZM479.6,144.2 480.6,147.3 481.7,146.3 480.7,143.2ZM483.7,142.4 484.7,146.4 485.8,145.4 484.8,141.4ZM485.8,142.6 486.8,144.6 487.8,143.6 486.8,141.6ZM487.8,141.4 488.9,146.5 489.9,145.5 488.9,140.4ZM491,126.2 491.9,149.3 492.9,148.3 492,125.2ZM494,148.4 495,151.3 496,150.2 495,147.4ZM498.2,149.2 499.2,151.3 500.2,150.3 499.2,148.1Z" fill="#264c84" stroke="#264c84" stroke-width="1.3" stroke-linejoin="bevel"/>
<path d="M336,130.5 336.9,129.2 338.3,128.3 337.4,129.6ZM337.8,131.9 338.7,129.9 340.1,129 339.2,131ZM350.6,131.6 351.4,128.8 352.8,127.9 352,130.7ZM357.1,134 358,132.1 359.3,131.2 358.4,133ZM359.8,133.7 360.7,131.3 362.1,130.4 361.2,132.8ZM365.4,134.7 366.3,131.3 367.6,130.4 366.8,133.8ZM373.8,134.5 374.7,131.2 376,130.3 375.1,133.6ZM381.3,135.7 382.2,132.8 383.5,131.9 382.6,134.7ZM387,135.3 387.9,133.5 389.2,132.6 388.3,134.4ZM392.7,136.6 393.6,133.3 394.9,132.3 394,135.7ZM394.6,135.3 395.5,132.9 396.8,131.9 395.9,134.3ZM397.5,136.4 398.4,132.2 399.6,131.3 398.7,135.4ZM401.3,137.3 402.2,131.5 403.4,130.5 402.6,136.3ZM408.1,138.4 409,135.6 410.2,134.7 409.3,137.5ZM410,138.9 410.9,134.3 412.1,133.4 411.2,137.9ZM411.9,139.7 412.9,135.7 414.1,134.7 413.2,138.7ZM414.8,138.4 415.7,133.8 417,132.8 416,137.4ZM416.8,137.8 417.7,133.8 418.9,132.9 418,136.9ZM420.7,140.6 421.6,138.5 422.8,137.5 421.9,139.7ZM427.5,139.6 428.5,134.7 429.6,133.8 428.7,138.6ZM437.4,143 438.3,139.4 439.5,138.4 438.5,142ZM438.3,139.4 439.2,120.9 440.4,120 439.5,138.4ZM440.4,144.6 441.3,141.6 442.5,140.6 441.5,143.7ZM441.3,141.6 442.3,139.4 443.4,138.4 442.5,140.6ZM449.3,142.5 450.3,140.4 451.4,139.4 450.4,141.5ZM452.3,144.8 453.3,141 454.4,140 453.4,143.9ZM456.3,143.1 457.3,140.7 458.4,139.8 457.4,142.1ZM459.3,143.1 460.3,141.6 461.4,140.6 460.4,142.1ZM460.3,141.6 461.3,135.9 462.4,134.9 461.4,140.6ZM463.4,146.9 464.4,142.8 465.4,141.8 464.4,145.9ZM464.4,142.8 465.4,140.8 466.4,139.8 465.4,141.8ZM468.4,145 469.4,143 470.5,142 469.5,144ZM470.4,143.5 471.5,139 472.5,138 471.5,142.4ZM472.5,144.3 473.5,142.1 474.5,141.1 473.5,143.3ZM474.5,145.4 475.5,142.4 476.6,141.4 475.6,144.4ZM477.6,145 478.6,143.2 479.6,142.2 478.6,144ZM480.6,147.3 481.7,142.8 482.7,141.8 481.7,146.3ZM484.7,146.4 485.8,142.6 486.8,141.6 485.8,145.4ZM486.8,144.6 487.8,141.4 488.9,140.4 487.8,143.6ZM489.9,146.1 491,126.2 492,125.2 490.9,145.1Z" fill="#426aa5" stroke="#426aa5" stroke-width="1.3" stroke-linejoin="bevel"/>
<path d="M124,273.1 125,272.6 127.9,270.9 126.8,271.3ZM125,272.6 126.1,272.8 128.9,271.1 127.9,270.9ZM126.1,272.8 127.2,273.2 130,271.4 128.9,271.1ZM127.2,273.2 128.3,273.6 131.1,271.8 130,271.4ZM128.3,273.6 129.4,273.7 132.2,271.9 131.1,271.8ZM129.4,273.7 130.5,272.6 133.3,270.9 132.2,271.9ZM130.5,272.6 131.6,272.6 134.4,270.8 133.3,270.9ZM132.7,274.4 133.8,273 136.6,271.2 135.5,272.6ZM133.8,273 134.9,273.9 137.7,272.1 136.6,271.2ZM134.9,273.9 136,273.6 138.8,271.8 137.7,272.1ZM136,273.6 137.1,272.6 139.8,270.8 138.8,271.8ZM137.1,272.6 138.2,272.6 140.9,270.9 139.8,270.8ZM141.5,271.4 142.6,272.8 145.3,271.1 144.2,269.6ZM142.6,272.8 143.7,274.1 146.4,272.4 145.3,271.1ZM146,279.2 147.1,279.6 149.8,277.8 148.7,277.4ZM147.1,279.6 148.3,280.8 150.9,279 149.8,277.8ZM148.3,280.8 149.4,280.4 152,278.6 150.9,279ZM149.4,280.4 150.5,279.4 153.1,277.6 152,278.6ZM150.5,279.4 151.6,279.3 154.2,277.5 153.1,277.6ZM151.6,279.3 152.7,280.5 155.4,278.7 154.2,277.5ZM152.7,280.5 153.8,280.4 156.5,278.6 155.4,278.7ZM153.8,280.4 154.9,281.6 157.6,279.7 156.5,278.6ZM154.9,281.6 156,281 158.7,279.1 157.6,279.7ZM156,281 157.2,280.2 159.8,278.4 158.7,279.1ZM157.2,280.2 158.3,280.2 160.9,278.4 159.8,278.4ZM158.3,280.2 159.4,281.8 162,279.9 160.9,278.4ZM159.4,281.8 160.5,281.2 163.1,279.4 162,279.9ZM160.5,281.2 161.6,281.2 164.2,279.4 163.1,279.4ZM161.6,281.2 162.8,281.5 165.4,279.6 164.2,279.4ZM162.8,281.5 163.9,281.8 166.5,279.9 165.4,279.6ZM163.9,281.8 165,282.5 167.6,280.6 166.5,279.9ZM165,282.5 166.2,282.2 168.7,280.4 167.6,280.6ZM168.4,281.7 169.5,281.8 172.1,280 171,279.9ZM169.5,281.8 170.7,282 173.2,280.1 172.1,280ZM170.7,282 171.8,282.4 174.3,280.6 173.2,280.1ZM171.8,282.4 172.9,282.7 175.5,280.9 174.3,280.6ZM172.9,282.7 174.1,282 176.6,280.1 175.5,280.9ZM174.1,282 175.2,282.7 177.7,280.8 176.6,280.1ZM175.2,282.7 176.3,283 178.8,281.1 177.7,280.8ZM176.3,283 177.5,282.7 180,280.8 178.8,281.1ZM177.5,282.7 178.6,282.7 181.1,280.9 180,280.8ZM180.9,283.5 182,283.5 184.5,281.6 183.4,281.7ZM182,283.5 183.2,283.5 185.6,281.6 184.5,281.6ZM183.2,283.5 184.3,283.1 186.8,281.2 185.6,281.6ZM184.3,283.1 185.5,282.8 187.9,280.9 186.8,281.2ZM185.5,282.8 186.6,284.2 189.1,282.3 187.9,280.9ZM186.6,284.2 187.8,284.1 190.2,282.3 189.1,282.3ZM187.8,284.1 188.9,284.1 191.3,282.2 190.2,282.3ZM188.9,284.1 190.1,284.5 192.5,282.6 191.3,282.2ZM190.1,284.5 191.2,284.2 193.6,282.4 192.5,282.6ZM191.2,284.2 192.4,284.4 194.8,282.6 193.6,282.4ZM192.4,284.4 193.5,284.8 195.9,282.9 194.8,282.6ZM193.5,284.8 194.7,285.5 197.1,283.7 195.9,282.9ZM194.7,285.5 195.8,285.7 198.2,283.8 197.1,283.7ZM195.8,285.7 197,285.9 199.4,284 198.2,283.8ZM197,285.9 198.1,286 200.5,284.1 199.4,284ZM198.1,286 199.3,286.1 201.7,284.2 200.5,284.1ZM199.3,286.1 200.5,285.8 202.8,283.9 201.7,284.2ZM200.5,285.8 201.6,286.2 204,284.3 202.8,283.9ZM201.6,286.2 202.8,286.7 205.1,284.8 204,284.3ZM202.8,286.7 203.9,285.7 206.3,283.8 205.1,284.8ZM203.9,285.7 205.1,287.3 207.4,285.4 206.3,283.8ZM205.1,287.3 206.3,286.1 208.6,284.2 207.4,285.4ZM206.3,286.1 207.4,286.7 209.7,284.8 208.6,284.2ZM207.4,286.7 208.6,286.7 210.9,284.8 209.7,284.8ZM208.6,286.7 209.8,287.7 212.1,285.7 210.9,284.8ZM209.8,287.7 210.9,287 213.2,285.1 212.1,285.7ZM210.9,287 212.1,287.7 214.4,285.7 213.2,285.1ZM212.1,287.7 213.3,287.3 215.5,285.4 214.4,285.7ZM213.3,287.3 214.4,288.1 216.7,286.2 215.5,285.4ZM214.4,288.1 215.6,287.7 217.9,285.8 216.7,286.2ZM215.6,287.7 216.8,287.9 219,286 217.9,285.8ZM216.8,287.9 218,288.5 220.2,286.6 219,286ZM218,288.5 219.1,287.9 221.4,286 220.2,286.6ZM219.1,287.9 220.3,288 222.5,286.1 221.4,286ZM220.3,288 221.5,289.7 223.7,287.8 222.5,286.1ZM222.7,287.9 223.9,289.5 226.1,287.6 224.9,286ZM223.9,289.5 225,289.6 227.2,287.7 226.1,287.6ZM225,289.6 226.2,288.7 228.4,286.8 227.2,287.7ZM226.2,288.7 227.4,289.1 229.6,287.1 228.4,286.8ZM227.4,289.1 228.6,289.4 230.8,287.5 229.6,287.1ZM228.6,289.4 229.8,289.9 231.9,288 230.8,287.5ZM229.8,289.9 231,290.5 233.1,288.6 231.9,288ZM231,290.5 232.2,289.7 234.3,287.8 233.1,288.6ZM232.2,289.7 233.3,290.9 235.5,288.9 234.3,287.8ZM233.3,290.9 234.5,289.6 236.7,287.7 235.5,288.9ZM234.5,289.6 235.7,290 237.9,288 236.7,287.7ZM235.7,290 236.9,290.3 239,288.3 237.9,288ZM236.9,290.3 238.1,290.9 240.2,288.9 239,288.3ZM238.1,290.9 239.3,290.3 241.4,288.3 240.2,288.9ZM239.3,290.3 240.5,290.2 242.6,288.3 241.4,288.3ZM240.5,290.2 241.7,291.1 243.8,289.1 242.6,288.3ZM241.7,291.1 242.9,290.8 245,288.9 243.8,289.1ZM242.9,290.8 244.1,290.6 246.2,288.7 245,288.9ZM244.1,290.6 245.3,291.9 247.4,289.9 246.2,288.7ZM245.3,291.9 246.5,291.7 248.6,289.7 247.4,289.9ZM246.5,291.7 247.7,291.4 249.8,289.5 248.6,289.7ZM247.7,291.4 248.9,291.8 250.9,289.8 249.8,289.5ZM248.9,291.8 250.1,291.6 252.1,289.6 250.9,289.8ZM250.1,291.6 251.3,291.2 253.3,289.2 252.1,289.6ZM251.3,291.2 252.5,291.1 254.6,289.1 253.3,289.2ZM252.5,291.1 253.7,291.6 255.7,289.6 254.6,289.1ZM253.7,291.6 255,292.1 256.9,290.1 255.7,289.6ZM255,292.1 256.2,292.3 258.2,290.4 256.9,290.1ZM256.2,292.3 257.4,292.8 259.4,290.8 258.2,290.4ZM257.4,292.8 258.6,293 260.6,291 259.4,290.8ZM258.6,293 259.8,293.1 261.8,291.1 260.6,291ZM259.8,293.1 261,293.6 263,291.6 261.8,291.1ZM261,293.6 262.2,293.4 264.2,291.4 263,291.6Z" fill="#b97878" stroke="#b97878" stroke-width="1.2" stroke-linejoin="bevel"/>
<path d="M131.6,272.6 132.7,274.4 135.5,272.6 134.4,270.8ZM139.8,240.8 141.5,271.4 144.2,269.6 142.6,239.3ZM143.7,274.1 144.9,276.9 147.6,275.1 146.4,272.4ZM144.9,276.9 146,279.2 148.7,277.4 147.6,275.1ZM167.2,277.2 168.4,281.7 171,279.9 169.8,275.4ZM179.7,278 180.9,283.5 183.4,281.7 182.2,276.2Z" fill="#9d6666" stroke="#9d6666" stroke-width="1.2" stroke-linejoin="bevel"/>
<path d="M138.2,272.6 138.9,252.6 141.7,251 140.9,270.9ZM138.9,252.6 139.8,240.8 142.6,239.3 141.7,251ZM166.2,282.2 167.2,277.2 169.8,275.4 168.7,280.4ZM178.6,282.7 179.7,278 182.2,276.2 181.1,280.9ZM221.5,289.7 222.7,287.9 224.9,286 223.7,287.8Z" fill="#c08686" stroke="#c08686" stroke-width="1.2" stroke-linejoin="bevel"/>
<path d="M114.7,273.2 115.8,273 118.8,271.3 117.7,271.5ZM115.8,273 116.9,272.9 119.9,271.1 118.8,271.3ZM116.9,272.9 118.1,274 121,272.2 119.9,271.1ZM120.3,273.5 121.4,271.9 124.3,270.1 123.2,271.7ZM121.4,271.9 122.5,272.6 125.4,270.8 124.3,270.1ZM122.5,272.6 123.6,272.8 126.5,271 125.4,270.8ZM123.6,272.8 124.7,272.8 127.6,271 126.5,271ZM124.7,272.8 125.9,273.2 128.8,271.4 127.6,271ZM132.6,272.2 133.7,273.3 136.6,271.5 135.4,270.4ZM134.9,275.2 136,275.8 138.9,274 137.7,273.4ZM137.2,278.1 138.3,278.1 141.2,276.2 140,276.3ZM138.3,278.1 139.4,276.7 142.3,274.9 141.2,276.2ZM139.4,276.7 140.6,277.3 143.4,275.5 142.3,274.9ZM146.4,285.3 147.5,285.8 150.3,283.9 149.2,283.4ZM147.5,285.8 148.7,285.8 151.4,283.9 150.3,283.9ZM148.7,285.8 149.8,285.9 152.6,284 151.4,283.9ZM149.8,285.9 151,286.2 153.7,284.3 152.6,284ZM151,286.2 152.1,287.6 154.9,285.7 153.7,284.3ZM152.1,287.6 153.3,286.8 156,284.9 154.9,285.7ZM153.3,286.8 154.4,286.5 157.1,284.6 156,284.9ZM154.4,286.5 155.6,287.2 158.3,285.3 157.1,284.6ZM155.6,287.2 156.7,287.4 159.4,285.4 158.3,285.3ZM156.7,287.4 157.9,287.3 160.6,285.4 159.4,285.4ZM157.9,287.3 159,287.8 161.7,285.8 160.6,285.4ZM159,287.8 160.2,287.4 162.8,285.5 161.7,285.8ZM160.2,287.4 161.3,287.5 164,285.6 162.8,285.5ZM161.3,287.5 162.5,287.1 165.1,285.1 164,285.6ZM162.5,287.1 163.6,287.7 166.3,285.8 165.1,285.1ZM163.6,287.7 164.8,287.4 167.4,285.4 166.3,285.8ZM164.8,287.4 165.9,287.5 168.6,285.6 167.4,285.4ZM165.9,287.5 167.1,288.4 169.7,286.4 168.6,285.6ZM169.4,287.2 170.6,287.8 173.2,285.8 172,285.3ZM170.6,287.8 171.7,288.2 174.3,286.2 173.2,285.8ZM171.7,288.2 172.9,287.4 175.5,285.4 174.3,286.2ZM172.9,287.4 174,287.9 176.6,286 175.5,285.4ZM174,287.9 175.2,288 177.8,286.1 176.6,286ZM175.2,288 176.4,288.2 179,286.2 177.8,286.1ZM176.4,288.2 177.6,288.8 180.1,286.9 179,286.2ZM177.6,288.8 178.7,288.7 181.3,286.8 180.1,286.9ZM178.7,288.7 179.9,288.7 182.4,286.8 181.3,286.8ZM179.9,288.7 181.1,287.9 183.6,286 182.4,286.8ZM184.6,288.2 185.8,288.6 188.3,286.7 187.1,286.3ZM185.8,288.6 186.9,289.7 189.4,287.8 188.3,286.7ZM186.9,289.7 188.1,289.7 190.6,287.7 189.4,287.8ZM188.1,289.7 189.3,289 191.8,287 190.6,287.7ZM189.3,289 190.5,290.6 193,288.6 191.8,287ZM190.5,290.6 191.7,290.8 194.1,288.9 193,288.6ZM191.7,290.8 192.8,291.1 195.3,289.1 194.1,288.9ZM192.8,291.1 194,291.9 196.5,290 195.3,289.1ZM194,291.9 195.2,292.3 197.7,290.3 196.5,290ZM195.2,292.3 196.4,291.8 198.9,289.8 197.7,290.3ZM196.4,291.8 197.6,292.3 200,290.3 198.9,289.8ZM197.6,292.3 198.8,291.4 201.2,289.5 200,290.3ZM198.8,291.4 200,292.4 202.4,290.4 201.2,289.5ZM200,292.4 201.2,292.4 203.6,290.4 202.4,290.4ZM201.2,292.4 202.4,292.5 204.8,290.5 203.6,290.4ZM202.4,292.5 203.5,293.2 205.9,291.2 204.8,290.5ZM203.5,293.2 204.7,292.7 207.1,290.7 205.9,291.2ZM204.7,292.7 205.9,292.7 208.3,290.7 207.1,290.7ZM205.9,292.7 207.1,293.1 209.5,291.1 208.3,290.7ZM207.1,293.1 208.3,293.1 210.7,291.1 209.5,291.1ZM208.3,293.1 209.5,292.8 211.9,290.8 210.7,291.1ZM209.5,292.8 210.7,293.8 213.1,291.8 211.9,290.8ZM210.7,293.8 211.9,293.6 214.3,291.6 213.1,291.8ZM211.9,293.6 213.1,293.8 215.5,291.8 214.3,291.6ZM213.1,293.8 214.3,293.8 216.7,291.8 215.5,291.8ZM214.3,293.8 215.5,294.3 217.9,292.3 216.7,291.8ZM215.5,294.3 216.7,294.3 219.1,292.3 217.9,292.3ZM216.7,294.3 218,294.8 220.3,292.8 219.1,292.3ZM218,294.8 219.2,294.2 221.5,292.2 220.3,292.8ZM219.2,294.2 220.4,295.1 222.7,293.1 221.5,292.2ZM220.4,295.1 221.6,295.5 223.9,293.5 222.7,293.1ZM221.6,295.5 222.8,295.3 225.1,293.3 223.9,293.5ZM222.8,295.3 224,294.9 226.3,292.9 225.1,293.3ZM224,294.9 225.2,296.1 227.5,294.1 226.3,292.9ZM225.2,296.1 226.4,296.4 228.7,294.3 227.5,294.1ZM226.4,296.4 227.6,296.1 229.9,294.1 228.7,294.3ZM227.6,296.1 228.9,296.4 231.1,294.3 229.9,294.1ZM228.9,296.4 230.1,296.4 232.3,294.3 231.1,294.3ZM230.1,296.4 231.3,296.5 233.5,294.5 232.3,294.3ZM231.3,296.5 232.5,295.9 234.7,293.8 233.5,294.5ZM232.5,295.9 233.7,297 235.9,295 234.7,293.8ZM233.7,297 235,297.2 237.2,295.2 235.9,295ZM235,297.2 236.2,297.5 238.4,295.5 237.2,295.2ZM236.2,297.5 237.4,297.2 239.6,295.2 238.4,295.5ZM237.4,297.2 238.6,296.7 240.8,294.6 239.6,295.2ZM238.6,296.7 239.9,297.9 242,295.8 240.8,294.6ZM239.9,297.9 241.1,297.8 243.2,295.8 242,295.8ZM241.1,297.8 242.3,297.4 244.5,295.4 243.2,295.8ZM242.3,297.4 243.6,297.7 245.7,295.6 244.5,295.4ZM243.6,297.7 244.8,297.3 246.9,295.2 245.7,295.6ZM244.8,297.3 246,298.5 248.1,296.4 246.9,295.2ZM246,298.5 247.3,298.3 249.4,296.2 248.1,296.4ZM247.3,298.3 248.5,297.9 250.6,295.8 249.4,296.2ZM248.5,297.9 249.7,298.8 251.8,296.7 250.6,295.8ZM249.7,298.8 251,298.2 253.1,296.1 251.8,296.7ZM251,298.2 252.2,299.3 254.3,297.2 253.1,296.1ZM252.2,299.3 253.5,299.2 255.5,297.2 254.3,297.2ZM253.5,299.2 254.7,299.5 256.8,297.4 255.5,297.2ZM254.7,299.5 255.9,299.7 258,297.6 256.8,297.4Z" fill="#708ec6" stroke="#708ec6" stroke-width="1.2" stroke-linejoin="bevel"/>
<path d="M119.1,271.5 120.3,273.5 123.2,271.7 122.1,269.7ZM126.8,262.7 128,270.4 130.9,268.6 129.7,261ZM130.1,259.5 131.3,265.8 134.2,264 133,257.8ZM131.3,265.8 132.6,272.2 135.4,270.4 134.2,264ZM133.7,273.3 134.9,275.2 137.7,273.4 136.6,271.5ZM136,275.8 137.2,278.1 140,276.3 138.9,274ZM142.4,249.3 143.8,265.7 146.6,263.9 145.2,247.6ZM143.8,265.7 145.2,282.5 148,280.7 146.6,263.9ZM145.2,282.5 146.4,285.3 149.2,283.4 148,280.7ZM168.1,279.9 169.4,287.2 172,285.3 170.8,278ZM183.3,282 184.6,288.2 187.1,286.3 185.9,280.1Z" fill="#5f79a8" stroke="#5f79a8" stroke-width="1.2" stroke-linejoin="bevel"/>
<path d="M118.1,274 119.1,271.5 122.1,269.7 121,272.2ZM125.9,273.2 126.8,262.7 129.7,261 128.8,271.4ZM128,270.4 129,263.2 131.9,261.5 130.9,268.6ZM129,263.2 130.1,259.5 133,257.8 131.9,261.5ZM140.6,277.3 141.3,254.2 144.1,252.5 143.4,275.5ZM141.3,254.2 142.4,249.3 145.2,247.6 144.1,252.5ZM167.1,288.4 168.1,279.9 170.8,278 169.7,286.4ZM181.1,287.9 182.2,285.5 184.7,283.6 183.6,286ZM182.2,285.5 183.3,282 185.9,280.1 184.7,283.6Z" fill="#7e99cc" stroke="#7e99cc" stroke-width="1.2" stroke-linejoin="bevel"/>
<path d="M105.1,277.4 106.3,278.7 109.4,276.8 108.2,275.6ZM106.3,278.7 107.4,277.2 110.5,275.4 109.4,276.8ZM107.4,277.2 108.5,277.5 111.6,275.6 110.5,275.4ZM108.5,277.5 109.6,276.9 112.7,275.1 111.6,275.6ZM109.6,276.9 110.8,277.9 113.9,276 112.7,275.1ZM110.8,277.9 111.9,277.3 115,275.5 113.9,276ZM111.9,277.3 113,276.3 116.1,274.5 115,275.5ZM113,276.3 114.2,275.4 117.2,273.6 116.1,274.5ZM114.2,275.4 115.3,275.9 118.4,274 117.2,273.6ZM115.3,275.9 116.4,275.5 119.5,273.6 118.4,274ZM117.5,272.8 118.6,271.7 121.7,269.9 120.6,270.9ZM118.6,271.7 119.8,270.6 122.8,268.8 121.7,269.9ZM125.9,287.5 127,288.2 130,286.3 128.8,285.6ZM127,288.2 128.2,287.6 131.1,285.7 130,286.3ZM128.2,287.6 129.3,288.4 132.3,286.4 131.1,285.7ZM129.3,288.4 130.5,289.2 133.4,287.3 132.3,286.4ZM134,291.2 135.2,291.3 138.1,289.3 136.9,289.2ZM135.2,291.3 136.3,290.9 139.2,288.9 138.1,289.3ZM136.3,290.9 137.5,291.7 140.4,289.7 139.2,288.9ZM137.5,291.7 138.6,291.3 141.5,289.3 140.4,289.7ZM138.6,291.3 139.8,292.3 142.7,290.3 141.5,289.3ZM139.8,292.3 141,291.9 143.9,289.9 142.7,290.3ZM141,291.9 142.2,293 145,291 143.9,289.9ZM142.2,293 143.3,292.3 146.2,290.3 145,291ZM143.3,292.3 144.5,292.9 147.3,290.9 146.2,290.3ZM144.5,292.9 145.7,293.5 148.5,291.4 147.3,290.9ZM145.7,293.5 146.8,293.7 149.7,291.7 148.5,291.4ZM146.8,293.7 148,293.9 150.8,291.9 149.7,291.7ZM148,293.9 149.2,294 152,292 150.8,291.9ZM149.2,294 150.4,295.1 153.2,293 152,292ZM150.4,295.1 151.5,294.5 154.3,292.5 153.2,293ZM151.5,294.5 152.7,294.5 155.5,292.5 154.3,292.5ZM152.7,294.5 153.9,294.5 156.7,292.5 155.5,292.5ZM153.9,294.5 155.1,294.6 157.8,292.6 156.7,292.5ZM155.1,294.6 156.2,295.5 159,293.5 157.8,292.6ZM156.2,295.5 157.4,295 160.2,292.9 159,293.5ZM157.4,295 158.6,295.7 161.4,293.6 160.2,292.9ZM158.6,295.7 159.8,295.3 162.5,293.3 161.4,293.6ZM159.8,295.3 161,295.8 163.7,293.8 162.5,293.3ZM161,295.8 162.1,295.2 164.9,293.2 163.7,293.8ZM162.1,295.2 163.3,295.8 166.1,293.8 164.9,293.2ZM163.3,295.8 164.5,295.9 167.3,293.9 166.1,293.8ZM164.5,295.9 165.7,296.6 168.4,294.5 167.3,293.9ZM165.7,296.6 166.9,296.3 169.6,294.2 168.4,294.5ZM166.9,296.3 168.1,295.9 170.8,293.9 169.6,294.2ZM168.1,295.9 169.3,296.1 172,294 170.8,293.9ZM169.3,296.1 170.5,296.8 173.2,294.8 172,294ZM170.5,296.8 171.7,296.5 174.4,294.4 173.2,294.8ZM171.7,296.5 172.9,297.1 175.5,295 174.4,294.4ZM172.9,297.1 174.1,297.4 176.7,295.3 175.5,295ZM174.1,297.4 175.3,296.8 177.9,294.7 176.7,295.3ZM175.3,296.8 176.5,296.6 179.1,294.5 177.9,294.7ZM176.5,296.6 177.7,297.3 180.3,295.2 179.1,294.5ZM177.7,297.3 178.9,297.9 181.5,295.8 180.3,295.2ZM178.9,297.9 180.1,296.9 182.7,294.8 181.5,295.8ZM180.1,296.9 181.3,297.6 183.9,295.6 182.7,294.8ZM181.3,297.6 182.5,297.9 185.1,295.8 183.9,295.6ZM182.5,297.9 183.7,297.6 186.3,295.5 185.1,295.8ZM183.7,297.6 184.9,298.1 187.5,296.1 186.3,295.5ZM184.9,298.1 186.1,298.9 188.7,296.8 187.5,296.1ZM186.1,298.9 187.3,298.6 189.9,296.5 188.7,296.8ZM187.3,298.6 188.5,298.5 191.1,296.4 189.9,296.5ZM188.5,298.5 189.7,298.2 192.3,296.1 191.1,296.4ZM189.7,298.2 190.9,298.8 193.5,296.8 192.3,296.1ZM190.9,298.8 192.2,299 194.7,296.9 193.5,296.8ZM192.2,299 193.4,299.3 195.9,297.2 194.7,296.9ZM193.4,299.3 194.6,299.5 197.1,297.4 195.9,297.2ZM194.6,299.5 195.8,299.2 198.3,297.1 197.1,297.4ZM195.8,299.2 197,299.2 199.5,297.1 198.3,297.1ZM197,299.2 198.3,299.8 200.8,297.7 199.5,297.1ZM198.3,299.8 199.5,299.4 202,297.3 200.8,297.7ZM199.5,299.4 200.7,300.1 203.2,298 202,297.3ZM200.7,300.1 201.9,299.5 204.4,297.4 203.2,298ZM201.9,299.5 203.1,300.7 205.6,298.6 204.4,297.4ZM203.1,300.7 204.4,301.1 206.8,299 205.6,298.6ZM204.4,301.1 205.6,300.7 208,298.6 206.8,299ZM205.6,300.7 206.8,299.9 209.3,297.8 208,298.6ZM206.8,299.9 208.1,300.6 210.5,298.5 209.3,297.8ZM208.1,300.6 209.3,300.2 211.7,298.1 210.5,298.5ZM209.3,300.2 210.5,301.2 212.9,299 211.7,298.1ZM210.5,301.2 211.8,301.2 214.2,299.1 212.9,299ZM211.8,301.2 213,301.4 215.4,299.3 214.2,299.1ZM213,301.4 214.2,301.1 216.6,299 215.4,299.3ZM214.2,301.1 215.5,301.1 217.8,299 216.6,299ZM215.5,301.1 216.7,300.9 219.1,298.7 217.8,299ZM216.7,300.9 217.9,302.2 220.3,300 219.1,298.7ZM217.9,302.2 219.2,301.2 221.5,299.1 220.3,300ZM219.2,301.2 220.4,302.3 222.8,300.1 221.5,299.1ZM220.4,302.3 221.7,302.3 224,300.2 222.8,300.1ZM221.7,302.3 222.9,302.6 225.2,300.5 224,300.2ZM222.9,302.6 224.2,303.1 226.5,301 225.2,300.5ZM224.2,303.1 225.4,302.4 227.7,300.2 226.5,301ZM225.4,302.4 226.7,303.1 229,301 227.7,300.2ZM226.7,303.1 227.9,303.1 230.2,300.9 229,301ZM227.9,303.1 229.2,303.3 231.4,301.2 230.2,300.9ZM229.2,303.3 230.4,304.3 232.7,302.1 231.4,301.2ZM230.4,304.3 231.7,303.2 233.9,301 232.7,302.1ZM231.7,303.2 232.9,303.9 235.2,301.8 233.9,301ZM232.9,303.9 234.2,303.8 236.4,301.6 235.2,301.8ZM234.2,303.8 235.4,303.8 237.7,301.6 236.4,301.6ZM235.4,303.8 236.7,304.3 238.9,302.2 237.7,301.6ZM236.7,304.3 237.9,304.3 240.2,302.2 238.9,302.2ZM237.9,304.3 239.2,304.4 241.4,302.2 240.2,302.2ZM239.2,304.4 240.5,304.1 242.7,301.9 241.4,302.2ZM240.5,304.1 241.7,304.6 243.9,302.5 242.7,301.9ZM241.7,304.6 243,305 245.2,302.8 243.9,302.5ZM243,305 244.3,305.1 246.5,302.9 245.2,302.8ZM244.3,305.1 245.5,304.9 247.7,302.7 246.5,302.9ZM245.5,304.9 246.8,305.2 249,303 247.7,302.7ZM246.8,305.2 248.1,304.7 250.2,302.5 249,303ZM248.1,304.7 249.3,305.8 251.5,303.7 250.2,302.5Z" fill="#d46e1e" stroke="#d46e1e" stroke-width="1.2" stroke-linejoin="bevel"/>
<path d="M121.9,264.8 123.2,268.9 126.2,267 125,263ZM123.2,268.9 124.6,281 127.6,279.1 126.2,267ZM124.6,281 125.9,287.5 128.8,285.6 127.6,279.1ZM131.6,286.4 132.8,288.6 135.7,286.6 134.5,284.5ZM132.8,288.6 134,291.2 136.9,289.2 135.7,286.6Z" fill="#b45e1a" stroke="#b45e1a" stroke-width="1.2" stroke-linejoin="bevel"/>
<path d="M116.4,275.5 117.5,272.8 120.6,270.9 119.5,273.6ZM119.8,270.6 120.9,267.7 123.9,265.8 122.8,268.8ZM120.9,267.7 121.9,264.8 125,263 123.9,265.8ZM130.5,289.2 131.6,286.4 134.5,284.5 133.4,287.3Z" fill="#d87c34" stroke="#d87c34" stroke-width="1.2" stroke-linejoin="bevel"/>
<path d="M95.3,290.3 96.4,289.9 99.7,287.9 98.5,288.3ZM96.4,289.9 97.6,289.9 100.8,287.9 99.7,287.9ZM97.6,289.9 98.7,289.9 102,287.9 100.8,287.9ZM98.7,289.9 99.9,290.3 103.1,288.3 102,287.9ZM99.9,290.3 101.1,290.5 104.3,288.5 103.1,288.3ZM101.1,290.5 102.2,290 105.4,288 104.3,288.5ZM102.2,290 103.4,290.4 106.6,288.4 105.4,288ZM103.4,290.4 104.5,289.8 107.7,287.8 106.6,288.4ZM104.5,289.8 105.7,290.4 108.9,288.4 107.7,287.8ZM105.7,290.4 106.9,290.8 110,288.8 108.9,288.4ZM106.9,290.8 108,290.7 111.2,288.7 110,288.8ZM108,290.7 109.2,290.3 112.3,288.2 111.2,288.7ZM109.2,290.3 110.3,290.6 113.5,288.6 112.3,288.2ZM112.8,293.5 113.9,293.6 117.1,291.5 115.9,291.5ZM113.9,293.6 115.1,294.5 118.2,292.4 117.1,291.5ZM116.3,296.4 117.5,295.2 120.6,293.1 119.4,294.4ZM117.5,295.2 118.6,294.5 121.7,292.5 120.6,293.1ZM118.6,294.5 119.8,294 122.9,291.9 121.7,292.5ZM119.8,294 121,294.5 124.1,292.4 122.9,291.9ZM121,294.5 122.2,296.3 125.3,294.2 124.1,292.4ZM122.2,296.3 123.4,295.9 126.4,293.8 125.3,294.2ZM123.4,295.9 124.5,295.8 127.6,293.7 126.4,293.8ZM124.5,295.8 125.7,295.9 128.8,293.9 127.6,293.7ZM125.7,295.9 126.9,297.4 130,295.3 128.8,293.9ZM126.9,297.4 128.1,297.9 131.2,295.8 130,295.3ZM128.1,297.9 129.3,297.1 132.3,295 131.2,295.8ZM129.3,297.1 130.5,296.5 133.5,294.4 132.3,295ZM131.7,298.5 132.9,298.3 135.9,296.2 134.7,296.4ZM132.9,298.3 134.1,298.9 137.1,296.8 135.9,296.2ZM134.1,298.9 135.3,298.7 138.3,296.6 137.1,296.8ZM135.3,298.7 136.5,299.9 139.5,297.8 138.3,296.6ZM136.5,299.9 137.7,299.8 140.6,297.7 139.5,297.8ZM137.7,299.8 138.9,300.2 141.8,298.1 140.6,297.7ZM138.9,300.2 140,299.3 143,297.1 141.8,298.1ZM140,299.3 141.2,298.3 144.2,296.2 143,297.1ZM141.2,298.3 142.4,299.5 145.4,297.4 144.2,296.2ZM142.4,299.5 143.6,299.8 146.6,297.7 145.4,297.4ZM143.6,299.8 144.9,300.2 147.8,298.1 146.6,297.7ZM144.9,300.2 146.1,300.5 149,298.4 147.8,298.1ZM146.1,300.5 147.2,298.8 150.1,296.6 149,298.4ZM147.2,298.8 148.5,299.9 151.4,297.8 150.1,296.6ZM148.5,299.9 149.7,300.3 152.6,298.2 151.4,297.8ZM149.7,300.3 150.9,299.8 153.8,297.7 152.6,298.2ZM152.1,301.8 153.3,301.1 156.2,298.9 155,299.6ZM153.3,301.1 154.5,300.6 157.4,298.5 156.2,298.9ZM154.5,300.6 155.7,300.2 158.6,298.1 157.4,298.5ZM155.7,300.2 156.9,300.9 159.8,298.7 158.6,298.1ZM156.9,300.9 158.1,300.9 161,298.7 159.8,298.7ZM158.1,300.9 159.4,301.2 162.2,299.1 161,298.7ZM159.4,301.2 160.6,302.2 163.4,300 162.2,299.1ZM160.6,302.2 161.8,302 164.6,299.9 163.4,300ZM161.8,302 163,302.3 165.8,300.2 164.6,299.9ZM163,302.3 164.2,302.2 167,300 165.8,300.2ZM164.2,302.2 165.5,302.9 168.3,300.7 167,300ZM165.5,302.9 166.7,302.1 169.5,299.9 168.3,300.7ZM166.7,302.1 167.9,303 170.7,300.9 169.5,299.9ZM167.9,303 169.1,302.6 171.9,300.4 170.7,300.9ZM169.1,302.6 170.4,302.5 173.1,300.4 171.9,300.4ZM170.4,302.5 171.6,301.7 174.3,299.6 173.1,300.4ZM171.6,301.7 172.8,303 175.6,300.8 174.3,299.6ZM172.8,303 174.1,304.2 176.8,302.1 175.6,300.8ZM175.3,302 176.5,302.8 179.2,300.6 178,299.9ZM176.5,302.8 177.7,303.4 180.5,301.2 179.2,300.6ZM177.7,303.4 179,304.2 181.7,302.1 180.5,301.2ZM179,304.2 180.2,304 182.9,301.8 181.7,302.1ZM180.2,304 181.5,303.4 184.1,301.2 182.9,301.8ZM181.5,303.4 182.7,302.7 185.4,300.5 184.1,301.2ZM182.7,302.7 183.9,303.4 186.6,301.2 185.4,300.5ZM183.9,303.4 185.2,303.3 187.8,301.1 186.6,301.2ZM185.2,303.3 186.4,304.1 189.1,301.9 187.8,301.1ZM186.4,304.1 187.7,304.9 190.3,302.7 189.1,301.9ZM187.7,304.9 188.9,305.4 191.6,303.2 190.3,302.7ZM188.9,305.4 190.2,304.1 192.8,301.9 191.6,303.2ZM191.4,306 192.7,305 195.3,302.8 194,303.8ZM192.7,305 193.9,304 196.5,301.9 195.3,302.8ZM193.9,304 195.2,304.6 197.8,302.4 196.5,301.9ZM195.2,304.6 196.4,306.2 199,304 197.8,302.4ZM196.4,306.2 197.7,304.8 200.2,302.6 199,304ZM197.7,304.8 198.9,306.4 201.5,304.1 200.2,302.6ZM198.9,306.4 200.2,306.9 202.8,304.7 201.5,304.1ZM200.2,306.9 201.4,306.3 204,304.1 202.8,304.7ZM201.4,306.3 202.7,306.5 205.2,304.3 204,304.1ZM202.7,306.5 204,305.1 206.5,302.9 205.2,304.3ZM204,305.1 205.2,306.6 207.8,304.4 206.5,302.9ZM205.2,306.6 206.5,307.5 209,305.3 207.8,304.4ZM206.5,307.5 207.8,308.1 210.3,305.8 209,305.3ZM207.8,308.1 209,307.8 211.5,305.5 210.3,305.8ZM209,307.8 210.3,307.5 212.8,305.2 211.5,305.5ZM210.3,307.5 211.6,308.3 214,306.1 212.8,305.2ZM211.6,308.3 212.8,308.3 215.3,306.1 214,306.1ZM212.8,308.3 214.1,308.6 216.6,306.3 215.3,306.1ZM214.1,308.6 215.4,307.8 217.8,305.6 216.6,306.3ZM215.4,307.8 216.7,309.1 219.1,306.8 217.8,305.6ZM216.7,309.1 217.9,308.3 220.4,306.1 219.1,306.8ZM217.9,308.3 219.2,309.5 221.6,307.2 220.4,306.1ZM219.2,309.5 220.5,309.3 222.9,307 221.6,307.2ZM220.5,309.3 221.8,308.1 224.2,305.9 222.9,307ZM221.8,308.1 223,309 225.4,306.7 224.2,305.9ZM223,309 224.3,309.1 226.7,306.9 225.4,306.7ZM224.3,309.1 225.6,309.4 228,307.2 226.7,306.9ZM225.6,309.4 226.9,310.2 229.3,307.9 228,307.2ZM226.9,310.2 228.2,309.7 230.5,307.4 229.3,307.9ZM228.2,309.7 229.5,310.8 231.8,308.6 230.5,307.4ZM229.5,310.8 230.8,309.5 233.1,307.2 231.8,308.6ZM230.8,309.5 232,309.8 234.4,307.5 233.1,307.2ZM232,309.8 233.3,310.3 235.7,308 234.4,307.5ZM233.3,310.3 234.6,310.6 236.9,308.3 235.7,308ZM234.6,310.6 235.9,310.8 238.2,308.5 236.9,308.3ZM235.9,310.8 237.2,310.7 239.5,308.4 238.2,308.5ZM237.2,310.7 238.5,311.3 240.8,309 239.5,308.4ZM238.5,311.3 239.8,311.3 242.1,309 240.8,309ZM239.8,311.3 241.1,311.7 243.4,309.4 242.1,309ZM241.1,311.7 242.4,311.4 244.7,309.1 243.4,309.4Z" fill="#1980a0" stroke="#1980a0" stroke-width="1.2" stroke-linejoin="bevel"/>
<path d="M111.3,283.3 112.8,293.5 115.9,291.5 114.5,281.3ZM115.1,294.5 116.3,296.4 119.4,294.4 118.2,292.4ZM130.5,296.5 131.7,298.5 134.7,296.4 133.5,294.4ZM150.9,299.8 152.1,301.8 155,299.6 153.8,297.7ZM190.2,304.1 191.4,306 194,303.8 192.8,301.9Z" fill="#156d88" stroke="#156d88" stroke-width="1.2" stroke-linejoin="bevel"/>
<path d="M110.3,290.6 111.3,283.3 114.5,281.3 113.5,288.6ZM174.1,304.2 175.3,302 178,299.9 176.8,302.1Z" fill="#308daa" stroke="#308daa" stroke-width="1.2" stroke-linejoin="bevel"/>
<path d="M84.7,295 85.9,294.1 89.3,292.1 88.1,292.9ZM85.9,294.1 87.1,293.9 90.5,291.9 89.3,292.1ZM87.1,293.9 88.3,295.6 91.7,293.5 90.5,291.9ZM88.3,295.6 89.4,295.4 92.8,293.3 91.7,293.5ZM92.9,291.9 94.1,291.9 97.4,289.8 96.3,289.8ZM94.1,291.9 95.3,293 98.6,290.9 97.4,289.8ZM97.4,282.4 98.6,282.9 101.9,280.9 100.7,280.3ZM101.2,291.3 102.4,291.4 105.7,289.4 104.5,289.3ZM102.4,291.4 103.6,290.9 106.9,288.8 105.7,289.4ZM104.8,293.2 106,291.7 109.3,289.7 108.1,291.1ZM106,291.7 107.2,292.1 110.5,290 109.3,289.7ZM107.2,292.1 108.4,291.1 111.6,289 110.5,290ZM108.4,291.1 109.6,292.6 112.9,290.5 111.6,289ZM109.6,292.6 110.8,293.5 114.1,291.4 112.9,290.5ZM112.8,273.4 113.9,271.8 117.2,269.8 116,271.4ZM113.9,271.8 115.2,272.5 118.4,270.6 117.2,269.8ZM121.9,301.8 123.1,301.5 126.3,299.3 125.1,299.7ZM123.1,301.5 124.3,303.4 127.5,301.2 126.3,299.3ZM124.3,303.4 125.6,304.4 128.7,302.2 127.5,301.2ZM125.6,304.4 126.8,304.2 129.9,302 128.7,302.2ZM126.8,304.2 128,303.2 131.1,301 129.9,302ZM132.9,305.2 134.1,304.9 137.2,302.7 136,303ZM134.1,304.9 135.3,304.9 138.4,302.7 137.2,302.7ZM135.3,304.9 136.6,305 139.6,302.8 138.4,302.7ZM137.8,302.4 139,303 142.1,300.8 140.8,300.2ZM139,303 140.2,303.6 143.3,301.4 142.1,300.8ZM140.2,303.6 141.5,304.6 144.5,302.4 143.3,301.4ZM141.5,304.6 142.7,305.9 145.8,303.7 144.5,302.4ZM142.7,305.9 144,306.8 147,304.6 145.8,303.7ZM146.4,301.1 147.6,301.3 150.6,299.1 149.4,298.9ZM147.6,301.3 148.9,302.3 151.9,300.1 150.6,299.1ZM151.4,306.8 152.7,307 155.6,304.8 154.4,304.6ZM152.7,307 153.9,306.3 156.9,304.1 155.6,304.8ZM153.9,306.3 155.1,306.2 158.1,303.9 156.9,304.1ZM155.1,306.2 156.4,305.3 159.3,303.1 158.1,303.9ZM156.4,305.3 157.6,304 160.5,301.8 159.3,303.1ZM157.6,304 158.9,304.8 161.8,302.6 160.5,301.8ZM158.9,304.8 160.1,305.9 163.1,303.6 161.8,302.6ZM161.4,308.7 162.7,307 165.6,304.8 164.3,306.4ZM162.7,307 163.9,305.9 166.8,303.6 165.6,304.8ZM163.9,305.9 165.2,306.8 168,304.5 166.8,303.6ZM165.2,306.8 166.4,307.1 169.3,304.9 168,304.5ZM167.7,309.2 169,309.2 171.8,307 170.6,306.9ZM169,309.2 170.2,309.7 173.1,307.4 171.8,307ZM170.2,309.7 171.5,309.7 174.3,307.4 173.1,307.4ZM171.5,309.7 172.7,308.2 175.6,305.9 174.3,307.4ZM172.7,308.2 174,307.7 176.8,305.4 175.6,305.9ZM174,307.7 175.3,307.5 178.1,305.3 176.8,305.4ZM175.3,307.5 176.5,307.6 179.3,305.3 178.1,305.3ZM176.5,307.6 177.8,307.8 180.6,305.6 179.3,305.3ZM179.1,311.3 180.4,310.1 183.2,307.9 181.9,309ZM180.4,310.1 181.7,311.4 184.4,309.1 183.2,307.9ZM181.7,311.4 182.9,310.5 185.7,308.3 184.4,309.1ZM182.9,310.5 184.2,310.3 187,308 185.7,308.3ZM188,308.9 189.3,309.2 192,306.9 190.8,306.7ZM190.6,311.2 191.9,312.1 194.6,309.8 193.3,308.9ZM193.2,309.4 194.5,310.6 197.2,308.3 195.9,307.1ZM195.7,307.6 197,307.5 199.7,305.2 198.4,305.3ZM197,307.5 198.3,307.4 201,305.2 199.7,305.2ZM198.3,307.4 199.6,308.4 202.3,306.1 201,305.2ZM200.9,312 202.2,312.7 204.9,310.3 203.6,309.6ZM202.2,312.7 203.5,312.6 206.2,310.2 204.9,310.3ZM204.8,310.5 206.1,308.7 208.7,306.4 207.4,308.2ZM206.1,308.7 207.4,307.5 210,305.2 208.7,306.4ZM207.4,307.5 208.7,306.9 211.3,304.6 210,305.2ZM208.7,306.9 210,308.2 212.6,305.9 211.3,304.6ZM210,308.2 211.3,309.6 213.9,307.3 212.6,305.9ZM215.3,311.5 216.6,312.2 219.1,309.9 217.8,309.1ZM216.6,312.2 217.9,312.3 220.4,310 219.1,309.9ZM219.2,308 220.5,309.1 223,306.8 221.7,305.7ZM220.5,309.1 221.9,310.5 224.3,308.2 223,306.8ZM225.8,311.9 227.1,310 229.6,307.7 228.3,309.6ZM227.1,310 228.5,310.7 230.9,308.4 229.6,307.7ZM228.5,310.7 229.8,312.1 232.2,309.7 230.9,308.4ZM229.8,312.1 231.1,313.3 233.5,310.9 232.2,309.7ZM232.4,316.5 233.8,318.3 236.2,315.8 234.8,314.1ZM233.8,318.3 235.1,318.5 237.5,316 236.2,315.8Z" fill="#583e7d" stroke="#583e7d" stroke-width="1.2" stroke-linejoin="bevel"/>
<path d="M90.6,292.6 91.8,295 95.2,292.9 93.9,290.5ZM98.6,282.9 100.1,294.5 103.4,292.4 101.9,280.9ZM103.6,290.9 104.8,293.2 108.1,291.1 106.9,288.8ZM115.2,272.5 116.8,291.9 120,289.8 118.4,270.6ZM116.8,291.9 118.2,298.9 121.4,296.7 120,289.8ZM119,280.1 120.6,299.7 123.8,297.6 122.2,278ZM120.6,299.7 121.9,301.8 125.1,299.7 123.8,297.6ZM130.3,298.7 131.6,302.8 134.7,300.6 133.5,296.5ZM131.6,302.8 132.9,305.2 136,303 134.7,300.6ZM148.9,302.3 150.1,304.5 153.1,302.3 151.9,300.1ZM150.1,304.5 151.4,306.8 154.4,304.6 153.1,302.3ZM160.1,305.9 161.4,308.7 164.3,306.4 163.1,303.6ZM166.4,307.1 167.7,309.2 170.6,306.9 169.3,304.9ZM177.8,307.8 179.1,311.3 181.9,309 180.6,305.6ZM185.5,307.5 186.8,310.8 189.5,308.5 188.2,305.3ZM189.3,309.2 190.6,311.2 193.3,308.9 192,306.9ZM199.6,308.4 200.9,312 203.6,309.6 202.3,306.1ZM211.3,309.6 212.7,311.8 215.2,309.5 213.9,307.3ZM212.7,311.8 214,313.8 216.5,311.4 215.2,309.5ZM221.9,310.5 223.2,312.9 225.6,310.5 224.3,308.2ZM223.2,312.9 224.5,315.3 227,312.9 225.6,310.5ZM231.1,313.3 232.4,316.5 234.8,314.1 233.5,310.9Z" fill="#4b356a" stroke="#4b356a" stroke-width="1.2" stroke-linejoin="bevel"/>
<path d="M89.4,295.4 90.6,292.6 93.9,290.5 92.8,293.3ZM91.8,295 92.9,291.9 96.3,289.8 95.2,292.9ZM95.3,293 96.4,290.9 99.8,288.9 98.6,290.9ZM96.4,290.9 97.4,282.4 100.7,280.3 99.8,288.9ZM100.1,294.5 101.2,291.3 104.5,289.3 103.4,292.4ZM110.8,293.5 112,291.4 115.2,289.3 114.1,291.4ZM112,291.4 112.8,273.4 116,271.4 115.2,289.3ZM118.2,298.9 119,280.1 122.2,278 121.4,296.7ZM128,303.2 129.2,301.1 132.3,299 131.1,301ZM129.2,301.1 130.3,298.7 133.5,296.5 132.3,299ZM136.6,305 137.8,302.4 140.8,300.2 139.6,302.8ZM144,306.8 145.2,304.7 148.2,302.5 147,304.6ZM145.2,304.7 146.4,301.1 149.4,298.9 148.2,302.5ZM184.2,310.3 185.5,307.5 188.2,305.3 187,308ZM186.8,310.8 188,308.9 190.8,306.7 189.5,308.5ZM191.9,312.1 193.2,309.4 195.9,307.1 194.6,309.8ZM194.5,310.6 195.7,307.6 198.4,305.3 197.2,308.3ZM203.5,312.6 204.8,310.5 207.4,308.2 206.2,310.2ZM214,313.8 215.3,311.5 217.8,309.1 216.5,311.4ZM217.9,312.3 219.2,308 221.7,305.7 220.4,310ZM224.5,315.3 225.8,311.9 228.3,309.6 227,312.9Z" fill="#69518a" stroke="#69518a" stroke-width="1.2" stroke-linejoin="bevel"/>
<path d="M75.1,309.7 76.3,308.6 79.9,306.3 78.7,307.4ZM76.3,308.6 77.5,307.9 81,305.6 79.9,306.3ZM82.1,301.4 83.3,301.5 86.8,299.3 85.6,299.2ZM83.3,301.5 84.5,301.1 88,298.9 86.8,299.3ZM84.5,301.1 85.7,300.9 89.2,298.7 88,298.9ZM85.7,300.9 86.9,300.7 90.4,298.6 89.2,298.7ZM86.9,300.7 88.2,302.3 91.7,300.1 90.4,298.6ZM89.3,300.1 90.6,301 94.1,298.8 92.8,297.9ZM91.9,304.2 93.1,303.9 96.6,301.7 95.3,302ZM94.4,307.2 95.6,308.4 99.1,306.2 97.8,304.9ZM95.6,308.4 96.9,309.3 100.3,307 99.1,306.2ZM98,306.8 99.3,307.5 102.7,305.2 101.5,304.5ZM101.7,306.3 102.9,304.9 106.3,302.7 105.1,304ZM102.8,249.9 104,249.3 107.4,247.5 106.2,248ZM107.9,307 109.1,308.1 112.5,305.8 111.2,304.7ZM109.1,308.1 110.4,308.6 113.7,306.4 112.5,305.8ZM110.4,308.6 111.7,310.2 115,307.9 113.7,306.4ZM111.7,310.2 112.9,311.4 116.3,309.1 115,307.9ZM112.9,311.4 114.2,311.9 117.5,309.6 116.3,309.1ZM114.2,311.9 115.4,312.3 118.7,310 117.5,309.6ZM115.4,312.3 116.7,312.4 120,310.1 118.7,310ZM116.7,312.4 117.9,311.4 121.2,309.1 120,310.1ZM117.9,311.4 119.1,311.8 122.4,309.5 121.2,309.1ZM119.1,311.8 120.4,311.7 123.7,309.3 122.4,309.5ZM120.4,311.7 121.7,313 124.9,310.7 123.7,309.3ZM121.7,313 122.9,312.7 126.2,310.4 124.9,310.7ZM124.2,314.8 125.4,313.9 128.7,311.5 127.4,312.4ZM125.4,313.9 126.6,312.7 129.9,310.3 128.7,311.5ZM127.9,310.6 129.1,309.8 132.3,307.5 131.1,308.3ZM129.1,309.8 130.3,309.1 133.6,306.8 132.3,307.5ZM130.3,309.1 131.6,310.7 134.8,308.4 133.6,306.8ZM132.9,313 134.2,312.7 137.4,310.3 136.1,310.7ZM134.2,312.7 135.5,314.5 138.7,312.2 137.4,310.3ZM136.8,316.5 138.1,317 141.2,314.6 139.9,314.1ZM138.1,317 139.3,316.8 142.5,314.5 141.2,314.6ZM139.3,316.8 140.6,315.6 143.7,313.2 142.5,314.5ZM140.6,315.6 141.8,314.9 145,312.6 143.7,313.2ZM141.8,314.9 143.1,314.3 146.2,311.9 145,312.6ZM143.1,314.3 144.3,313.3 147.4,310.9 146.2,311.9ZM144.3,313.3 145.6,313.2 148.7,310.9 147.4,310.9ZM146.9,315.2 148.2,317.2 151.3,314.8 150,312.8ZM148.2,317.2 149.5,316.3 152.6,313.9 151.3,314.8ZM149.5,316.3 150.8,316.3 153.8,313.9 152.6,313.9ZM150.8,316.3 152,314.7 155.1,312.3 153.8,313.9ZM152,314.7 153.3,314.8 156.3,312.5 155.1,312.3ZM153.3,314.8 154.6,314.3 157.6,312 156.3,312.5ZM154.6,314.3 155.9,316 158.9,313.6 157.6,312ZM155.9,316 157.2,317.4 160.2,315 158.9,313.6ZM157.2,317.4 158.5,318.7 161.5,316.3 160.2,315ZM159.7,316.5 161,315.7 164,313.3 162.8,314.1ZM161,315.7 162.3,316.5 165.3,314.1 164,313.3ZM162.3,316.5 163.6,314.9 166.6,312.5 165.3,314.1ZM163.6,314.9 164.9,314.2 167.9,311.8 166.6,312.5ZM166.2,316.2 167.5,315.6 170.4,313.2 169.2,313.8ZM168.8,318.4 170.1,320.4 173.1,317.9 171.8,316ZM170.1,320.4 171.4,319.3 174.4,316.9 173.1,317.9ZM174,314.3 175.3,315.2 178.2,312.8 176.9,311.9ZM176.6,317.2 177.9,318.3 180.8,315.9 179.5,314.8ZM177.9,318.3 179.3,319.4 182.1,317 180.8,315.9ZM179.3,319.4 180.6,320.7 183.4,318.2 182.1,317ZM180.6,320.7 181.9,319.1 184.7,316.6 183.4,318.2ZM181.9,319.1 183.2,317.1 186,314.7 184.7,316.6ZM183.2,317.1 184.5,317.3 187.3,314.9 186,314.7ZM184.5,317.3 185.8,318.4 188.6,315.9 187.3,314.9ZM185.8,318.4 187.2,318.8 190,316.3 188.6,315.9ZM187.2,318.8 188.5,319.7 191.3,317.2 190,316.3ZM189.8,322.5 191.2,323.8 193.9,321.3 192.6,320.1ZM193.8,317.1 195.1,316.4 197.8,314 196.5,314.7ZM196.4,318.6 197.8,318.8 200.5,316.4 199.2,316.2ZM199.1,321.9 200.4,323.1 203.1,320.6 201.8,319.4ZM200.4,323.1 201.8,322.5 204.5,320 203.1,320.6ZM203.1,320.5 204.4,319 207.1,316.5 205.8,318ZM204.4,319 205.8,320.2 208.4,317.8 207.1,316.5ZM205.8,320.2 207.1,319.1 209.8,316.6 208.4,317.8ZM209.8,323.5 211.2,324.5 213.8,321.9 212.4,321ZM211.2,324.5 212.5,323.3 215.1,320.8 213.8,321.9ZM212.5,323.3 213.8,322.4 216.5,319.9 215.1,320.8ZM213.8,322.4 215.2,322.4 217.8,319.9 216.5,319.9ZM215.2,322.4 216.5,322.6 219.1,320.1 217.8,319.9ZM216.5,322.6 217.9,320.7 220.5,318.2 219.1,320.1ZM219.3,323 220.6,323.5 223.2,321 221.8,320.5ZM220.6,323.5 222,323.3 224.5,320.8 223.2,321ZM222,323.3 223.3,324.8 225.9,322.3 224.5,320.8ZM223.3,324.8 224.7,325.2 227.2,322.7 225.9,322.3ZM224.7,325.2 226,326.1 228.6,323.6 227.2,322.7ZM226,326.1 227.4,326.7 229.9,324.1 228.6,323.6Z" fill="#72912d" stroke="#72912d" stroke-width="1.2" stroke-linejoin="bevel"/>
<path d="M77.5,307.9 78.7,309.9 82.3,307.7 81,305.6ZM90.6,301 91.9,304.2 95.3,302 94.1,298.8ZM93.1,303.9 94.4,307.2 97.8,304.9 96.6,301.7ZM100.4,304.3 101.7,306.3 105.1,304 103.8,302ZM104,249.3 105.3,252 108.7,250.2 107.4,247.5ZM105.3,252 107.9,307 111.2,304.7 108.7,250.2ZM122.9,312.7 124.2,314.8 127.4,312.4 126.2,310.4ZM131.6,310.7 132.9,313 136.1,310.7 134.8,308.4ZM135.5,314.5 136.8,316.5 139.9,314.1 138.7,312.2ZM145.6,313.2 146.9,315.2 150,312.8 148.7,310.9ZM164.9,314.2 166.2,316.2 169.2,313.8 167.9,311.8ZM167.5,315.6 168.8,318.4 171.8,316 170.4,313.2ZM175.3,315.2 176.6,317.2 179.5,314.8 178.2,312.8ZM188.5,319.7 189.8,322.5 192.6,320.1 191.3,317.2ZM195.1,316.4 196.4,318.6 199.2,316.2 197.8,314ZM197.8,318.8 199.1,321.9 201.8,319.4 200.5,316.4ZM207.1,319.1 208.5,321.4 211.1,318.9 209.8,316.6ZM208.5,321.4 209.8,323.5 212.4,321 211.1,318.9ZM217.9,320.7 219.3,323 221.8,320.5 220.5,318.2Z" fill="#617b26" stroke="#617b26" stroke-width="1.2" stroke-linejoin="bevel"/>
<path d="M74,312.5 75.1,309.7 78.7,307.4 77.6,310.2ZM78.7,309.9 79.9,307.9 83.4,305.6 82.3,307.7ZM79.9,307.9 81,305.4 84.6,303.2 83.4,305.6ZM81,305.4 82.1,301.4 85.6,299.2 84.6,303.2ZM88.2,302.3 89.3,300.1 92.8,297.9 91.7,300.1ZM96.9,309.3 98,306.8 101.5,304.5 100.3,307ZM99.3,307.5 100.4,304.3 103.8,302 102.7,305.2ZM102.9,304.9 102.8,249.9 106.2,248 106.3,302.7ZM126.6,312.7 127.9,310.6 131.1,308.3 129.9,310.3ZM158.5,318.7 159.7,316.5 162.8,314.1 161.5,316.3ZM171.4,319.3 172.7,317.1 175.6,314.6 174.4,316.9ZM172.7,317.1 174,314.3 176.9,311.9 175.6,314.6ZM191.2,323.8 192.4,319.4 195.2,316.9 193.9,321.3ZM192.4,319.4 193.8,317.1 196.5,314.7 195.2,316.9ZM201.8,322.5 203.1,320.5 205.8,318 204.5,320Z" fill="#809c42" stroke="#809c42" stroke-width="1.2" stroke-linejoin="bevel"/>
<path d="M62.4,318 63.7,319.3 67.4,316.9 66.2,315.7ZM63.7,319.3 64.9,319 68.6,316.6 67.4,316.9ZM64.9,319 66.1,317.8 69.8,315.4 68.6,316.6ZM66.1,317.8 67.2,316.4 71,314 69.8,315.4ZM68.5,318.7 69.7,317.7 73.5,315.3 72.3,316.3ZM71,319.7 72.2,319.1 75.9,316.8 74.7,317.3ZM72.2,319.1 73.4,318.4 77.1,316 75.9,316.8ZM73.4,318.4 74.6,316.7 78.3,314.3 77.1,316ZM74.6,316.7 75.8,315.3 79.5,312.9 78.3,314.3ZM78.3,314.4 79.5,315.4 83.2,313 81.9,312.1ZM79.5,315.4 80.8,316.2 84.4,313.8 83.2,313ZM82,314.4 83.3,315.8 86.9,313.4 85.6,312ZM83.3,315.8 84.5,315.5 88.1,313.1 86.9,313.4ZM84.5,315.5 85.8,317.3 89.4,314.9 88.1,313.1ZM85.8,317.3 87,316.2 90.6,313.8 89.4,314.9ZM87,316.2 88.3,317 91.9,314.6 90.6,313.8ZM88.3,317 89.6,317.8 93.2,315.4 91.9,314.6ZM89.6,317.8 90.8,316.7 94.4,314.3 93.2,315.4ZM93.4,321 94.6,320.5 98.2,318 97,318.5ZM94.6,320.5 95.9,321.7 99.5,319.2 98.2,318ZM95.9,321.7 97.2,320.6 100.7,318.1 99.5,319.2ZM97.2,320.6 98.4,320.4 101.9,318 100.7,318.1ZM102.3,323 103.5,321.2 107,318.7 105.8,320.5ZM103.5,321.2 104.7,319.9 108.2,317.4 107,318.7ZM104.7,319.9 106,320.6 109.5,318.1 108.2,317.4ZM106,320.6 107.3,322.4 110.8,319.9 109.5,318.1ZM108.5,319.8 109.8,320.9 113.3,318.4 112,317.3ZM109.8,320.9 111.1,321 114.5,318.5 113.3,318.4ZM111.1,321 112.4,320.4 115.8,317.9 114.5,318.5ZM112.4,320.4 113.6,319.9 117.1,317.5 115.8,317.9ZM113.6,319.9 114.9,321.1 118.3,318.6 117.1,317.5ZM114.9,321.1 116.2,320.4 119.6,318 118.3,318.6ZM118.8,321.1 120.1,320.9 123.4,318.5 122.2,318.6ZM120.1,320.9 121.3,320.8 124.7,318.3 123.4,318.5ZM121.3,320.8 122.6,320.9 126,318.4 124.7,318.3ZM122.6,320.9 123.9,322 127.3,319.5 126,318.4ZM125.2,320.1 126.5,320.8 129.8,318.3 128.5,317.6ZM126.5,320.8 127.8,322.4 131.1,319.9 129.8,318.3ZM127.8,322.4 129.1,322.3 132.4,319.9 131.1,319.9ZM131.7,321.5 133,320.2 136.2,317.7 135,319ZM133,320.2 134.2,320.1 137.5,317.6 136.2,317.7ZM134.2,320.1 135.6,321.6 138.8,319.1 137.5,317.6ZM135.6,321.6 136.9,322.9 140.2,320.4 138.8,319.1ZM136.9,322.9 138.2,321.1 141.4,318.6 140.2,320.4ZM138.2,321.1 139.5,321.3 142.7,318.8 141.4,318.6ZM139.5,321.3 140.8,321.3 144,318.8 142.7,318.8ZM140.8,321.3 142.1,323.1 145.4,320.6 144,318.8ZM142.1,323.1 143.4,322.6 146.6,320.1 145.4,320.6ZM143.4,322.6 144.7,321.3 147.9,318.8 146.6,320.1ZM144.7,321.3 146,321.7 149.2,319.2 147.9,318.8ZM148.7,325 150,324.3 153.2,321.8 151.9,322.4ZM152.7,325.7 154,324.3 157.1,321.8 155.8,323.2ZM154,324.3 155.3,324 158.4,321.5 157.1,321.8ZM155.3,324 156.6,324.9 159.8,322.3 158.4,321.5ZM156.6,324.9 158,325.1 161.1,322.6 159.8,322.3ZM158,325.1 159.3,324.5 162.4,322 161.1,322.6ZM159.3,324.5 160.6,323.8 163.7,321.3 162.4,322ZM160.6,323.8 162,324.3 165,321.8 163.7,321.3ZM164.6,324.5 166,326.2 169,323.6 167.7,322ZM166,326.2 167.3,325.8 170.3,323.3 169,323.6ZM167.3,325.8 168.7,326.5 171.7,324 170.3,323.3ZM168.7,326.5 170,325.6 173,323 171.7,324ZM170,325.6 171.3,326 174.3,323.4 173,323ZM175.4,327.6 176.7,328.3 179.7,325.7 178.4,325.1ZM178.1,326.2 179.4,326.4 182.4,323.8 181,323.7ZM182.1,325.7 183.5,327.7 186.4,325.1 185,323.1ZM183.5,327.7 184.8,328.4 187.8,325.8 186.4,325.1ZM186.2,326.3 187.6,328.1 190.4,325.5 189.1,323.7ZM187.6,328.1 188.9,327.4 191.8,324.8 190.4,325.5ZM188.9,327.4 190.3,329 193.2,326.4 191.8,324.8ZM190.3,329 191.7,330.2 194.5,327.5 193.2,326.4ZM191.7,330.2 193,329.4 195.9,326.8 194.5,327.5ZM193,329.4 194.4,329.5 197.2,326.9 195.9,326.8ZM199.9,330.1 201.3,329.9 204,327.3 202.7,327.4ZM201.3,329.9 202.6,330.7 205.4,328.1 204,327.3ZM202.6,330.7 204,330.3 206.8,327.7 205.4,328.1ZM204,330.3 205.4,329.2 208.1,326.6 206.8,327.7ZM205.4,329.2 206.8,331.2 209.5,328.6 208.1,326.6ZM206.8,331.2 208.2,332.2 210.9,329.6 209.5,328.6ZM208.2,332.2 209.5,331.7 212.3,329.1 210.9,329.6ZM210.9,329.2 212.3,330 215,327.4 213.6,326.6ZM217.9,329.9 219.3,331.2 221.9,328.6 220.5,327.3Z" fill="#962624" stroke="#962624" stroke-width="1.2" stroke-linejoin="bevel"/>
<path d="M67.2,316.4 68.5,318.7 72.3,316.3 71,314ZM69.7,317.7 71,319.7 74.7,317.3 73.5,315.3ZM75.8,315.3 77.1,318.1 80.8,315.7 79.5,312.9ZM92,313.9 93.4,321 97,318.5 95.5,311.5ZM98.4,320.4 99.7,322.6 103.3,320.1 101.9,318ZM100.9,320.6 102.3,323 105.8,320.5 104.5,318.1ZM117.3,312.3 118.8,321.1 122.2,318.6 120.7,309.9ZM130.2,313.9 131.7,321.5 135,319 133.5,311.5ZM147.2,313.1 148.7,325 151.9,322.4 150.4,310.7ZM151.2,315.2 152.7,325.7 155.8,323.2 154.4,312.7ZM163.2,316 164.6,324.5 167.7,322 166.2,313.5ZM171.3,326 172.7,328.3 175.7,325.8 174.3,323.4ZM173.9,319.5 175.4,327.6 178.4,325.1 176.9,317ZM180.6,311.2 182.1,325.7 185,323.1 183.6,308.7ZM195.7,318.8 197.1,328.5 199.9,325.9 198.5,316.2ZM198.5,323.3 199.9,330.1 202.7,327.4 201.3,320.7ZM212.3,330 213.7,334 216.4,331.3 215,327.4ZM215.1,322.5 216.5,332.9 219.2,330.2 217.8,319.9Z" fill="#80201f" stroke="#80201f" stroke-width="1.2" stroke-linejoin="bevel"/>
<path d="M77.1,318.1 78.3,314.4 81.9,312.1 80.8,315.7ZM80.8,316.2 82,314.4 85.6,312 84.4,313.8ZM90.8,316.7 92,313.9 95.5,311.5 94.4,314.3ZM99.7,322.6 100.9,320.6 104.5,318.1 103.3,320.1ZM107.3,322.4 108.5,319.8 112,317.3 110.8,319.9ZM116.2,320.4 117.3,312.3 120.7,309.9 119.6,318ZM123.9,322 125.2,320.1 128.5,317.6 127.3,319.5ZM129.1,322.3 130.2,313.9 133.5,311.5 132.4,319.9ZM146,321.7 147.2,313.1 150.4,310.7 149.2,319.2ZM150,324.3 151.2,315.2 154.4,312.7 153.2,321.8ZM162,324.3 163.2,316 166.2,313.5 165,321.8ZM172.7,328.3 173.9,319.5 176.9,317 175.7,325.8ZM176.7,328.3 178.1,326.2 181,323.7 179.7,325.7ZM179.4,326.4 180.6,311.2 183.6,308.7 182.4,323.8ZM184.8,328.4 186.2,326.3 189.1,323.7 187.8,325.8ZM194.4,329.5 195.7,318.8 198.5,316.2 197.2,326.9ZM197.1,328.5 198.5,323.3 201.3,320.7 199.9,325.9ZM209.5,331.7 210.9,329.2 213.6,326.6 212.3,329.1ZM213.7,334 215.1,322.5 217.8,319.9 216.4,331.3ZM216.5,332.9 217.9,329.9 220.5,327.3 219.2,330.2Z" fill="#a03c3a" stroke="#a03c3a" stroke-width="1.2" stroke-linejoin="bevel"/>
<path d="M50.2,324.8 51.4,325 55.4,322.5 54.1,322.3ZM51.4,325 52.6,323.4 56.6,320.9 55.4,322.5ZM52.6,323.4 53.9,323.6 57.8,321.1 56.6,320.9ZM55,321.2 56.3,320.9 60.2,318.4 59,318.8ZM56.3,320.9 57.5,320.6 61.5,318.1 60.2,318.4ZM57.5,320.6 58.8,319.7 62.7,317.3 61.5,318.1ZM58.8,319.7 60,319.6 63.9,317.1 62.7,317.3ZM60,319.6 61.3,320.6 65.2,318.1 63.9,317.1ZM61.3,320.6 62.6,322.5 66.5,320 65.2,318.1ZM62.6,322.5 63.9,322.3 67.8,319.8 66.5,320ZM63.9,322.3 65.1,320.9 69,318.4 67.8,319.8ZM69,324.6 70.3,324.3 74.1,321.8 72.9,322ZM70.3,324.3 71.5,323.5 75.3,321 74.1,321.8ZM71.5,323.5 72.7,321.9 76.6,319.4 75.3,321ZM72.7,321.9 74,322.9 77.9,320.4 76.6,319.4ZM74,322.9 75.4,324.4 79.2,321.8 77.9,320.4ZM75.4,324.4 76.6,324.1 80.4,321.6 79.2,321.8ZM76.6,324.1 78,325.9 81.7,323.3 80.4,321.6ZM78,325.9 79.2,324.9 83,322.4 81.7,323.3ZM79.2,324.9 80.5,324.7 84.2,322.2 83,322.4ZM81.1,302.7 82.4,301.9 86.1,299.5 84.9,300.4ZM122.2,325.4 123.6,327.4 127.1,324.8 125.7,322.8ZM123.6,327.4 124.9,325.7 128.4,323.2 127.1,324.8ZM127.4,316.9 128.8,317.9 132.2,315.3 130.8,314.4ZM141,326.6 142.4,326.5 145.7,323.9 144.4,324ZM155.8,314.7 157.2,316.1 160.4,313.5 159,312.2ZM162.9,329 164.3,330.5 167.4,327.9 166,326.4ZM176.7,329.3 178.1,328.7 181.2,326 179.8,326.6ZM178.1,328.7 179.5,329.6 182.6,326.9 181.2,326ZM180.9,333.4 182.3,333.6 185.4,330.9 184,330.7ZM200.6,325.2 202.1,324.9 204.9,322.2 203.5,322.5ZM206.4,336.3 207.8,336.5 210.6,333.7 209.2,333.5ZM207.8,336.5 209.2,337 212.1,334.2 210.6,333.7ZM209.2,337 210.7,336.5 213.5,333.7 212.1,334.2Z" fill="#2d5a9b" stroke="#2d5a9b" stroke-width="1.2" stroke-linejoin="bevel"/>
<path d="M66.3,317.9 67.6,321.4 71.5,318.9 70.1,315.4ZM67.6,321.4 69,324.6 72.9,322 71.5,318.9ZM82.4,301.9 84.5,329.1 88.2,326.5 86.1,299.5ZM85.2,308.8 86.6,313.3 90.3,310.9 88.9,306.4ZM86.6,313.3 87.9,316.3 91.7,313.8 90.3,310.9ZM87.9,316.3 89.4,321.8 93.1,319.3 91.7,313.8ZM89.4,321.8 90.8,324.8 94.5,322.3 93.1,319.3ZM94.3,310.1 95.6,312.8 99.3,310.3 97.9,307.6ZM95.6,312.8 97,316.2 100.7,313.8 99.3,310.3ZM97,316.2 98.4,319.4 102.1,316.8 100.7,313.8ZM98.4,319.4 99.8,323.4 103.5,320.9 102.1,316.8ZM99.8,323.4 101.2,326 104.8,323.4 103.5,320.9ZM106.1,313 107.5,316.6 111.1,314.1 109.7,310.5ZM107.5,316.6 108.9,319.2 112.5,316.7 111.1,314.1ZM108.9,319.2 110.3,324 113.9,321.5 112.5,316.7ZM110.3,324 111.7,327.8 115.3,325.2 113.9,321.5ZM116.6,308.8 118,313.4 121.5,310.9 120.1,306.4ZM118,313.4 119.4,317.1 122.9,314.6 121.5,310.9ZM119.4,317.1 120.8,320.5 124.3,318 122.9,314.6ZM120.8,320.5 122.2,325.4 125.7,322.8 124.3,318ZM128.8,317.9 130.3,326.4 133.7,323.8 132.2,315.3ZM130.3,326.4 131.7,331.8 135.1,329.1 133.7,323.8ZM135.4,314 136.8,316.3 140.2,313.7 138.8,311.5ZM136.8,316.3 138.2,319.7 141.6,317.2 140.2,313.7ZM138.2,319.7 139.6,322.5 142.9,319.9 141.6,317.2ZM139.6,322.5 141,326.6 144.4,324 142.9,319.9ZM144.9,318.6 146.4,322.1 149.7,319.5 148.3,316ZM146.4,322.1 147.8,327.9 151.1,325.3 149.7,319.5ZM147.8,327.9 149.2,332.4 152.5,329.8 151.1,325.3ZM157.2,316.1 158.6,318.6 161.8,316 160.4,313.5ZM158.6,318.6 160,322.6 163.2,320 161.8,316ZM160,322.6 161.5,326.4 164.7,323.7 163.2,320ZM161.5,326.4 162.9,329 166,326.4 164.7,323.7ZM171,313.6 172.5,320.5 175.6,317.9 174.1,311ZM172.5,320.5 173.9,328.9 177,326.2 175.6,317.9ZM173.9,328.9 175.4,331.6 178.4,328.9 177,326.2ZM179.5,329.6 180.9,333.4 184,330.7 182.6,326.9ZM185.1,325.6 186.5,333.2 189.5,330.5 188.1,322.9ZM186.5,333.2 188,337.8 191,335.1 189.5,330.5ZM192.1,319.1 193.5,323.8 196.5,321.2 195,316.5ZM193.5,323.8 195,334.6 197.9,331.8 196.5,321.2ZM195,334.6 196.4,338.3 199.4,335.5 197.9,331.8ZM202.1,324.9 203.5,328.9 206.4,326.2 204.9,322.2ZM203.5,328.9 204.9,332.8 207.8,330 206.4,326.2ZM204.9,332.8 206.4,336.3 209.2,333.5 207.8,330Z" fill="#264c84" stroke="#264c84" stroke-width="1.2" stroke-linejoin="bevel"/>
<path d="M53.9,323.6 55,321.2 59,318.8 57.8,321.1ZM65.1,320.9 66.3,317.9 70.1,315.4 69,318.4ZM80.5,324.7 81.1,302.7 84.9,300.4 84.2,322.2ZM84.5,329.1 85.2,308.8 88.9,306.4 88.2,326.5ZM90.8,324.8 91.9,319.4 95.6,316.9 94.5,322.3ZM91.9,319.4 93,312.4 96.7,310 95.6,316.9ZM93,312.4 94.3,310.1 97.9,307.6 96.7,310ZM101.2,326 102.4,322.1 106,319.5 104.8,323.4ZM102.4,322.1 103.6,319.2 107.2,316.7 106,319.5ZM103.6,319.2 104.9,316.2 108.5,313.7 107.2,316.7ZM104.9,316.2 106.1,313 109.7,310.5 108.5,313.7ZM111.7,327.8 113,324.6 116.5,322.1 115.3,325.2ZM113,324.6 114.1,317.8 117.7,315.3 116.5,322.1ZM114.1,317.8 115.3,312.9 118.9,310.4 117.7,315.3ZM115.3,312.9 116.6,308.8 120.1,306.4 118.9,310.4ZM124.9,325.7 126.2,321.7 129.6,319.1 128.4,323.2ZM126.2,321.7 127.4,316.9 130.8,314.4 129.6,319.1ZM131.7,331.8 132.9,326.3 136.3,323.7 135.1,329.1ZM132.9,326.3 134.1,319.3 137.5,316.7 136.3,323.7ZM134.1,319.3 135.4,314 138.8,311.5 137.5,316.7ZM142.4,326.5 143.7,322.7 147,320.1 145.7,323.9ZM143.7,322.7 144.9,318.6 148.3,316 147,320.1ZM149.2,332.4 150.5,327.6 153.8,325 152.5,329.8ZM150.5,327.6 151.9,325.5 155.1,322.8 153.8,325ZM151.9,325.5 153.2,321.2 156.4,318.6 155.1,322.8ZM153.2,321.2 154.5,317.7 157.7,315.2 156.4,318.6ZM154.5,317.7 155.8,314.7 159,312.2 157.7,315.2ZM164.3,330.5 165.6,326.8 168.8,324.1 167.4,327.9ZM165.6,326.8 167,324.6 170.1,322 168.8,324.1ZM167,324.6 168.3,320.8 171.4,318.2 170.1,322ZM168.3,320.8 169.6,316.7 172.8,314.2 171.4,318.2ZM169.6,316.7 171,313.6 174.1,311 172.8,314.2ZM175.4,331.6 176.7,329.3 179.8,326.6 178.4,328.9ZM182.3,333.6 183.7,329.2 186.7,326.5 185.4,330.9ZM183.7,329.2 185.1,325.6 188.1,322.9 186.7,326.5ZM188,337.8 189.3,331.2 192.3,328.5 191,335.1ZM189.3,331.2 190.7,324.8 193.7,322.1 192.3,328.5ZM190.7,324.8 192.1,319.1 195,316.5 193.7,322.1ZM196.4,338.3 197.8,333.6 200.7,330.9 199.4,335.5ZM197.8,333.6 199.2,330.2 202.1,327.5 200.7,330.9ZM199.2,330.2 200.6,325.2 203.5,322.5 202.1,327.5Z" fill="#426aa5" stroke="#426aa5" stroke-width="1.2" stroke-linejoin="bevel"/>
<line x1="315.3" y1="314" x2="536.5" y2="314" stroke="#d9d9d9" stroke-width="1"/>
<line x1="315.3" y1="290.6" x2="536.5" y2="290.6" stroke="#d9d9d9" stroke-width="1"/>
<line x1="315.3" y1="267.2" x2="536.5" y2="267.2" stroke="#d9d9d9" stroke-width="1"/>
<line x1="315.3" y1="243.8" x2="536.5" y2="243.8" stroke="#d9d9d9" stroke-width="1"/>
<line x1="315.3" y1="220.4" x2="536.5" y2="220.4" stroke="#d9d9d9" stroke-width="1"/>
<line x1="315.3" y1="219.9" x2="315.3" y2="337.4" stroke="#595959" stroke-width="1"/>
<line x1="315.3" y1="337.4" x2="536.5" y2="337.4" stroke="#595959" stroke-width="1"/>
<text x="309.6" y="339.6" font-size="6.2" text-anchor="end" font-weight="bold" textLength="3.4" lengthAdjust="spacingAndGlyphs" fill="#000">0</text>
<text x="309.6" y="316.2" font-size="6.2" text-anchor="end" font-weight="bold" textLength="7" lengthAdjust="spacingAndGlyphs" fill="#000">50</text>
<text x="309.6" y="292.8" font-size="6.2" text-anchor="end" font-weight="bold" textLength="10.3" lengthAdjust="spacingAndGlyphs" fill="#000">100</text>
<text x="309.6" y="269.4" font-size="6.2" text-anchor="end" font-weight="bold" textLength="10.3" lengthAdjust="spacingAndGlyphs" fill="#000">150</text>
<text x="309.6" y="246" font-size="6.2" text-anchor="end" font-weight="bold" textLength="10.3" lengthAdjust="spacingAndGlyphs" fill="#000">200</text>
<text x="309.6" y="222.6" font-size="6.2" text-anchor="end" font-weight="bold" textLength="10.3" lengthAdjust="spacingAndGlyphs" fill="#000">250</text>
<text x="295.6" y="278.5" font-size="6.8" text-anchor="middle" textLength="78" lengthAdjust="spacingAndGlyphs" transform="rotate(-90 295.6 278.5)" fill="#000" stroke="#000" stroke-width="0.25">Multiunits Numbers/Min</text>
<text x="370.8" y="348.5" font-size="5.6" text-anchor="middle" font-weight="bold" textLength="32" lengthAdjust="spacingAndGlyphs" fill="#000">Spontanous</text>
<text x="481.2" y="348.3" font-size="5.6" text-anchor="middle" font-weight="bold" textLength="51.5" lengthAdjust="spacingAndGlyphs" fill="#000">Muscimol injection</text>
<line x1="370.6" y1="266.2" x2="370.6" y2="290.3" stroke="#595959" stroke-width="1"/>
<line x1="369.1" y1="266.2" x2="372.1" y2="266.2" stroke="#595959" stroke-width="1"/>
<line x1="481" y1="231.1" x2="481" y2="246.8" stroke="#a0a0a0" stroke-width="1"/>
<line x1="479.5" y1="231.1" x2="482.5" y2="231.1" stroke="#a0a0a0" stroke-width="1"/>
<line x1="481" y1="297" x2="481" y2="303.9" stroke="#808080" stroke-width="1"/>
<line x1="479.5" y1="297" x2="482.5" y2="297" stroke="#808080" stroke-width="1"/>
<line x1="370.6" y1="294.8" x2="481" y2="303.9" stroke="#9bbb59" stroke-width="2.3"/>
<circle cx="370.6" cy="294.8" r="2.4" fill="#9bbb59"/>
<circle cx="481.0" cy="303.9" r="2.4" fill="#9bbb59"/>
<line x1="370.6" y1="290.3" x2="481" y2="326.1" stroke="#4f81bd" stroke-width="2.3"/>
<circle cx="370.6" cy="290.3" r="2.4" fill="#4f81bd"/>
<circle cx="481.0" cy="326.1" r="2.4" fill="#4f81bd"/>
<line x1="370.6" y1="278.6" x2="481" y2="246.8" stroke="#c0504d" stroke-width="2.3"/>
<circle cx="370.6" cy="278.6" r="2.4" fill="#c0504d"/>
<circle cx="481.0" cy="246.8" r="2.4" fill="#c0504d"/>
<text x="364" y="263" font-size="6.6" textLength="10.9" lengthAdjust="spacingAndGlyphs" fill="#000">n.s.</text>
<text x="481.4" y="233.6" font-size="16" text-anchor="middle" font-weight="bold" fill="#000">*</text>
<line x1="317.4" y1="361.3" x2="332.6" y2="361.3" stroke="#4f81bd" stroke-width="1.8"/>
<circle cx="325.0" cy="361.3" r="1.8" fill="#4f81bd"/>
<text x="333.6" y="363.4" font-size="5.8" font-weight="bold" textLength="39.7" lengthAdjust="spacingAndGlyphs" fill="#000">Control (n = 6)</text>
<line x1="383.7" y1="361.3" x2="398.4" y2="361.3" stroke="#c0504d" stroke-width="1.8"/>
<circle cx="391.0" cy="361.3" r="1.8" fill="#c0504d"/>
<text x="399" y="363.4" font-size="5.8" font-weight="bold" textLength="33" lengthAdjust="spacingAndGlyphs" fill="#000">CPSP (n = 6)</text>
<line x1="442.5" y1="361.3" x2="457.8" y2="361.3" stroke="#9bbb59" stroke-width="1.8"/>
<circle cx="450.1" cy="361.3" r="1.8" fill="#9bbb59"/>
<text x="458.2" y="363.4" font-size="5.8" font-weight="bold" textLength="49.8" lengthAdjust="spacingAndGlyphs" fill="#000">P2X7/CPSP (n = 6)</text>
</svg>
</body></html>
